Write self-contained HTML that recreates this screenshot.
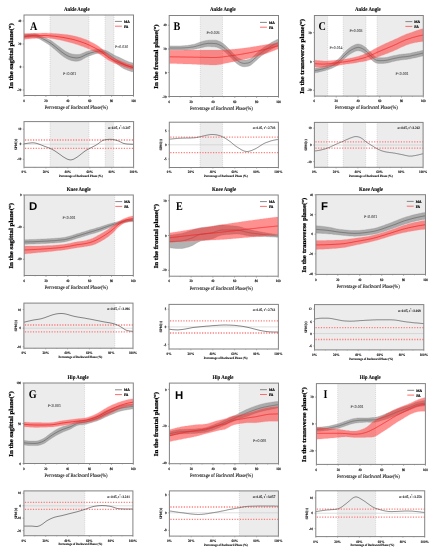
<!DOCTYPE html>
<html><head><meta charset="utf-8"><title>Figure</title>
<style>html,body{margin:0;padding:0;background:#fff;width:434px;height:550px;overflow:hidden}svg{display:block;filter:blur(0.3px)}text{text-rendering:geometricPrecision}</style>
</head><body>
<svg width="434" height="550" viewBox="0 0 434 550">
<defs><clipPath id="cA"><rect x="24" y="15" width="109.5" height="80.5"/></clipPath><clipPath id="cB"><rect x="169.2" y="15.5" width="109.3" height="81"/></clipPath><clipPath id="cC"><rect x="314.4" y="15.5" width="108.9" height="80.6"/></clipPath><clipPath id="cD"><rect x="24.2" y="195" width="109.1" height="80.5"/></clipPath><clipPath id="cE"><rect x="169.3" y="195" width="108.9" height="81.2"/></clipPath><clipPath id="cF"><rect x="315.9" y="194.7" width="109.6" height="79.7"/></clipPath><clipPath id="cG"><rect x="23.8" y="383" width="109.5" height="80.5"/></clipPath><clipPath id="cH"><rect x="169.4" y="383.1" width="109.1" height="80.6"/></clipPath><clipPath id="cI"><rect x="316.4" y="383.6" width="109" height="80.8"/></clipPath></defs>
<rect width="434" height="550" fill="#fff"/>
<rect x="50" y="15" width="39" height="80.5" fill="#ececec"/>
<line x1="50" y1="15" x2="50" y2="95.5" stroke="#b4b4b4" stroke-width="0.6" stroke-dasharray="0.7,1.4"/>
<line x1="89" y1="15" x2="89" y2="95.5" stroke="#b4b4b4" stroke-width="0.6" stroke-dasharray="0.7,1.4"/>
<rect x="105" y="15" width="9" height="80.5" fill="#ececec"/>
<line x1="105" y1="15" x2="105" y2="95.5" stroke="#b4b4b4" stroke-width="0.6" stroke-dasharray="0.7,1.4"/>
<line x1="114" y1="15" x2="114" y2="95.5" stroke="#b4b4b4" stroke-width="0.6" stroke-dasharray="0.7,1.4"/>
<g clip-path="url(#cA)">
<path d="M24,34.7 L25,34.5 L26,34.4 L27,34.2 L28,34.1 L29,34 L30,33.9 L31,33.8 L32,33.8 L33,33.8 L34,33.8 L35,33.8 L36,34 L37,34.2 L38,34.5 L39,35 L40,35.4 L41,35.9 L42,36.4 L43,36.9 L44,37.3 L45,37.7 L46,38.1 L47,38.5 L48,38.9 L49,39.4 L50,40 L51,40.6 L52,41.2 L53,41.9 L54,42.7 L55,43.4 L56,44.2 L57,45 L58,45.8 L59,46.5 L60,47.3 L61,48.1 L62,48.8 L63,49.6 L64,50.2 L65,50.9 L66,51.5 L67,52.1 L68,52.6 L69,53.1 L70,53.4 L71,53.7 L72,54 L73,54.2 L74,54.3 L75,54.4 L76,54.5 L77,54.5 L78,54.5 L79,54.4 L80,54.2 L81,53.9 L82,53.5 L83,53.1 L84,52.7 L85,52.2 L86,51.8 L87,51.5 L88,51.2 L89,50.9 L90,50.6 L91,50.3 L92,50.1 L93,49.9 L94,49.7 L95,49.5 L96,49.4 L97,49.2 L98,49.2 L99,49.2 L100,49.2 L101,49.3 L102,49.5 L103,49.7 L104,49.9 L105,50.2 L106,50.6 L107,51 L108,51.5 L109,52.1 L110,52.7 L111,53.2 L112,53.8 L113,54.3 L114,54.9 L115,55.4 L116,55.9 L117,56.4 L118,56.8 L119,57.3 L120,57.8 L121,58.2 L122,58.7 L123,59.2 L124,59.7 L125,60.2 L126,60.7 L127,61.1 L128,61.5 L129,61.9 L130,62.2 L131,62.5 L132,62.8 L133,63.1 L133.5,63.1 L133.5,71.9 L133,71.8 L132,71.7 L131,71.4 L130,71.1 L129,70.8 L128,70.4 L127,70 L126,69.6 L125,69.2 L124,68.7 L123,68.2 L122,67.6 L121,67 L120,66.3 L119,65.5 L118,64.7 L117,63.9 L116,63.1 L115,62.3 L114,61.4 L113,60.6 L112,59.7 L111,58.9 L110,58.1 L109,57.3 L108,56.5 L107,55.8 L106,55.2 L105,54.7 L104,54.3 L103,53.9 L102,53.7 L101,53.4 L100,53.3 L99,53.3 L98,53.3 L97,53.4 L96,53.7 L95,53.9 L94,54.3 L93,54.6 L92,55 L91,55.3 L90,55.7 L89,56.1 L88,56.4 L87,56.9 L86,57.3 L85,57.9 L84,58.5 L83,59.1 L82,59.7 L81,60.2 L80,60.6 L79,60.9 L78,61.1 L77,61.2 L76,61.2 L75,61.2 L74,61 L73,60.9 L72,60.7 L71,60.4 L70,60.1 L69,59.8 L68,59.3 L67,58.8 L66,58.2 L65,57.6 L64,57 L63,56.3 L62,55.5 L61,54.7 L60,53.9 L59,53 L58,52.2 L57,51.3 L56,50.4 L55,49.6 L54,48.7 L53,47.9 L52,47.1 L51,46.3 L50,45.6 L49,44.8 L48,44.1 L47,43.5 L46,42.8 L45,42.2 L44,41.6 L43,41 L42,40.4 L41,39.8 L40,39.3 L39,38.7 L38,38.2 L37,37.9 L36,37.6 L35,37.4 L34,37.3 L33,37.3 L32,37.3 L31,37.3 L30,37.3 L29,37.4 L28,37.5 L27,37.6 L26,37.8 L25,37.9 L24,38Z" fill="#808080" fill-opacity="0.6"/><polyline points="24,34.7 25,34.5 26,34.4 27,34.2 28,34.1 29,34 30,33.9 31,33.8 32,33.8 33,33.8 34,33.8 35,33.8 36,34 37,34.2 38,34.5 39,35 40,35.4 41,35.9 42,36.4 43,36.9 44,37.3 45,37.7 46,38.1 47,38.5 48,38.9 49,39.4 50,40 51,40.6 52,41.2 53,41.9 54,42.7 55,43.4 56,44.2 57,45 58,45.8 59,46.5 60,47.3 61,48.1 62,48.8 63,49.6 64,50.2 65,50.9 66,51.5 67,52.1 68,52.6 69,53.1 70,53.4 71,53.7 72,54 73,54.2 74,54.3 75,54.4 76,54.5 77,54.5 78,54.5 79,54.4 80,54.2 81,53.9 82,53.5 83,53.1 84,52.7 85,52.2 86,51.8 87,51.5 88,51.2 89,50.9 90,50.6 91,50.3 92,50.1 93,49.9 94,49.7 95,49.5 96,49.4 97,49.2 98,49.2 99,49.2 100,49.2 101,49.3 102,49.5 103,49.7 104,49.9 105,50.2 106,50.6 107,51 108,51.5 109,52.1 110,52.7 111,53.2 112,53.8 113,54.3 114,54.9 115,55.4 116,55.9 117,56.4 118,56.8 119,57.3 120,57.8 121,58.2 122,58.7 123,59.2 124,59.7 125,60.2 126,60.7 127,61.1 128,61.5 129,61.9 130,62.2 131,62.5 132,62.8 133,63.1 133.5,63.1" fill="none" stroke="#8a8a8a" stroke-width="0.3"/><polyline points="24,38 25,37.9 26,37.8 27,37.6 28,37.5 29,37.4 30,37.3 31,37.3 32,37.3 33,37.3 34,37.3 35,37.4 36,37.6 37,37.9 38,38.2 39,38.7 40,39.3 41,39.8 42,40.4 43,41 44,41.6 45,42.2 46,42.8 47,43.5 48,44.1 49,44.8 50,45.6 51,46.3 52,47.1 53,47.9 54,48.7 55,49.6 56,50.4 57,51.3 58,52.2 59,53 60,53.9 61,54.7 62,55.5 63,56.3 64,57 65,57.6 66,58.2 67,58.8 68,59.3 69,59.8 70,60.1 71,60.4 72,60.7 73,60.9 74,61 75,61.2 76,61.2 77,61.2 78,61.1 79,60.9 80,60.6 81,60.2 82,59.7 83,59.1 84,58.5 85,57.9 86,57.3 87,56.9 88,56.4 89,56.1 90,55.7 91,55.3 92,55 93,54.6 94,54.3 95,53.9 96,53.7 97,53.4 98,53.3 99,53.3 100,53.3 101,53.4 102,53.7 103,53.9 104,54.3 105,54.7 106,55.2 107,55.8 108,56.5 109,57.3 110,58.1 111,58.9 112,59.7 113,60.6 114,61.4 115,62.3 116,63.1 117,63.9 118,64.7 119,65.5 120,66.3 121,67 122,67.6 123,68.2 124,68.7 125,69.2 126,69.6 127,70 128,70.4 129,70.8 130,71.1 131,71.4 132,71.7 133,71.8 133.5,71.9" fill="none" stroke="#8a8a8a" stroke-width="0.3"/><polyline points="24,36.4 25,36.2 26,36.1 27,35.9 28,35.8 29,35.7 30,35.6 31,35.6 32,35.5 33,35.5 34,35.5 35,35.6 36,35.8 37,36 38,36.4 39,36.8 40,37.4 41,37.9 42,38.4 43,38.9 44,39.4 45,39.9 46,40.4 47,41 48,41.5 49,42.1 50,42.8 51,43.4 52,44.2 53,44.9 54,45.7 55,46.5 56,47.3 57,48.1 58,49 59,49.8 60,50.6 61,51.4 62,52.2 63,52.9 64,53.6 65,54.3 66,54.9 67,55.5 68,56 69,56.4 70,56.8 71,57.1 72,57.3 73,57.5 74,57.7 75,57.8 76,57.9 77,57.9 78,57.8 79,57.6 80,57.4 81,57 82,56.6 83,56.1 84,55.6 85,55.1 86,54.6 87,54.2 88,53.8 89,53.5 90,53.1 91,52.8 92,52.5 93,52.3 94,52 95,51.7 96,51.5 97,51.3 98,51.2 99,51.2 100,51.3 101,51.4 102,51.6 103,51.8 104,52.1 105,52.5 106,52.9 107,53.4 108,54 109,54.7 110,55.4 111,56.1 112,56.8 113,57.5 114,58.1 115,58.8 116,59.5 117,60.1 118,60.8 119,61.4 120,62 121,62.6 122,63.2 123,63.7 124,64.2 125,64.7 126,65.1 127,65.6 128,66 129,66.3 130,66.7 131,67 132,67.2 133,67.5 133.5,67.5" fill="none" stroke="#555555" stroke-width="0.55"/>
<path d="M24,33.5 L25,33.5 L26,33.5 L27,33.5 L28,33.4 L29,33.4 L30,33.4 L31,33.4 L32,33.4 L33,33.4 L34,33.3 L35,33.3 L36,33.3 L37,33.3 L38,33.2 L39,33.2 L40,33.2 L41,33.2 L42,33.1 L43,33.1 L44,33.1 L45,33.1 L46,33.1 L47,33.1 L48,33.2 L49,33.2 L50,33.2 L51,33.3 L52,33.3 L53,33.4 L54,33.5 L55,33.5 L56,33.6 L57,33.7 L58,33.7 L59,33.8 L60,33.9 L61,34 L62,34.1 L63,34.2 L64,34.3 L65,34.4 L66,34.5 L67,34.6 L68,34.8 L69,34.9 L70,35.1 L71,35.3 L72,35.5 L73,35.7 L74,35.9 L75,36.1 L76,36.4 L77,36.6 L78,36.9 L79,37.2 L80,37.5 L81,37.8 L82,38.2 L83,38.5 L84,38.9 L85,39.2 L86,39.6 L87,40 L88,40.5 L89,40.9 L90,41.4 L91,42 L92,42.5 L93,43 L94,43.6 L95,44.1 L96,44.7 L97,45.3 L98,46 L99,46.6 L100,47.4 L101,48.1 L102,48.9 L103,49.8 L104,50.7 L105,51.6 L106,52.5 L107,53.4 L108,54.2 L109,55 L110,55.8 L111,56.4 L112,57 L113,57.6 L114,58.1 L115,58.5 L116,59 L117,59.4 L118,59.8 L119,60.2 L120,60.6 L121,61 L122,61.4 L123,61.8 L124,62.2 L125,62.6 L126,63 L127,63.4 L128,63.7 L129,64 L130,64.3 L131,64.6 L132,64.8 L133,65 L133.5,65.1 L133.5,69.7 L133,69.6 L132,69.4 L131,69.2 L130,68.9 L129,68.6 L128,68.3 L127,68 L126,67.7 L125,67.3 L124,67 L123,66.6 L122,66.2 L121,65.8 L120,65.4 L119,65 L118,64.6 L117,64.2 L116,63.8 L115,63.4 L114,62.9 L113,62.5 L112,62 L111,61.6 L110,61 L109,60.5 L108,59.9 L107,59.2 L106,58.6 L105,57.9 L104,57.1 L103,56.4 L102,55.7 L101,55 L100,54.4 L99,53.8 L98,53.3 L97,52.8 L96,52.4 L95,51.9 L94,51.5 L93,51 L92,50.5 L91,50 L90,49.6 L89,49.1 L88,48.7 L87,48.2 L86,47.8 L85,47.4 L84,47 L83,46.6 L82,46.3 L81,45.9 L80,45.5 L79,45.2 L78,44.8 L77,44.5 L76,44.2 L75,43.9 L74,43.6 L73,43.3 L72,43 L71,42.7 L70,42.5 L69,42.2 L68,41.9 L67,41.7 L66,41.4 L65,41.2 L64,40.9 L63,40.7 L62,40.5 L61,40.2 L60,40 L59,39.8 L58,39.7 L57,39.5 L56,39.3 L55,39.1 L54,38.9 L53,38.7 L52,38.6 L51,38.4 L50,38.3 L49,38.2 L48,38.1 L47,38 L46,38 L45,37.9 L44,37.9 L43,37.9 L42,38 L41,38 L40,38.1 L39,38.1 L38,38.2 L37,38.2 L36,38.3 L35,38.4 L34,38.4 L33,38.5 L32,38.6 L31,38.7 L30,38.8 L29,38.9 L28,39 L27,39.1 L26,39.2 L25,39.3 L24,39.4Z" fill="#ff2a2a" fill-opacity="0.52"/><polyline points="24,33.5 25,33.5 26,33.5 27,33.5 28,33.4 29,33.4 30,33.4 31,33.4 32,33.4 33,33.4 34,33.3 35,33.3 36,33.3 37,33.3 38,33.2 39,33.2 40,33.2 41,33.2 42,33.1 43,33.1 44,33.1 45,33.1 46,33.1 47,33.1 48,33.2 49,33.2 50,33.2 51,33.3 52,33.3 53,33.4 54,33.5 55,33.5 56,33.6 57,33.7 58,33.7 59,33.8 60,33.9 61,34 62,34.1 63,34.2 64,34.3 65,34.4 66,34.5 67,34.6 68,34.8 69,34.9 70,35.1 71,35.3 72,35.5 73,35.7 74,35.9 75,36.1 76,36.4 77,36.6 78,36.9 79,37.2 80,37.5 81,37.8 82,38.2 83,38.5 84,38.9 85,39.2 86,39.6 87,40 88,40.5 89,40.9 90,41.4 91,42 92,42.5 93,43 94,43.6 95,44.1 96,44.7 97,45.3 98,46 99,46.6 100,47.4 101,48.1 102,48.9 103,49.8 104,50.7 105,51.6 106,52.5 107,53.4 108,54.2 109,55 110,55.8 111,56.4 112,57 113,57.6 114,58.1 115,58.5 116,59 117,59.4 118,59.8 119,60.2 120,60.6 121,61 122,61.4 123,61.8 124,62.2 125,62.6 126,63 127,63.4 128,63.7 129,64 130,64.3 131,64.6 132,64.8 133,65 133.5,65.1" fill="none" stroke="#ff9090" stroke-width="0.25"/><polyline points="24,39.4 25,39.3 26,39.2 27,39.1 28,39 29,38.9 30,38.8 31,38.7 32,38.6 33,38.5 34,38.4 35,38.4 36,38.3 37,38.2 38,38.2 39,38.1 40,38.1 41,38 42,38 43,37.9 44,37.9 45,37.9 46,38 47,38 48,38.1 49,38.2 50,38.3 51,38.4 52,38.6 53,38.7 54,38.9 55,39.1 56,39.3 57,39.5 58,39.7 59,39.8 60,40 61,40.2 62,40.5 63,40.7 64,40.9 65,41.2 66,41.4 67,41.7 68,41.9 69,42.2 70,42.5 71,42.7 72,43 73,43.3 74,43.6 75,43.9 76,44.2 77,44.5 78,44.8 79,45.2 80,45.5 81,45.9 82,46.3 83,46.6 84,47 85,47.4 86,47.8 87,48.2 88,48.7 89,49.1 90,49.6 91,50 92,50.5 93,51 94,51.5 95,51.9 96,52.4 97,52.8 98,53.3 99,53.8 100,54.4 101,55 102,55.7 103,56.4 104,57.1 105,57.9 106,58.6 107,59.2 108,59.9 109,60.5 110,61 111,61.6 112,62 113,62.5 114,62.9 115,63.4 116,63.8 117,64.2 118,64.6 119,65 120,65.4 121,65.8 122,66.2 123,66.6 124,67 125,67.3 126,67.7 127,68 128,68.3 129,68.6 130,68.9 131,69.2 132,69.4 133,69.6 133.5,69.7" fill="none" stroke="#ff9090" stroke-width="0.25"/><polyline points="24,36.5 25,36.4 26,36.4 27,36.3 28,36.2 29,36.2 30,36.1 31,36 32,36 33,35.9 34,35.9 35,35.8 36,35.8 37,35.7 38,35.7 39,35.7 40,35.6 41,35.6 42,35.6 43,35.5 44,35.5 45,35.5 46,35.5 47,35.6 48,35.6 49,35.7 50,35.8 51,35.9 52,36 53,36.1 54,36.2 55,36.3 56,36.4 57,36.6 58,36.7 59,36.8 60,37 61,37.1 62,37.3 63,37.4 64,37.6 65,37.8 66,38 67,38.2 68,38.4 69,38.6 70,38.8 71,39 72,39.2 73,39.5 74,39.7 75,40 76,40.3 77,40.6 78,40.9 79,41.2 80,41.5 81,41.9 82,42.2 83,42.6 84,42.9 85,43.3 86,43.7 87,44.1 88,44.6 89,45 90,45.5 91,46 92,46.5 93,47 94,47.5 95,48 96,48.5 97,49.1 98,49.6 99,50.2 100,50.9 101,51.6 102,52.3 103,53.1 104,53.9 105,54.7 106,55.5 107,56.3 108,57.1 109,57.8 110,58.4 111,59 112,59.5 113,60 114,60.5 115,61 116,61.4 117,61.8 118,62.2 119,62.6 120,63 121,63.4 122,63.8 123,64.2 124,64.6 125,65 126,65.4 127,65.7 128,66 129,66.3 130,66.6 131,66.9 132,67.1 133,67.3 133.5,67.4" fill="none" stroke="#f52525" stroke-width="0.75"/>
</g>
<rect x="24" y="15" width="109.5" height="80.5" fill="none" stroke="#828282" stroke-width="1.0"/>
<line x1="22.7" y1="21" x2="24" y2="21" stroke="#828282" stroke-width="0.7"/>
<text transform="translate(21.20,22.10) scale(0.9,1)" font-size="3.33" text-anchor="end" font-weight="normal" style="font-family:'Liberation Serif',serif" fill="#222" stroke="#222" stroke-width="0.2" >40</text>
<line x1="22.7" y1="44" x2="24" y2="44" stroke="#828282" stroke-width="0.7"/>
<text transform="translate(21.20,45.10) scale(0.9,1)" font-size="3.33" text-anchor="end" font-weight="normal" style="font-family:'Liberation Serif',serif" fill="#222" stroke="#222" stroke-width="0.2" >20</text>
<line x1="22.7" y1="67" x2="24" y2="67" stroke="#828282" stroke-width="0.7"/>
<text transform="translate(21.20,68.10) scale(0.9,1)" font-size="3.33" text-anchor="end" font-weight="normal" style="font-family:'Liberation Serif',serif" fill="#222" stroke="#222" stroke-width="0.2" >0</text>
<line x1="22.7" y1="90" x2="24" y2="90" stroke="#828282" stroke-width="0.7"/>
<text transform="translate(21.20,91.10) scale(0.9,1)" font-size="3.33" text-anchor="end" font-weight="normal" style="font-family:'Liberation Serif',serif" fill="#222" stroke="#222" stroke-width="0.2" >-20</text>
<line x1="24" y1="95.5" x2="24" y2="97" stroke="#828282" stroke-width="0.6"/>
<text transform="translate(24.00,101.70) scale(0.9,1)" font-size="3.50" text-anchor="middle" font-weight="normal" style="font-family:'Liberation Serif',serif" fill="#222" stroke="#222" stroke-width="0.22" >0</text>
<line x1="35" y1="95.5" x2="35" y2="96.4" stroke="#828282" stroke-width="0.5"/>
<line x1="45.9" y1="95.5" x2="45.9" y2="97" stroke="#828282" stroke-width="0.6"/>
<text transform="translate(45.90,101.70) scale(0.9,1)" font-size="3.50" text-anchor="middle" font-weight="normal" style="font-family:'Liberation Serif',serif" fill="#222" stroke="#222" stroke-width="0.22" >20</text>
<line x1="56.8" y1="95.5" x2="56.8" y2="96.4" stroke="#828282" stroke-width="0.5"/>
<line x1="67.8" y1="95.5" x2="67.8" y2="97" stroke="#828282" stroke-width="0.6"/>
<text transform="translate(67.80,101.70) scale(0.9,1)" font-size="3.50" text-anchor="middle" font-weight="normal" style="font-family:'Liberation Serif',serif" fill="#222" stroke="#222" stroke-width="0.22" >40</text>
<line x1="78.8" y1="95.5" x2="78.8" y2="96.4" stroke="#828282" stroke-width="0.5"/>
<line x1="89.7" y1="95.5" x2="89.7" y2="97" stroke="#828282" stroke-width="0.6"/>
<text transform="translate(89.70,101.70) scale(0.9,1)" font-size="3.50" text-anchor="middle" font-weight="normal" style="font-family:'Liberation Serif',serif" fill="#222" stroke="#222" stroke-width="0.22" >60</text>
<line x1="100.7" y1="95.5" x2="100.7" y2="96.4" stroke="#828282" stroke-width="0.5"/>
<line x1="111.6" y1="95.5" x2="111.6" y2="97" stroke="#828282" stroke-width="0.6"/>
<text transform="translate(111.60,101.70) scale(0.9,1)" font-size="3.50" text-anchor="middle" font-weight="normal" style="font-family:'Liberation Serif',serif" fill="#222" stroke="#222" stroke-width="0.22" >80</text>
<line x1="122.5" y1="95.5" x2="122.5" y2="96.4" stroke="#828282" stroke-width="0.5"/>
<line x1="133.5" y1="95.5" x2="133.5" y2="97" stroke="#828282" stroke-width="0.6"/>
<text transform="translate(133.50,101.70) scale(0.9,1)" font-size="3.50" text-anchor="middle" font-weight="normal" style="font-family:'Liberation Serif',serif" fill="#222" stroke="#222" stroke-width="0.22" >100</text>
<text transform="translate(76.25,108.80) scale(0.86,1)" font-size="5.29" text-anchor="middle" font-weight="normal" style="font-family:'Liberation Serif',serif" fill="#111" stroke="#111" stroke-width="0.1" >Percentage of Backward Phase(%)</text>
<text transform="translate(76.75,10.80) scale(0.86,1)" font-size="5.70" text-anchor="middle" font-weight="bold" style="font-family:'Liberation Serif',serif" fill="#000" stroke="#000" stroke-width="0.1" >Ankle Angle</text>
<text x="0" y="0" font-size="6.88" font-weight="bold" text-anchor="middle" style="font-family:'Liberation Serif',serif" fill="#000" stroke="#000" stroke-width="0.25" transform="translate(13,55.9) rotate(-90) scale(1,0.88)">In the sagittal plane(°)</text>
<text transform="translate(30.10,29.80) scale(0.86,1)" font-size="11.80" text-anchor="start" font-weight="bold" style="font-family:'Liberation Serif',serif" fill="#000" >A</text>
<line x1="115" y1="21.4" x2="121.9" y2="21.4" stroke="#7a7a7a" stroke-width="0.9"/>
<text transform="translate(123.90,22.80) scale(0.9,1)" font-size="3.90" text-anchor="start" font-weight="bold" style="font-family:'Liberation Serif',serif" fill="#000" stroke="#000" stroke-width="0.15" >MA</text>
<line x1="115" y1="26.2" x2="121.9" y2="26.2" stroke="#ff5c5c" stroke-width="0.9"/>
<text transform="translate(123.90,27.60) scale(0.9,1)" font-size="3.90" text-anchor="start" font-weight="bold" style="font-family:'Liberation Serif',serif" fill="#000" stroke="#000" stroke-width="0.15" >FA</text>
<text transform="translate(63.10,74.70) scale(0.9,1)" font-size="4.33" text-anchor="start" font-weight="normal" style="font-family:'Liberation Serif',serif" fill="#333" stroke="#333" stroke-width="0.05" >P&lt;0.001</text>
<text transform="translate(115.00,48.20) scale(0.9,1)" font-size="4.33" text-anchor="start" font-weight="normal" style="font-family:'Liberation Serif',serif" fill="#333" stroke="#333" stroke-width="0.05" >P=0.030</text>
<rect x="200.3" y="15.5" width="22.2" height="81" fill="#ececec"/>
<line x1="200.3" y1="15.5" x2="200.3" y2="96.5" stroke="#b4b4b4" stroke-width="0.6" stroke-dasharray="0.7,1.4"/>
<line x1="222.5" y1="15.5" x2="222.5" y2="96.5" stroke="#b4b4b4" stroke-width="0.6" stroke-dasharray="0.7,1.4"/>
<g clip-path="url(#cB)">
<path d="M169.3,45.9 L170.3,45.9 L171.3,45.9 L172.3,45.9 L173.3,45.9 L174.3,45.9 L175.3,45.9 L176.3,45.9 L177.3,45.9 L178.3,45.9 L179.3,45.9 L180.3,45.9 L181.3,45.9 L182.3,45.8 L183.3,45.8 L184.3,45.7 L185.3,45.6 L186.3,45.5 L187.3,45.4 L188.3,45.3 L189.3,45.1 L190.3,45 L191.3,44.8 L192.3,44.6 L193.3,44.4 L194.3,44.2 L195.3,43.9 L196.3,43.5 L197.3,43.2 L198.3,42.8 L199.3,42.5 L200.3,42.1 L201.3,41.8 L202.3,41.5 L203.3,41.2 L204.3,40.9 L205.3,40.7 L206.3,40.5 L207.3,40.4 L208.3,40.3 L209.3,40.2 L210.3,40.2 L211.3,40.2 L212.3,40.2 L213.3,40.2 L214.3,40.2 L215.3,40.2 L216.3,40.3 L217.3,40.6 L218.3,40.9 L219.3,41.3 L220.3,41.7 L221.3,42.3 L222.3,42.9 L223.3,43.6 L224.3,44.4 L225.3,45.2 L226.3,46.2 L227.3,47.2 L228.3,48.2 L229.3,49.2 L230.3,50.3 L231.3,51.3 L232.3,52.4 L233.3,53.5 L234.3,54.5 L235.3,55.5 L236.3,56.4 L237.3,57.2 L238.3,57.9 L239.3,58.5 L240.3,59 L241.3,59.5 L242.3,59.8 L243.3,60 L244.3,60 L245.3,60 L246.3,59.9 L247.3,59.7 L248.3,59.5 L249.3,59.2 L250.3,58.7 L251.3,58.1 L252.3,57.3 L253.3,56.4 L254.3,55.5 L255.3,54.6 L256.3,53.6 L257.3,52.7 L258.3,51.8 L259.3,50.9 L260.3,50.1 L261.3,49.3 L262.3,48.5 L263.3,47.8 L264.3,47.1 L265.3,46.5 L266.3,45.8 L267.3,45.2 L268.3,44.5 L269.3,43.9 L270.3,43.2 L271.3,42.6 L272.3,42 L273.3,41.4 L274.3,40.9 L275.3,40.4 L276.3,39.9 L277.3,39.6 L278.3,39.3 L278.5,39.2 L278.5,45.9 L278.3,46 L277.3,46.3 L276.3,46.7 L275.3,47.1 L274.3,47.6 L273.3,48.2 L272.3,48.7 L271.3,49.3 L270.3,50 L269.3,50.6 L268.3,51.3 L267.3,51.9 L266.3,52.6 L265.3,53.2 L264.3,53.9 L263.3,54.5 L262.3,55.3 L261.3,56 L260.3,56.8 L259.3,57.7 L258.3,58.6 L257.3,59.5 L256.3,60.4 L255.3,61.3 L254.3,62.2 L253.3,63.1 L252.3,64 L251.3,64.8 L250.3,65.4 L249.3,65.9 L248.3,66.2 L247.3,66.4 L246.3,66.6 L245.3,66.7 L244.3,66.7 L243.3,66.7 L242.3,66.5 L241.3,66.2 L240.3,65.7 L239.3,65.2 L238.3,64.6 L237.3,63.9 L236.3,63.1 L235.3,62.2 L234.3,61.2 L233.3,60.2 L232.3,59.1 L231.3,58.1 L230.3,57 L229.3,56 L228.3,55 L227.3,54.1 L226.3,53.1 L225.3,52.2 L224.3,51.4 L223.3,50.7 L222.3,50 L221.3,49.4 L220.3,48.8 L219.3,48.3 L218.3,47.8 L217.3,47.4 L216.3,47.1 L215.3,47 L214.3,46.8 L213.3,46.8 L212.3,46.7 L211.3,46.7 L210.3,46.6 L209.3,46.6 L208.3,46.6 L207.3,46.6 L206.3,46.7 L205.3,46.8 L204.3,47 L203.3,47.2 L202.3,47.5 L201.3,47.7 L200.3,47.9 L199.3,48.2 L198.3,48.4 L197.3,48.6 L196.3,48.9 L195.3,49.1 L194.3,49.2 L193.3,49.4 L192.3,49.5 L191.3,49.6 L190.3,49.7 L189.3,49.8 L188.3,49.8 L187.3,49.9 L186.3,50 L185.3,50 L184.3,50.1 L183.3,50.1 L182.3,50.1 L181.3,50.1 L180.3,50.1 L179.3,50.1 L178.3,50.1 L177.3,50.1 L176.3,50.1 L175.3,50.1 L174.3,50.1 L173.3,50.1 L172.3,50.1 L171.3,50.1 L170.3,50.1 L169.3,50.1Z" fill="#808080" fill-opacity="0.6"/><polyline points="169.3,45.9 170.3,45.9 171.3,45.9 172.3,45.9 173.3,45.9 174.3,45.9 175.3,45.9 176.3,45.9 177.3,45.9 178.3,45.9 179.3,45.9 180.3,45.9 181.3,45.9 182.3,45.8 183.3,45.8 184.3,45.7 185.3,45.6 186.3,45.5 187.3,45.4 188.3,45.3 189.3,45.1 190.3,45 191.3,44.8 192.3,44.6 193.3,44.4 194.3,44.2 195.3,43.9 196.3,43.5 197.3,43.2 198.3,42.8 199.3,42.5 200.3,42.1 201.3,41.8 202.3,41.5 203.3,41.2 204.3,40.9 205.3,40.7 206.3,40.5 207.3,40.4 208.3,40.3 209.3,40.2 210.3,40.2 211.3,40.2 212.3,40.2 213.3,40.2 214.3,40.2 215.3,40.2 216.3,40.3 217.3,40.6 218.3,40.9 219.3,41.3 220.3,41.7 221.3,42.3 222.3,42.9 223.3,43.6 224.3,44.4 225.3,45.2 226.3,46.2 227.3,47.2 228.3,48.2 229.3,49.2 230.3,50.3 231.3,51.3 232.3,52.4 233.3,53.5 234.3,54.5 235.3,55.5 236.3,56.4 237.3,57.2 238.3,57.9 239.3,58.5 240.3,59 241.3,59.5 242.3,59.8 243.3,60 244.3,60 245.3,60 246.3,59.9 247.3,59.7 248.3,59.5 249.3,59.2 250.3,58.7 251.3,58.1 252.3,57.3 253.3,56.4 254.3,55.5 255.3,54.6 256.3,53.6 257.3,52.7 258.3,51.8 259.3,50.9 260.3,50.1 261.3,49.3 262.3,48.5 263.3,47.8 264.3,47.1 265.3,46.5 266.3,45.8 267.3,45.2 268.3,44.5 269.3,43.9 270.3,43.2 271.3,42.6 272.3,42 273.3,41.4 274.3,40.9 275.3,40.4 276.3,39.9 277.3,39.6 278.3,39.3 278.5,39.2" fill="none" stroke="#8a8a8a" stroke-width="0.3"/><polyline points="169.3,50.1 170.3,50.1 171.3,50.1 172.3,50.1 173.3,50.1 174.3,50.1 175.3,50.1 176.3,50.1 177.3,50.1 178.3,50.1 179.3,50.1 180.3,50.1 181.3,50.1 182.3,50.1 183.3,50.1 184.3,50.1 185.3,50 186.3,50 187.3,49.9 188.3,49.8 189.3,49.8 190.3,49.7 191.3,49.6 192.3,49.5 193.3,49.4 194.3,49.2 195.3,49.1 196.3,48.9 197.3,48.6 198.3,48.4 199.3,48.2 200.3,47.9 201.3,47.7 202.3,47.5 203.3,47.2 204.3,47 205.3,46.8 206.3,46.7 207.3,46.6 208.3,46.6 209.3,46.6 210.3,46.6 211.3,46.7 212.3,46.7 213.3,46.8 214.3,46.8 215.3,47 216.3,47.1 217.3,47.4 218.3,47.8 219.3,48.3 220.3,48.8 221.3,49.4 222.3,50 223.3,50.7 224.3,51.4 225.3,52.2 226.3,53.1 227.3,54.1 228.3,55 229.3,56 230.3,57 231.3,58.1 232.3,59.1 233.3,60.2 234.3,61.2 235.3,62.2 236.3,63.1 237.3,63.9 238.3,64.6 239.3,65.2 240.3,65.7 241.3,66.2 242.3,66.5 243.3,66.7 244.3,66.7 245.3,66.7 246.3,66.6 247.3,66.4 248.3,66.2 249.3,65.9 250.3,65.4 251.3,64.8 252.3,64 253.3,63.1 254.3,62.2 255.3,61.3 256.3,60.4 257.3,59.5 258.3,58.6 259.3,57.7 260.3,56.8 261.3,56 262.3,55.3 263.3,54.5 264.3,53.9 265.3,53.2 266.3,52.6 267.3,51.9 268.3,51.3 269.3,50.6 270.3,50 271.3,49.3 272.3,48.7 273.3,48.2 274.3,47.6 275.3,47.1 276.3,46.7 277.3,46.3 278.3,46 278.5,45.9" fill="none" stroke="#8a8a8a" stroke-width="0.3"/><polyline points="169.3,48 170.3,48 171.3,48 172.3,48 173.3,48 174.3,48 175.3,48 176.3,48 177.3,48 178.3,48 179.3,48 180.3,48 181.3,48 182.3,48 183.3,47.9 184.3,47.9 185.3,47.8 186.3,47.7 187.3,47.7 188.3,47.6 189.3,47.5 190.3,47.3 191.3,47.2 192.3,47.1 193.3,46.9 194.3,46.7 195.3,46.5 196.3,46.2 197.3,45.9 198.3,45.6 199.3,45.3 200.3,45 201.3,44.8 202.3,44.5 203.3,44.2 204.3,44 205.3,43.8 206.3,43.6 207.3,43.5 208.3,43.4 209.3,43.4 210.3,43.4 211.3,43.4 212.3,43.4 213.3,43.5 214.3,43.5 215.3,43.6 216.3,43.7 217.3,44 218.3,44.3 219.3,44.8 220.3,45.3 221.3,45.8 222.3,46.5 223.3,47.1 224.3,47.9 225.3,48.7 226.3,49.7 227.3,50.6 228.3,51.6 229.3,52.6 230.3,53.6 231.3,54.7 232.3,55.8 233.3,56.8 234.3,57.9 235.3,58.9 236.3,59.8 237.3,60.5 238.3,61.2 239.3,61.8 240.3,62.4 241.3,62.8 242.3,63.1 243.3,63.3 244.3,63.4 245.3,63.3 246.3,63.2 247.3,63.1 248.3,62.9 249.3,62.5 250.3,62.1 251.3,61.4 252.3,60.7 253.3,59.8 254.3,58.9 255.3,57.9 256.3,57 257.3,56.1 258.3,55.2 259.3,54.3 260.3,53.5 261.3,52.7 262.3,51.9 263.3,51.2 264.3,50.5 265.3,49.8 266.3,49.2 267.3,48.6 268.3,47.9 269.3,47.2 270.3,46.6 271.3,46 272.3,45.4 273.3,44.8 274.3,44.3 275.3,43.8 276.3,43.3 277.3,42.9 278.3,42.6 278.5,42.5" fill="none" stroke="#555555" stroke-width="0.55"/>
<path d="M169.3,50.2 L170.3,50.2 L171.3,50.2 L172.3,50.2 L173.3,50.2 L174.3,50.2 L175.3,50.2 L176.3,50.2 L177.3,50.2 L178.3,50.2 L179.3,50.2 L180.3,50.2 L181.3,50.2 L182.3,50.2 L183.3,50.2 L184.3,50.1 L185.3,50.1 L186.3,50.1 L187.3,50.1 L188.3,50.1 L189.3,50.1 L190.3,50.1 L191.3,50.1 L192.3,50.1 L193.3,50.1 L194.3,50.1 L195.3,50.1 L196.3,50.1 L197.3,50.1 L198.3,50.1 L199.3,50.1 L200.3,50.1 L201.3,50.1 L202.3,50.1 L203.3,50.1 L204.3,50 L205.3,50 L206.3,50 L207.3,50 L208.3,50 L209.3,50 L210.3,50 L211.3,50 L212.3,50 L213.3,50 L214.3,50 L215.3,50 L216.3,50 L217.3,50 L218.3,50 L219.3,50 L220.3,49.9 L221.3,49.9 L222.3,49.9 L223.3,49.8 L224.3,49.8 L225.3,49.8 L226.3,49.7 L227.3,49.7 L228.3,49.6 L229.3,49.5 L230.3,49.5 L231.3,49.4 L232.3,49.3 L233.3,49.3 L234.3,49.2 L235.3,49.1 L236.3,49 L237.3,48.9 L238.3,48.8 L239.3,48.7 L240.3,48.6 L241.3,48.4 L242.3,48.3 L243.3,48.2 L244.3,48.1 L245.3,48 L246.3,47.8 L247.3,47.7 L248.3,47.5 L249.3,47.4 L250.3,47.2 L251.3,47.1 L252.3,46.9 L253.3,46.7 L254.3,46.6 L255.3,46.4 L256.3,46.2 L257.3,46.1 L258.3,45.9 L259.3,45.7 L260.3,45.6 L261.3,45.4 L262.3,45.2 L263.3,45.1 L264.3,44.9 L265.3,44.7 L266.3,44.6 L267.3,44.4 L268.3,44.3 L269.3,44.1 L270.3,44 L271.3,43.8 L272.3,43.7 L273.3,43.5 L274.3,43.3 L275.3,43.2 L276.3,43 L277.3,42.9 L278.3,42.8 L278.5,42.8 L278.5,48.9 L278.3,49 L277.3,49.3 L276.3,49.6 L275.3,50 L274.3,50.4 L273.3,50.8 L272.3,51.2 L271.3,51.6 L270.3,52 L269.3,52.3 L268.3,52.7 L267.3,53 L266.3,53.4 L265.3,53.7 L264.3,54.1 L263.3,54.4 L262.3,54.7 L261.3,55 L260.3,55.3 L259.3,55.6 L258.3,55.9 L257.3,56.2 L256.3,56.4 L255.3,56.7 L254.3,57 L253.3,57.2 L252.3,57.5 L251.3,57.7 L250.3,58 L249.3,58.2 L248.3,58.4 L247.3,58.7 L246.3,58.9 L245.3,59.1 L244.3,59.4 L243.3,59.6 L242.3,59.8 L241.3,60 L240.3,60.2 L239.3,60.4 L238.3,60.7 L237.3,60.9 L236.3,61.1 L235.3,61.3 L234.3,61.5 L233.3,61.7 L232.3,61.9 L231.3,62.1 L230.3,62.3 L229.3,62.5 L228.3,62.7 L227.3,62.9 L226.3,63.1 L225.3,63.3 L224.3,63.6 L223.3,63.8 L222.3,64 L221.3,64.2 L220.3,64.4 L219.3,64.6 L218.3,64.7 L217.3,64.8 L216.3,64.9 L215.3,65 L214.3,65 L213.3,65 L212.3,65 L211.3,64.9 L210.3,64.9 L209.3,64.9 L208.3,64.8 L207.3,64.8 L206.3,64.8 L205.3,64.7 L204.3,64.7 L203.3,64.6 L202.3,64.6 L201.3,64.5 L200.3,64.5 L199.3,64.4 L198.3,64.4 L197.3,64.4 L196.3,64.3 L195.3,64.3 L194.3,64.2 L193.3,64.2 L192.3,64.2 L191.3,64.1 L190.3,64.1 L189.3,64.1 L188.3,64 L187.3,64 L186.3,64 L185.3,63.9 L184.3,63.9 L183.3,63.9 L182.3,63.8 L181.3,63.8 L180.3,63.8 L179.3,63.7 L178.3,63.7 L177.3,63.7 L176.3,63.6 L175.3,63.6 L174.3,63.6 L173.3,63.5 L172.3,63.5 L171.3,63.5 L170.3,63.4 L169.3,63.4Z" fill="#ff2a2a" fill-opacity="0.52"/><polyline points="169.3,50.2 170.3,50.2 171.3,50.2 172.3,50.2 173.3,50.2 174.3,50.2 175.3,50.2 176.3,50.2 177.3,50.2 178.3,50.2 179.3,50.2 180.3,50.2 181.3,50.2 182.3,50.2 183.3,50.2 184.3,50.1 185.3,50.1 186.3,50.1 187.3,50.1 188.3,50.1 189.3,50.1 190.3,50.1 191.3,50.1 192.3,50.1 193.3,50.1 194.3,50.1 195.3,50.1 196.3,50.1 197.3,50.1 198.3,50.1 199.3,50.1 200.3,50.1 201.3,50.1 202.3,50.1 203.3,50.1 204.3,50 205.3,50 206.3,50 207.3,50 208.3,50 209.3,50 210.3,50 211.3,50 212.3,50 213.3,50 214.3,50 215.3,50 216.3,50 217.3,50 218.3,50 219.3,50 220.3,49.9 221.3,49.9 222.3,49.9 223.3,49.8 224.3,49.8 225.3,49.8 226.3,49.7 227.3,49.7 228.3,49.6 229.3,49.5 230.3,49.5 231.3,49.4 232.3,49.3 233.3,49.3 234.3,49.2 235.3,49.1 236.3,49 237.3,48.9 238.3,48.8 239.3,48.7 240.3,48.6 241.3,48.4 242.3,48.3 243.3,48.2 244.3,48.1 245.3,48 246.3,47.8 247.3,47.7 248.3,47.5 249.3,47.4 250.3,47.2 251.3,47.1 252.3,46.9 253.3,46.7 254.3,46.6 255.3,46.4 256.3,46.2 257.3,46.1 258.3,45.9 259.3,45.7 260.3,45.6 261.3,45.4 262.3,45.2 263.3,45.1 264.3,44.9 265.3,44.7 266.3,44.6 267.3,44.4 268.3,44.3 269.3,44.1 270.3,44 271.3,43.8 272.3,43.7 273.3,43.5 274.3,43.3 275.3,43.2 276.3,43 277.3,42.9 278.3,42.8 278.5,42.8" fill="none" stroke="#ff9090" stroke-width="0.25"/><polyline points="169.3,63.4 170.3,63.4 171.3,63.5 172.3,63.5 173.3,63.5 174.3,63.6 175.3,63.6 176.3,63.6 177.3,63.7 178.3,63.7 179.3,63.7 180.3,63.8 181.3,63.8 182.3,63.8 183.3,63.9 184.3,63.9 185.3,63.9 186.3,64 187.3,64 188.3,64 189.3,64.1 190.3,64.1 191.3,64.1 192.3,64.2 193.3,64.2 194.3,64.2 195.3,64.3 196.3,64.3 197.3,64.4 198.3,64.4 199.3,64.4 200.3,64.5 201.3,64.5 202.3,64.6 203.3,64.6 204.3,64.7 205.3,64.7 206.3,64.8 207.3,64.8 208.3,64.8 209.3,64.9 210.3,64.9 211.3,64.9 212.3,65 213.3,65 214.3,65 215.3,65 216.3,64.9 217.3,64.8 218.3,64.7 219.3,64.6 220.3,64.4 221.3,64.2 222.3,64 223.3,63.8 224.3,63.6 225.3,63.3 226.3,63.1 227.3,62.9 228.3,62.7 229.3,62.5 230.3,62.3 231.3,62.1 232.3,61.9 233.3,61.7 234.3,61.5 235.3,61.3 236.3,61.1 237.3,60.9 238.3,60.7 239.3,60.4 240.3,60.2 241.3,60 242.3,59.8 243.3,59.6 244.3,59.4 245.3,59.1 246.3,58.9 247.3,58.7 248.3,58.4 249.3,58.2 250.3,58 251.3,57.7 252.3,57.5 253.3,57.2 254.3,57 255.3,56.7 256.3,56.4 257.3,56.2 258.3,55.9 259.3,55.6 260.3,55.3 261.3,55 262.3,54.7 263.3,54.4 264.3,54.1 265.3,53.7 266.3,53.4 267.3,53 268.3,52.7 269.3,52.3 270.3,52 271.3,51.6 272.3,51.2 273.3,50.8 274.3,50.4 275.3,50 276.3,49.6 277.3,49.3 278.3,49 278.5,48.9" fill="none" stroke="#ff9090" stroke-width="0.25"/><polyline points="169.3,56.8 170.3,56.8 171.3,56.8 172.3,56.8 173.3,56.9 174.3,56.9 175.3,56.9 176.3,56.9 177.3,56.9 178.3,56.9 179.3,56.9 180.3,57 181.3,57 182.3,57 183.3,57 184.3,57 185.3,57 186.3,57.1 187.3,57.1 188.3,57.1 189.3,57.1 190.3,57.1 191.3,57.1 192.3,57.1 193.3,57.2 194.3,57.2 195.3,57.2 196.3,57.2 197.3,57.2 198.3,57.2 199.3,57.3 200.3,57.3 201.3,57.3 202.3,57.3 203.3,57.3 204.3,57.4 205.3,57.4 206.3,57.4 207.3,57.4 208.3,57.4 209.3,57.5 210.3,57.5 211.3,57.5 212.3,57.5 213.3,57.5 214.3,57.5 215.3,57.5 216.3,57.5 217.3,57.4 218.3,57.3 219.3,57.3 220.3,57.2 221.3,57.1 222.3,57 223.3,56.8 224.3,56.7 225.3,56.5 226.3,56.4 227.3,56.3 228.3,56.1 229.3,56 230.3,55.9 231.3,55.7 232.3,55.6 233.3,55.5 234.3,55.3 235.3,55.2 236.3,55 237.3,54.9 238.3,54.7 239.3,54.6 240.3,54.4 241.3,54.2 242.3,54.1 243.3,53.9 244.3,53.7 245.3,53.5 246.3,53.4 247.3,53.2 248.3,53 249.3,52.8 250.3,52.6 251.3,52.4 252.3,52.2 253.3,52 254.3,51.8 255.3,51.5 256.3,51.3 257.3,51.1 258.3,50.9 259.3,50.7 260.3,50.4 261.3,50.2 262.3,50 263.3,49.7 264.3,49.5 265.3,49.2 266.3,49 267.3,48.7 268.3,48.5 269.3,48.2 270.3,48 271.3,47.7 272.3,47.4 273.3,47.2 274.3,46.9 275.3,46.6 276.3,46.3 277.3,46.1 278.3,45.9 278.5,45.8" fill="none" stroke="#f52525" stroke-width="0.75"/>
</g>
<rect x="169.2" y="15.5" width="109.3" height="81" fill="none" stroke="#828282" stroke-width="1.0"/>
<line x1="167.9" y1="25.2" x2="169.2" y2="25.2" stroke="#828282" stroke-width="0.7"/>
<text transform="translate(166.40,26.30) scale(0.9,1)" font-size="3.33" text-anchor="end" font-weight="normal" style="font-family:'Liberation Serif',serif" fill="#222" stroke="#222" stroke-width="0.2" >40</text>
<line x1="167.9" y1="49" x2="169.2" y2="49" stroke="#828282" stroke-width="0.7"/>
<text transform="translate(166.40,50.10) scale(0.9,1)" font-size="3.33" text-anchor="end" font-weight="normal" style="font-family:'Liberation Serif',serif" fill="#222" stroke="#222" stroke-width="0.2" >20</text>
<line x1="167.9" y1="72.5" x2="169.2" y2="72.5" stroke="#828282" stroke-width="0.7"/>
<text transform="translate(166.40,73.60) scale(0.9,1)" font-size="3.33" text-anchor="end" font-weight="normal" style="font-family:'Liberation Serif',serif" fill="#222" stroke="#222" stroke-width="0.2" >0</text>
<line x1="167.9" y1="96.5" x2="169.2" y2="96.5" stroke="#828282" stroke-width="0.7"/>
<text transform="translate(166.40,97.60) scale(0.9,1)" font-size="3.33" text-anchor="end" font-weight="normal" style="font-family:'Liberation Serif',serif" fill="#222" stroke="#222" stroke-width="0.2" >-20</text>
<line x1="169.2" y1="96.5" x2="169.2" y2="98" stroke="#828282" stroke-width="0.6"/>
<text transform="translate(169.20,102.70) scale(0.9,1)" font-size="3.50" text-anchor="middle" font-weight="normal" style="font-family:'Liberation Serif',serif" fill="#222" stroke="#222" stroke-width="0.22" >0</text>
<line x1="180.1" y1="96.5" x2="180.1" y2="97.4" stroke="#828282" stroke-width="0.5"/>
<line x1="191.1" y1="96.5" x2="191.1" y2="98" stroke="#828282" stroke-width="0.6"/>
<text transform="translate(191.06,102.70) scale(0.9,1)" font-size="3.50" text-anchor="middle" font-weight="normal" style="font-family:'Liberation Serif',serif" fill="#222" stroke="#222" stroke-width="0.22" >20</text>
<line x1="202" y1="96.5" x2="202" y2="97.4" stroke="#828282" stroke-width="0.5"/>
<line x1="212.9" y1="96.5" x2="212.9" y2="98" stroke="#828282" stroke-width="0.6"/>
<text transform="translate(212.92,102.70) scale(0.9,1)" font-size="3.50" text-anchor="middle" font-weight="normal" style="font-family:'Liberation Serif',serif" fill="#222" stroke="#222" stroke-width="0.22" >40</text>
<line x1="223.8" y1="96.5" x2="223.8" y2="97.4" stroke="#828282" stroke-width="0.5"/>
<line x1="234.8" y1="96.5" x2="234.8" y2="98" stroke="#828282" stroke-width="0.6"/>
<text transform="translate(234.78,102.70) scale(0.9,1)" font-size="3.50" text-anchor="middle" font-weight="normal" style="font-family:'Liberation Serif',serif" fill="#222" stroke="#222" stroke-width="0.22" >60</text>
<line x1="245.7" y1="96.5" x2="245.7" y2="97.4" stroke="#828282" stroke-width="0.5"/>
<line x1="256.6" y1="96.5" x2="256.6" y2="98" stroke="#828282" stroke-width="0.6"/>
<text transform="translate(256.64,102.70) scale(0.9,1)" font-size="3.50" text-anchor="middle" font-weight="normal" style="font-family:'Liberation Serif',serif" fill="#222" stroke="#222" stroke-width="0.22" >80</text>
<line x1="267.6" y1="96.5" x2="267.6" y2="97.4" stroke="#828282" stroke-width="0.5"/>
<line x1="278.5" y1="96.5" x2="278.5" y2="98" stroke="#828282" stroke-width="0.6"/>
<text transform="translate(278.50,102.70) scale(0.9,1)" font-size="3.50" text-anchor="middle" font-weight="normal" style="font-family:'Liberation Serif',serif" fill="#222" stroke="#222" stroke-width="0.22" >100</text>
<text transform="translate(221.35,109.80) scale(0.86,1)" font-size="5.29" text-anchor="middle" font-weight="normal" style="font-family:'Liberation Serif',serif" fill="#111" stroke="#111" stroke-width="0.1" >Percentage of Backward Phase(%)</text>
<text transform="translate(222.85,11.30) scale(0.86,1)" font-size="5.70" text-anchor="middle" font-weight="bold" style="font-family:'Liberation Serif',serif" fill="#000" stroke="#000" stroke-width="0.1" >Ankle Angle</text>
<text x="0" y="0" font-size="6.88" font-weight="bold" text-anchor="middle" style="font-family:'Liberation Serif',serif" fill="#000" stroke="#000" stroke-width="0.25" transform="translate(158.2,56.6) rotate(-90) scale(1,0.88)">In the frontal plane(°)</text>
<text transform="translate(173.50,30.20) scale(0.86,1)" font-size="11.80" text-anchor="start" font-weight="bold" style="font-family:'Liberation Serif',serif" fill="#000" >B</text>
<line x1="260" y1="22.4" x2="266.9" y2="22.4" stroke="#7a7a7a" stroke-width="0.9"/>
<text transform="translate(268.90,23.80) scale(0.9,1)" font-size="3.90" text-anchor="start" font-weight="bold" style="font-family:'Liberation Serif',serif" fill="#000" stroke="#000" stroke-width="0.15" >MA</text>
<line x1="260" y1="27.2" x2="266.9" y2="27.2" stroke="#ff5c5c" stroke-width="0.9"/>
<text transform="translate(268.90,28.60) scale(0.9,1)" font-size="3.90" text-anchor="start" font-weight="bold" style="font-family:'Liberation Serif',serif" fill="#000" stroke="#000" stroke-width="0.15" >FA</text>
<text transform="translate(206.40,33.80) scale(0.9,1)" font-size="4.33" text-anchor="start" font-weight="normal" style="font-family:'Liberation Serif',serif" fill="#333" stroke="#333" stroke-width="0.05" >P=0.026</text>
<rect x="314.4" y="15.5" width="13.3" height="80.6" fill="#ececec"/>
<line x1="327.7" y1="15.5" x2="327.7" y2="96.1" stroke="#b4b4b4" stroke-width="0.6" stroke-dasharray="0.7,1.4"/>
<rect x="343.2" y="15.5" width="22.8" height="80.6" fill="#ececec"/>
<line x1="343.2" y1="15.5" x2="343.2" y2="96.1" stroke="#b4b4b4" stroke-width="0.6" stroke-dasharray="0.7,1.4"/>
<line x1="366" y1="15.5" x2="366" y2="96.1" stroke="#b4b4b4" stroke-width="0.6" stroke-dasharray="0.7,1.4"/>
<rect x="377.1" y="15.5" width="46.2" height="80.6" fill="#ececec"/>
<line x1="377.1" y1="15.5" x2="377.1" y2="96.1" stroke="#b4b4b4" stroke-width="0.6" stroke-dasharray="0.7,1.4"/>
<g clip-path="url(#cC)">
<path d="M314.4,68.3 L315.4,68.2 L316.4,68.1 L317.4,67.9 L318.4,67.7 L319.4,67.5 L320.4,67.2 L321.4,67 L322.4,66.7 L323.4,66.4 L324.4,66.2 L325.4,65.9 L326.4,65.5 L327.4,65.2 L328.4,64.8 L329.4,64.4 L330.4,63.9 L331.4,63.5 L332.4,63 L333.4,62.4 L334.4,61.9 L335.4,61.2 L336.4,60.6 L337.4,59.8 L338.4,58.9 L339.4,58 L340.4,56.9 L341.4,55.8 L342.4,54.6 L343.4,53.5 L344.4,52.4 L345.4,51.4 L346.4,50.5 L347.4,49.6 L348.4,48.7 L349.4,47.9 L350.4,47.2 L351.4,46.6 L352.4,46 L353.4,45.5 L354.4,45 L355.4,44.6 L356.4,44.3 L357.4,44.1 L358.4,44.1 L359.4,44.2 L360.4,44.4 L361.4,44.8 L362.4,45.3 L363.4,45.9 L364.4,46.5 L365.4,47.2 L366.4,48.1 L367.4,49 L368.4,50 L369.4,51 L370.4,52 L371.4,53.1 L372.4,54.1 L373.4,55.1 L374.4,56 L375.4,56.7 L376.4,57.3 L377.4,57.6 L378.4,57.7 L379.4,57.8 L380.4,57.8 L381.4,57.8 L382.4,57.8 L383.4,57.8 L384.4,57.7 L385.4,57.6 L386.4,57.5 L387.4,57.3 L388.4,57.1 L389.4,56.8 L390.4,56.6 L391.4,56.3 L392.4,56 L393.4,55.8 L394.4,55.6 L395.4,55.4 L396.4,55.2 L397.4,55 L398.4,54.8 L399.4,54.6 L400.4,54.5 L401.4,54.3 L402.4,54.2 L403.4,54.1 L404.4,54 L405.4,53.9 L406.4,53.8 L407.4,53.7 L408.4,53.5 L409.4,53.4 L410.4,53.2 L411.4,53 L412.4,52.7 L413.4,52.5 L414.4,52.3 L415.4,52.1 L416.4,51.9 L417.4,51.6 L418.4,51.4 L419.4,51.2 L420.4,50.9 L421.4,50.7 L422.4,50.5 L423.3,50.3 L423.3,55.9 L422.4,56.1 L421.4,56.3 L420.4,56.5 L419.4,56.8 L418.4,57 L417.4,57.2 L416.4,57.5 L415.4,57.7 L414.4,57.9 L413.4,58.1 L412.4,58.3 L411.4,58.6 L410.4,58.8 L409.4,59 L408.4,59.1 L407.4,59.3 L406.4,59.4 L405.4,59.5 L404.4,59.6 L403.4,59.7 L402.4,59.8 L401.4,59.9 L400.4,60.1 L399.4,60.2 L398.4,60.4 L397.4,60.6 L396.4,60.8 L395.4,61 L394.4,61.2 L393.4,61.4 L392.4,61.6 L391.4,61.9 L390.4,62.2 L389.4,62.4 L388.4,62.7 L387.4,62.9 L386.4,63.1 L385.4,63.2 L384.4,63.3 L383.4,63.4 L382.4,63.4 L381.4,63.4 L380.4,63.4 L379.4,63.4 L378.4,63.4 L377.4,63.3 L376.4,63.1 L375.4,62.7 L374.4,62.1 L373.4,61.4 L372.4,60.6 L371.4,59.7 L370.4,58.7 L369.4,57.7 L368.4,56.7 L367.4,55.7 L366.4,54.8 L365.4,54 L364.4,53.2 L363.4,52.6 L362.4,52 L361.4,51.5 L360.4,51.1 L359.4,50.9 L358.4,50.8 L357.4,50.8 L356.4,51 L355.4,51.3 L354.4,51.7 L353.4,52.2 L352.4,52.7 L351.4,53.3 L350.4,53.9 L349.4,54.6 L348.4,55.3 L347.4,56.1 L346.4,56.9 L345.4,57.8 L344.4,58.7 L343.4,59.7 L342.4,60.7 L341.4,61.7 L340.4,62.8 L339.4,63.7 L338.4,64.6 L337.4,65.4 L336.4,66 L335.4,66.6 L334.4,67.1 L333.4,67.6 L332.4,68.1 L331.4,68.5 L330.4,68.8 L329.4,69.2 L328.4,69.5 L327.4,69.8 L326.4,70.1 L325.4,70.4 L324.4,70.7 L323.4,70.9 L322.4,71.2 L321.4,71.5 L320.4,71.7 L319.4,71.9 L318.4,72.2 L317.4,72.4 L316.4,72.6 L315.4,72.7 L314.4,72.8Z" fill="#808080" fill-opacity="0.6"/><polyline points="314.4,68.3 315.4,68.2 316.4,68.1 317.4,67.9 318.4,67.7 319.4,67.5 320.4,67.2 321.4,67 322.4,66.7 323.4,66.4 324.4,66.2 325.4,65.9 326.4,65.5 327.4,65.2 328.4,64.8 329.4,64.4 330.4,63.9 331.4,63.5 332.4,63 333.4,62.4 334.4,61.9 335.4,61.2 336.4,60.6 337.4,59.8 338.4,58.9 339.4,58 340.4,56.9 341.4,55.8 342.4,54.6 343.4,53.5 344.4,52.4 345.4,51.4 346.4,50.5 347.4,49.6 348.4,48.7 349.4,47.9 350.4,47.2 351.4,46.6 352.4,46 353.4,45.5 354.4,45 355.4,44.6 356.4,44.3 357.4,44.1 358.4,44.1 359.4,44.2 360.4,44.4 361.4,44.8 362.4,45.3 363.4,45.9 364.4,46.5 365.4,47.2 366.4,48.1 367.4,49 368.4,50 369.4,51 370.4,52 371.4,53.1 372.4,54.1 373.4,55.1 374.4,56 375.4,56.7 376.4,57.3 377.4,57.6 378.4,57.7 379.4,57.8 380.4,57.8 381.4,57.8 382.4,57.8 383.4,57.8 384.4,57.7 385.4,57.6 386.4,57.5 387.4,57.3 388.4,57.1 389.4,56.8 390.4,56.6 391.4,56.3 392.4,56 393.4,55.8 394.4,55.6 395.4,55.4 396.4,55.2 397.4,55 398.4,54.8 399.4,54.6 400.4,54.5 401.4,54.3 402.4,54.2 403.4,54.1 404.4,54 405.4,53.9 406.4,53.8 407.4,53.7 408.4,53.5 409.4,53.4 410.4,53.2 411.4,53 412.4,52.7 413.4,52.5 414.4,52.3 415.4,52.1 416.4,51.9 417.4,51.6 418.4,51.4 419.4,51.2 420.4,50.9 421.4,50.7 422.4,50.5 423.3,50.3" fill="none" stroke="#8a8a8a" stroke-width="0.3"/><polyline points="314.4,72.8 315.4,72.7 316.4,72.6 317.4,72.4 318.4,72.2 319.4,71.9 320.4,71.7 321.4,71.5 322.4,71.2 323.4,70.9 324.4,70.7 325.4,70.4 326.4,70.1 327.4,69.8 328.4,69.5 329.4,69.2 330.4,68.8 331.4,68.5 332.4,68.1 333.4,67.6 334.4,67.1 335.4,66.6 336.4,66 337.4,65.4 338.4,64.6 339.4,63.7 340.4,62.8 341.4,61.7 342.4,60.7 343.4,59.7 344.4,58.7 345.4,57.8 346.4,56.9 347.4,56.1 348.4,55.3 349.4,54.6 350.4,53.9 351.4,53.3 352.4,52.7 353.4,52.2 354.4,51.7 355.4,51.3 356.4,51 357.4,50.8 358.4,50.8 359.4,50.9 360.4,51.1 361.4,51.5 362.4,52 363.4,52.6 364.4,53.2 365.4,54 366.4,54.8 367.4,55.7 368.4,56.7 369.4,57.7 370.4,58.7 371.4,59.7 372.4,60.6 373.4,61.4 374.4,62.1 375.4,62.7 376.4,63.1 377.4,63.3 378.4,63.4 379.4,63.4 380.4,63.4 381.4,63.4 382.4,63.4 383.4,63.4 384.4,63.3 385.4,63.2 386.4,63.1 387.4,62.9 388.4,62.7 389.4,62.4 390.4,62.2 391.4,61.9 392.4,61.6 393.4,61.4 394.4,61.2 395.4,61 396.4,60.8 397.4,60.6 398.4,60.4 399.4,60.2 400.4,60.1 401.4,59.9 402.4,59.8 403.4,59.7 404.4,59.6 405.4,59.5 406.4,59.4 407.4,59.3 408.4,59.1 409.4,59 410.4,58.8 411.4,58.6 412.4,58.3 413.4,58.1 414.4,57.9 415.4,57.7 416.4,57.5 417.4,57.2 418.4,57 419.4,56.8 420.4,56.5 421.4,56.3 422.4,56.1 423.3,55.9" fill="none" stroke="#8a8a8a" stroke-width="0.3"/><polyline points="314.4,70.6 315.4,70.5 316.4,70.3 317.4,70.1 318.4,69.9 319.4,69.7 320.4,69.5 321.4,69.2 322.4,69 323.4,68.7 324.4,68.4 325.4,68.1 326.4,67.8 327.4,67.5 328.4,67.2 329.4,66.8 330.4,66.4 331.4,66 332.4,65.5 333.4,65 334.4,64.5 335.4,63.9 336.4,63.3 337.4,62.6 338.4,61.8 339.4,60.8 340.4,59.8 341.4,58.8 342.4,57.7 343.4,56.6 344.4,55.6 345.4,54.6 346.4,53.7 347.4,52.8 348.4,52 349.4,51.2 350.4,50.5 351.4,49.9 352.4,49.4 353.4,48.9 354.4,48.4 355.4,48 356.4,47.7 357.4,47.5 358.4,47.4 359.4,47.5 360.4,47.8 361.4,48.2 362.4,48.7 363.4,49.2 364.4,49.9 365.4,50.6 366.4,51.4 367.4,52.3 368.4,53.3 369.4,54.4 370.4,55.4 371.4,56.4 372.4,57.3 373.4,58.2 374.4,59.1 375.4,59.7 376.4,60.2 377.4,60.4 378.4,60.5 379.4,60.6 380.4,60.6 381.4,60.6 382.4,60.6 383.4,60.6 384.4,60.5 385.4,60.4 386.4,60.3 387.4,60.1 388.4,59.9 389.4,59.6 390.4,59.4 391.4,59.1 392.4,58.8 393.4,58.6 394.4,58.4 395.4,58.2 396.4,58 397.4,57.8 398.4,57.6 399.4,57.4 400.4,57.3 401.4,57.1 402.4,57 403.4,56.9 404.4,56.8 405.4,56.7 406.4,56.6 407.4,56.5 408.4,56.3 409.4,56.2 410.4,56 411.4,55.8 412.4,55.5 413.4,55.3 414.4,55.1 415.4,54.9 416.4,54.7 417.4,54.4 418.4,54.2 419.4,54 420.4,53.7 421.4,53.5 422.4,53.3 423.3,53.1" fill="none" stroke="#555555" stroke-width="0.55"/>
<path d="M314.4,60.1 L315.4,60.2 L316.4,60.3 L317.4,60.4 L318.4,60.5 L319.4,60.6 L320.4,60.7 L321.4,60.8 L322.4,60.8 L323.4,60.9 L324.4,60.9 L325.4,60.9 L326.4,60.9 L327.4,60.9 L328.4,60.8 L329.4,60.8 L330.4,60.7 L331.4,60.6 L332.4,60.5 L333.4,60.4 L334.4,60.3 L335.4,60.2 L336.4,60.1 L337.4,60 L338.4,59.9 L339.4,59.8 L340.4,59.7 L341.4,59.6 L342.4,59.5 L343.4,59.4 L344.4,59.3 L345.4,59.1 L346.4,59 L347.4,58.8 L348.4,58.6 L349.4,58.4 L350.4,58.1 L351.4,57.9 L352.4,57.7 L353.4,57.5 L354.4,57.3 L355.4,57 L356.4,56.8 L357.4,56.5 L358.4,56.3 L359.4,56 L360.4,55.6 L361.4,55.3 L362.4,54.9 L363.4,54.5 L364.4,54.1 L365.4,53.6 L366.4,53.2 L367.4,52.7 L368.4,52.3 L369.4,51.8 L370.4,51.2 L371.4,50.7 L372.4,50.2 L373.4,49.6 L374.4,49.1 L375.4,48.5 L376.4,48 L377.4,47.4 L378.4,46.9 L379.4,46.4 L380.4,45.9 L381.4,45.4 L382.4,45 L383.4,44.5 L384.4,44.1 L385.4,43.6 L386.4,43.1 L387.4,42.7 L388.4,42.2 L389.4,41.8 L390.4,41.3 L391.4,40.9 L392.4,40.5 L393.4,40 L394.4,39.6 L395.4,39.1 L396.4,38.7 L397.4,38.2 L398.4,37.7 L399.4,37.2 L400.4,36.7 L401.4,36.3 L402.4,35.8 L403.4,35.4 L404.4,34.9 L405.4,34.5 L406.4,34.1 L407.4,33.8 L408.4,33.4 L409.4,33 L410.4,32.7 L411.4,32.4 L412.4,32 L413.4,31.7 L414.4,31.3 L415.4,31 L416.4,30.6 L417.4,30.3 L418.4,30 L419.4,29.7 L420.4,29.3 L421.4,29.1 L422.4,28.8 L423.3,28.7 L423.3,41.6 L422.4,41.6 L421.4,41.7 L420.4,41.8 L419.4,41.9 L418.4,42.1 L417.4,42.2 L416.4,42.4 L415.4,42.6 L414.4,42.8 L413.4,43 L412.4,43.3 L411.4,43.5 L410.4,43.8 L409.4,44.1 L408.4,44.4 L407.4,44.8 L406.4,45.1 L405.4,45.5 L404.4,45.9 L403.4,46.4 L402.4,46.8 L401.4,47.3 L400.4,47.7 L399.4,48.2 L398.4,48.7 L397.4,49.2 L396.4,49.7 L395.4,50.1 L394.4,50.6 L393.4,51 L392.4,51.4 L391.4,51.8 L390.4,52.2 L389.4,52.6 L388.4,53 L387.4,53.4 L386.4,53.8 L385.4,54.1 L384.4,54.5 L383.4,54.9 L382.4,55.2 L381.4,55.6 L380.4,56 L379.4,56.4 L378.4,56.7 L377.4,57.1 L376.4,57.5 L375.4,57.9 L374.4,58.3 L373.4,58.6 L372.4,59 L371.4,59.4 L370.4,59.7 L369.4,60 L368.4,60.3 L367.4,60.6 L366.4,60.9 L365.4,61.1 L364.4,61.3 L363.4,61.5 L362.4,61.7 L361.4,61.8 L360.4,62 L359.4,62.1 L358.4,62.3 L357.4,62.5 L356.4,62.7 L355.4,62.9 L354.4,63 L353.4,63.2 L352.4,63.3 L351.4,63.5 L350.4,63.6 L349.4,63.7 L348.4,63.9 L347.4,64 L346.4,64.1 L345.4,64.2 L344.4,64.4 L343.4,64.5 L342.4,64.7 L341.4,64.9 L340.4,65.1 L339.4,65.3 L338.4,65.5 L337.4,65.6 L336.4,65.7 L335.4,65.8 L334.4,65.9 L333.4,66 L332.4,66.1 L331.4,66.2 L330.4,66.4 L329.4,66.5 L328.4,66.6 L327.4,66.8 L326.4,67 L325.4,67.1 L324.4,67.2 L323.4,67.3 L322.4,67.3 L321.4,67.3 L320.4,67.4 L319.4,67.3 L318.4,67.3 L317.4,67.3 L316.4,67.2 L315.4,67.1 L314.4,67.1Z" fill="#ff2a2a" fill-opacity="0.52"/><polyline points="314.4,60.1 315.4,60.2 316.4,60.3 317.4,60.4 318.4,60.5 319.4,60.6 320.4,60.7 321.4,60.8 322.4,60.8 323.4,60.9 324.4,60.9 325.4,60.9 326.4,60.9 327.4,60.9 328.4,60.8 329.4,60.8 330.4,60.7 331.4,60.6 332.4,60.5 333.4,60.4 334.4,60.3 335.4,60.2 336.4,60.1 337.4,60 338.4,59.9 339.4,59.8 340.4,59.7 341.4,59.6 342.4,59.5 343.4,59.4 344.4,59.3 345.4,59.1 346.4,59 347.4,58.8 348.4,58.6 349.4,58.4 350.4,58.1 351.4,57.9 352.4,57.7 353.4,57.5 354.4,57.3 355.4,57 356.4,56.8 357.4,56.5 358.4,56.3 359.4,56 360.4,55.6 361.4,55.3 362.4,54.9 363.4,54.5 364.4,54.1 365.4,53.6 366.4,53.2 367.4,52.7 368.4,52.3 369.4,51.8 370.4,51.2 371.4,50.7 372.4,50.2 373.4,49.6 374.4,49.1 375.4,48.5 376.4,48 377.4,47.4 378.4,46.9 379.4,46.4 380.4,45.9 381.4,45.4 382.4,45 383.4,44.5 384.4,44.1 385.4,43.6 386.4,43.1 387.4,42.7 388.4,42.2 389.4,41.8 390.4,41.3 391.4,40.9 392.4,40.5 393.4,40 394.4,39.6 395.4,39.1 396.4,38.7 397.4,38.2 398.4,37.7 399.4,37.2 400.4,36.7 401.4,36.3 402.4,35.8 403.4,35.4 404.4,34.9 405.4,34.5 406.4,34.1 407.4,33.8 408.4,33.4 409.4,33 410.4,32.7 411.4,32.4 412.4,32 413.4,31.7 414.4,31.3 415.4,31 416.4,30.6 417.4,30.3 418.4,30 419.4,29.7 420.4,29.3 421.4,29.1 422.4,28.8 423.3,28.7" fill="none" stroke="#ff9090" stroke-width="0.25"/><polyline points="314.4,67.1 315.4,67.1 316.4,67.2 317.4,67.3 318.4,67.3 319.4,67.3 320.4,67.4 321.4,67.3 322.4,67.3 323.4,67.3 324.4,67.2 325.4,67.1 326.4,67 327.4,66.8 328.4,66.6 329.4,66.5 330.4,66.4 331.4,66.2 332.4,66.1 333.4,66 334.4,65.9 335.4,65.8 336.4,65.7 337.4,65.6 338.4,65.5 339.4,65.3 340.4,65.1 341.4,64.9 342.4,64.7 343.4,64.5 344.4,64.4 345.4,64.2 346.4,64.1 347.4,64 348.4,63.9 349.4,63.7 350.4,63.6 351.4,63.5 352.4,63.3 353.4,63.2 354.4,63 355.4,62.9 356.4,62.7 357.4,62.5 358.4,62.3 359.4,62.1 360.4,62 361.4,61.8 362.4,61.7 363.4,61.5 364.4,61.3 365.4,61.1 366.4,60.9 367.4,60.6 368.4,60.3 369.4,60 370.4,59.7 371.4,59.4 372.4,59 373.4,58.6 374.4,58.3 375.4,57.9 376.4,57.5 377.4,57.1 378.4,56.7 379.4,56.4 380.4,56 381.4,55.6 382.4,55.2 383.4,54.9 384.4,54.5 385.4,54.1 386.4,53.8 387.4,53.4 388.4,53 389.4,52.6 390.4,52.2 391.4,51.8 392.4,51.4 393.4,51 394.4,50.6 395.4,50.1 396.4,49.7 397.4,49.2 398.4,48.7 399.4,48.2 400.4,47.7 401.4,47.3 402.4,46.8 403.4,46.4 404.4,45.9 405.4,45.5 406.4,45.1 407.4,44.8 408.4,44.4 409.4,44.1 410.4,43.8 411.4,43.5 412.4,43.3 413.4,43 414.4,42.8 415.4,42.6 416.4,42.4 417.4,42.2 418.4,42.1 419.4,41.9 420.4,41.8 421.4,41.7 422.4,41.6 423.3,41.6" fill="none" stroke="#ff9090" stroke-width="0.25"/><polyline points="314.4,63.6 315.4,63.7 316.4,63.7 317.4,63.8 318.4,63.9 319.4,64 320.4,64 321.4,64.1 322.4,64.1 323.4,64.1 324.4,64.1 325.4,64 326.4,63.9 327.4,63.8 328.4,63.7 329.4,63.6 330.4,63.5 331.4,63.4 332.4,63.3 333.4,63.2 334.4,63.1 335.4,63 336.4,62.9 337.4,62.8 338.4,62.7 339.4,62.6 340.4,62.4 341.4,62.3 342.4,62.1 343.4,62 344.4,61.8 345.4,61.7 346.4,61.5 347.4,61.4 348.4,61.2 349.4,61.1 350.4,60.9 351.4,60.7 352.4,60.5 353.4,60.3 354.4,60.1 355.4,59.9 356.4,59.7 357.4,59.5 358.4,59.3 359.4,59 360.4,58.8 361.4,58.5 362.4,58.3 363.4,58 364.4,57.7 365.4,57.4 366.4,57 367.4,56.7 368.4,56.3 369.4,55.9 370.4,55.5 371.4,55 372.4,54.6 373.4,54.1 374.4,53.7 375.4,53.2 376.4,52.7 377.4,52.3 378.4,51.8 379.4,51.4 380.4,51 381.4,50.5 382.4,50.1 383.4,49.7 384.4,49.3 385.4,48.9 386.4,48.5 387.4,48 388.4,47.6 389.4,47.2 390.4,46.8 391.4,46.4 392.4,46 393.4,45.5 394.4,45.1 395.4,44.6 396.4,44.2 397.4,43.7 398.4,43.2 399.4,42.7 400.4,42.2 401.4,41.8 402.4,41.3 403.4,40.9 404.4,40.4 405.4,40 406.4,39.6 407.4,39.3 408.4,38.9 409.4,38.6 410.4,38.3 411.4,37.9 412.4,37.6 413.4,37.3 414.4,37.1 415.4,36.8 416.4,36.5 417.4,36.3 418.4,36 419.4,35.8 420.4,35.6 421.4,35.4 422.4,35.2 423.3,35.1" fill="none" stroke="#f52525" stroke-width="0.75"/>
</g>
<rect x="314.4" y="15.5" width="108.9" height="80.6" fill="none" stroke="#828282" stroke-width="1.0"/>
<line x1="313.1" y1="32.6" x2="314.4" y2="32.6" stroke="#828282" stroke-width="0.7"/>
<text transform="translate(311.60,33.70) scale(0.9,1)" font-size="3.33" text-anchor="end" font-weight="normal" style="font-family:'Liberation Serif',serif" fill="#222" stroke="#222" stroke-width="0.2" >20</text>
<line x1="313.1" y1="61.5" x2="314.4" y2="61.5" stroke="#828282" stroke-width="0.7"/>
<text transform="translate(311.60,62.60) scale(0.9,1)" font-size="3.33" text-anchor="end" font-weight="normal" style="font-family:'Liberation Serif',serif" fill="#222" stroke="#222" stroke-width="0.2" >0</text>
<line x1="313.1" y1="90.3" x2="314.4" y2="90.3" stroke="#828282" stroke-width="0.7"/>
<text transform="translate(311.60,91.40) scale(0.9,1)" font-size="3.33" text-anchor="end" font-weight="normal" style="font-family:'Liberation Serif',serif" fill="#222" stroke="#222" stroke-width="0.2" >-20</text>
<line x1="314.4" y1="96.1" x2="314.4" y2="97.6" stroke="#828282" stroke-width="0.6"/>
<text transform="translate(314.40,102.30) scale(0.9,1)" font-size="3.50" text-anchor="middle" font-weight="normal" style="font-family:'Liberation Serif',serif" fill="#222" stroke="#222" stroke-width="0.22" >0</text>
<line x1="325.3" y1="96.1" x2="325.3" y2="97" stroke="#828282" stroke-width="0.5"/>
<line x1="336.2" y1="96.1" x2="336.2" y2="97.6" stroke="#828282" stroke-width="0.6"/>
<text transform="translate(336.18,102.30) scale(0.9,1)" font-size="3.50" text-anchor="middle" font-weight="normal" style="font-family:'Liberation Serif',serif" fill="#222" stroke="#222" stroke-width="0.22" >20</text>
<line x1="347.1" y1="96.1" x2="347.1" y2="97" stroke="#828282" stroke-width="0.5"/>
<line x1="358" y1="96.1" x2="358" y2="97.6" stroke="#828282" stroke-width="0.6"/>
<text transform="translate(357.96,102.30) scale(0.9,1)" font-size="3.50" text-anchor="middle" font-weight="normal" style="font-family:'Liberation Serif',serif" fill="#222" stroke="#222" stroke-width="0.22" >40</text>
<line x1="368.8" y1="96.1" x2="368.8" y2="97" stroke="#828282" stroke-width="0.5"/>
<line x1="379.7" y1="96.1" x2="379.7" y2="97.6" stroke="#828282" stroke-width="0.6"/>
<text transform="translate(379.74,102.30) scale(0.9,1)" font-size="3.50" text-anchor="middle" font-weight="normal" style="font-family:'Liberation Serif',serif" fill="#222" stroke="#222" stroke-width="0.22" >60</text>
<line x1="390.6" y1="96.1" x2="390.6" y2="97" stroke="#828282" stroke-width="0.5"/>
<line x1="401.5" y1="96.1" x2="401.5" y2="97.6" stroke="#828282" stroke-width="0.6"/>
<text transform="translate(401.52,102.30) scale(0.9,1)" font-size="3.50" text-anchor="middle" font-weight="normal" style="font-family:'Liberation Serif',serif" fill="#222" stroke="#222" stroke-width="0.22" >80</text>
<line x1="412.4" y1="96.1" x2="412.4" y2="97" stroke="#828282" stroke-width="0.5"/>
<line x1="423.3" y1="96.1" x2="423.3" y2="97.6" stroke="#828282" stroke-width="0.6"/>
<text transform="translate(423.30,102.30) scale(0.9,1)" font-size="3.50" text-anchor="middle" font-weight="normal" style="font-family:'Liberation Serif',serif" fill="#222" stroke="#222" stroke-width="0.22" >100</text>
<text transform="translate(366.35,109.40) scale(0.86,1)" font-size="5.29" text-anchor="middle" font-weight="normal" style="font-family:'Liberation Serif',serif" fill="#111" stroke="#111" stroke-width="0.1" >Percentage of Backward Phase(%)</text>
<text transform="translate(367.85,11.30) scale(0.86,1)" font-size="5.70" text-anchor="middle" font-weight="bold" style="font-family:'Liberation Serif',serif" fill="#000" stroke="#000" stroke-width="0.1" >Ankle Angle</text>
<text x="0" y="0" font-size="6.88" font-weight="bold" text-anchor="middle" style="font-family:'Liberation Serif',serif" fill="#000" stroke="#000" stroke-width="0.25" transform="translate(304.1,56.4) rotate(-90) scale(1,0.88)">In the transverse plane(°)</text>
<text transform="translate(318.50,30.20) scale(0.86,1)" font-size="11.80" text-anchor="start" font-weight="bold" style="font-family:'Liberation Serif',serif" fill="#000" >C</text>
<line x1="405.4" y1="21.6" x2="412.3" y2="21.6" stroke="#7a7a7a" stroke-width="0.9"/>
<text transform="translate(414.30,23.00) scale(0.9,1)" font-size="3.90" text-anchor="start" font-weight="bold" style="font-family:'Liberation Serif',serif" fill="#000" stroke="#000" stroke-width="0.15" >MA</text>
<line x1="405.4" y1="26.4" x2="412.3" y2="26.4" stroke="#ff5c5c" stroke-width="0.9"/>
<text transform="translate(414.30,27.80) scale(0.9,1)" font-size="3.90" text-anchor="start" font-weight="bold" style="font-family:'Liberation Serif',serif" fill="#000" stroke="#000" stroke-width="0.15" >FA</text>
<text transform="translate(329.40,48.80) scale(0.9,1)" font-size="4.33" text-anchor="start" font-weight="normal" style="font-family:'Liberation Serif',serif" fill="#333" stroke="#333" stroke-width="0.05" >P=0.014</text>
<text transform="translate(349.40,32.20) scale(0.9,1)" font-size="4.33" text-anchor="start" font-weight="normal" style="font-family:'Liberation Serif',serif" fill="#333" stroke="#333" stroke-width="0.05" >P=0.003</text>
<text transform="translate(395.40,74.80) scale(0.9,1)" font-size="4.33" text-anchor="start" font-weight="normal" style="font-family:'Liberation Serif',serif" fill="#333" stroke="#333" stroke-width="0.05" >P&lt;0.001</text>
<rect x="24.2" y="195" width="90.5" height="80.5" fill="#ececec"/>
<line x1="114.7" y1="195" x2="114.7" y2="275.5" stroke="#b4b4b4" stroke-width="0.6" stroke-dasharray="0.7,1.4"/>
<g clip-path="url(#cD)">
<path d="M24.2,239.7 L25.2,239.7 L26.2,239.7 L27.2,239.7 L28.2,239.7 L29.2,239.6 L30.2,239.6 L31.2,239.6 L32.2,239.5 L33.2,239.5 L34.2,239.4 L35.2,239.4 L36.2,239.4 L37.2,239.3 L38.2,239.3 L39.2,239.2 L40.2,239.2 L41.2,239.1 L42.2,239.1 L43.2,239 L44.2,239 L45.2,238.9 L46.2,238.9 L47.2,238.8 L48.2,238.8 L49.2,238.7 L50.2,238.7 L51.2,238.6 L52.2,238.5 L53.2,238.5 L54.2,238.4 L55.2,238.3 L56.2,238.3 L57.2,238.2 L58.2,238.1 L59.2,238 L60.2,237.9 L61.2,237.8 L62.2,237.7 L63.2,237.6 L64.2,237.4 L65.2,237.3 L66.2,237.1 L67.2,236.8 L68.2,236.6 L69.2,236.3 L70.2,236 L71.2,235.7 L72.2,235.4 L73.2,235.1 L74.2,234.8 L75.2,234.4 L76.2,234.1 L77.2,233.8 L78.2,233.5 L79.2,233.2 L80.2,232.9 L81.2,232.6 L82.2,232.3 L83.2,232 L84.2,231.7 L85.2,231.4 L86.2,231.1 L87.2,230.8 L88.2,230.5 L89.2,230.1 L90.2,229.8 L91.2,229.5 L92.2,229.3 L93.2,229 L94.2,228.7 L95.2,228.4 L96.2,228.1 L97.2,227.8 L98.2,227.5 L99.2,227.2 L100.2,226.9 L101.2,226.5 L102.2,226.2 L103.2,225.9 L104.2,225.6 L105.2,225.2 L106.2,224.9 L107.2,224.6 L108.2,224.3 L109.2,224 L110.2,223.7 L111.2,223.4 L112.2,223.1 L113.2,222.9 L114.2,222.6 L115.2,222.3 L116.2,222.1 L117.2,221.8 L118.2,221.6 L119.2,221.3 L120.2,221.1 L121.2,220.8 L122.2,220.5 L123.2,220.3 L124.2,220 L125.2,219.8 L126.2,219.6 L127.2,219.5 L128.2,219.3 L129.2,219.2 L130.2,219.1 L131.2,219 L132.2,218.9 L133.2,218.9 L133.3,218.9 L133.3,221.6 L133.2,221.6 L132.2,221.6 L131.2,221.7 L130.2,221.8 L129.2,221.9 L128.2,222 L127.2,222.2 L126.2,222.3 L125.2,222.5 L124.2,222.8 L123.2,223 L122.2,223.3 L121.2,223.6 L120.2,223.9 L119.2,224.2 L118.2,224.6 L117.2,224.9 L116.2,225.2 L115.2,225.5 L114.2,225.8 L113.2,226.2 L112.2,226.5 L111.2,226.9 L110.2,227.3 L109.2,227.7 L108.2,228.1 L107.2,228.5 L106.2,228.9 L105.2,229.3 L104.2,229.7 L103.2,230.1 L102.2,230.5 L101.2,230.9 L100.2,231.3 L99.2,231.6 L98.2,232 L97.2,232.3 L96.2,232.6 L95.2,232.9 L94.2,233.2 L93.2,233.4 L92.2,233.7 L91.2,234 L90.2,234.3 L89.2,234.6 L88.2,234.9 L87.2,235.2 L86.2,235.5 L85.2,235.8 L84.2,236.2 L83.2,236.5 L82.2,236.8 L81.2,237.1 L80.2,237.4 L79.2,237.7 L78.2,238 L77.2,238.3 L76.2,238.6 L75.2,238.9 L74.2,239.2 L73.2,239.6 L72.2,239.9 L71.2,240.2 L70.2,240.5 L69.2,240.8 L68.2,241.1 L67.2,241.3 L66.2,241.5 L65.2,241.7 L64.2,241.9 L63.2,242.1 L62.2,242.2 L61.2,242.3 L60.2,242.4 L59.2,242.5 L58.2,242.6 L57.2,242.7 L56.2,242.7 L55.2,242.8 L54.2,242.9 L53.2,243 L52.2,243 L51.2,243.1 L50.2,243.1 L49.2,243.2 L48.2,243.3 L47.2,243.3 L46.2,243.4 L45.2,243.4 L44.2,243.5 L43.2,243.5 L42.2,243.6 L41.2,243.6 L40.2,243.7 L39.2,243.7 L38.2,243.8 L37.2,243.8 L36.2,243.8 L35.2,243.9 L34.2,243.9 L33.2,244 L32.2,244 L31.2,244 L30.2,244.1 L29.2,244.1 L28.2,244.1 L27.2,244.2 L26.2,244.2 L25.2,244.2 L24.2,244.2Z" fill="#808080" fill-opacity="0.6"/><polyline points="24.2,239.7 25.2,239.7 26.2,239.7 27.2,239.7 28.2,239.7 29.2,239.6 30.2,239.6 31.2,239.6 32.2,239.5 33.2,239.5 34.2,239.4 35.2,239.4 36.2,239.4 37.2,239.3 38.2,239.3 39.2,239.2 40.2,239.2 41.2,239.1 42.2,239.1 43.2,239 44.2,239 45.2,238.9 46.2,238.9 47.2,238.8 48.2,238.8 49.2,238.7 50.2,238.7 51.2,238.6 52.2,238.5 53.2,238.5 54.2,238.4 55.2,238.3 56.2,238.3 57.2,238.2 58.2,238.1 59.2,238 60.2,237.9 61.2,237.8 62.2,237.7 63.2,237.6 64.2,237.4 65.2,237.3 66.2,237.1 67.2,236.8 68.2,236.6 69.2,236.3 70.2,236 71.2,235.7 72.2,235.4 73.2,235.1 74.2,234.8 75.2,234.4 76.2,234.1 77.2,233.8 78.2,233.5 79.2,233.2 80.2,232.9 81.2,232.6 82.2,232.3 83.2,232 84.2,231.7 85.2,231.4 86.2,231.1 87.2,230.8 88.2,230.5 89.2,230.1 90.2,229.8 91.2,229.5 92.2,229.3 93.2,229 94.2,228.7 95.2,228.4 96.2,228.1 97.2,227.8 98.2,227.5 99.2,227.2 100.2,226.9 101.2,226.5 102.2,226.2 103.2,225.9 104.2,225.6 105.2,225.2 106.2,224.9 107.2,224.6 108.2,224.3 109.2,224 110.2,223.7 111.2,223.4 112.2,223.1 113.2,222.9 114.2,222.6 115.2,222.3 116.2,222.1 117.2,221.8 118.2,221.6 119.2,221.3 120.2,221.1 121.2,220.8 122.2,220.5 123.2,220.3 124.2,220 125.2,219.8 126.2,219.6 127.2,219.5 128.2,219.3 129.2,219.2 130.2,219.1 131.2,219 132.2,218.9 133.2,218.9 133.3,218.9" fill="none" stroke="#8a8a8a" stroke-width="0.3"/><polyline points="24.2,244.2 25.2,244.2 26.2,244.2 27.2,244.2 28.2,244.1 29.2,244.1 30.2,244.1 31.2,244 32.2,244 33.2,244 34.2,243.9 35.2,243.9 36.2,243.8 37.2,243.8 38.2,243.8 39.2,243.7 40.2,243.7 41.2,243.6 42.2,243.6 43.2,243.5 44.2,243.5 45.2,243.4 46.2,243.4 47.2,243.3 48.2,243.3 49.2,243.2 50.2,243.1 51.2,243.1 52.2,243 53.2,243 54.2,242.9 55.2,242.8 56.2,242.7 57.2,242.7 58.2,242.6 59.2,242.5 60.2,242.4 61.2,242.3 62.2,242.2 63.2,242.1 64.2,241.9 65.2,241.7 66.2,241.5 67.2,241.3 68.2,241.1 69.2,240.8 70.2,240.5 71.2,240.2 72.2,239.9 73.2,239.6 74.2,239.2 75.2,238.9 76.2,238.6 77.2,238.3 78.2,238 79.2,237.7 80.2,237.4 81.2,237.1 82.2,236.8 83.2,236.5 84.2,236.2 85.2,235.8 86.2,235.5 87.2,235.2 88.2,234.9 89.2,234.6 90.2,234.3 91.2,234 92.2,233.7 93.2,233.4 94.2,233.2 95.2,232.9 96.2,232.6 97.2,232.3 98.2,232 99.2,231.6 100.2,231.3 101.2,230.9 102.2,230.5 103.2,230.1 104.2,229.7 105.2,229.3 106.2,228.9 107.2,228.5 108.2,228.1 109.2,227.7 110.2,227.3 111.2,226.9 112.2,226.5 113.2,226.2 114.2,225.8 115.2,225.5 116.2,225.2 117.2,224.9 118.2,224.6 119.2,224.2 120.2,223.9 121.2,223.6 122.2,223.3 123.2,223 124.2,222.8 125.2,222.5 126.2,222.3 127.2,222.2 128.2,222 129.2,221.9 130.2,221.8 131.2,221.7 132.2,221.6 133.2,221.6 133.3,221.6" fill="none" stroke="#8a8a8a" stroke-width="0.3"/><polyline points="24.2,242 25.2,242 26.2,241.9 27.2,241.9 28.2,241.9 29.2,241.9 30.2,241.8 31.2,241.8 32.2,241.8 33.2,241.7 34.2,241.7 35.2,241.6 36.2,241.6 37.2,241.6 38.2,241.5 39.2,241.5 40.2,241.4 41.2,241.4 42.2,241.3 43.2,241.3 44.2,241.2 45.2,241.2 46.2,241.1 47.2,241.1 48.2,241 49.2,241 50.2,240.9 51.2,240.8 52.2,240.8 53.2,240.7 54.2,240.7 55.2,240.6 56.2,240.5 57.2,240.4 58.2,240.3 59.2,240.2 60.2,240.1 61.2,240 62.2,239.9 63.2,239.8 64.2,239.7 65.2,239.5 66.2,239.3 67.2,239.1 68.2,238.8 69.2,238.6 70.2,238.3 71.2,238 72.2,237.6 73.2,237.3 74.2,237 75.2,236.7 76.2,236.4 77.2,236 78.2,235.7 79.2,235.4 80.2,235.1 81.2,234.8 82.2,234.5 83.2,234.2 84.2,233.9 85.2,233.6 86.2,233.3 87.2,233 88.2,232.7 89.2,232.4 90.2,232.1 91.2,231.8 92.2,231.5 93.2,231.2 94.2,230.9 95.2,230.6 96.2,230.3 97.2,230 98.2,229.7 99.2,229.4 100.2,229.1 101.2,228.7 102.2,228.4 103.2,228 104.2,227.6 105.2,227.3 106.2,226.9 107.2,226.6 108.2,226.2 109.2,225.9 110.2,225.5 111.2,225.2 112.2,224.8 113.2,224.5 114.2,224.2 115.2,223.9 116.2,223.6 117.2,223.3 118.2,223.1 119.2,222.8 120.2,222.5 121.2,222.2 122.2,221.9 123.2,221.6 124.2,221.4 125.2,221.2 126.2,221 127.2,220.8 128.2,220.7 129.2,220.5 130.2,220.4 131.2,220.3 132.2,220.3 133.2,220.2 133.3,220.2" fill="none" stroke="#555555" stroke-width="0.55"/>
<path d="M24.2,246 L25.2,246 L26.2,246 L27.2,246 L28.2,246 L29.2,246 L30.2,246 L31.2,246 L32.2,246 L33.2,246 L34.2,246 L35.2,246 L36.2,246 L37.2,246 L38.2,245.9 L39.2,245.9 L40.2,245.9 L41.2,245.9 L42.2,245.8 L43.2,245.8 L44.2,245.7 L45.2,245.7 L46.2,245.7 L47.2,245.6 L48.2,245.6 L49.2,245.5 L50.2,245.5 L51.2,245.4 L52.2,245.4 L53.2,245.3 L54.2,245.2 L55.2,245.2 L56.2,245.1 L57.2,245 L58.2,244.9 L59.2,244.8 L60.2,244.7 L61.2,244.6 L62.2,244.5 L63.2,244.4 L64.2,244.3 L65.2,244.1 L66.2,244 L67.2,243.8 L68.2,243.6 L69.2,243.4 L70.2,243.2 L71.2,243 L72.2,242.7 L73.2,242.5 L74.2,242.3 L75.2,242.1 L76.2,241.9 L77.2,241.7 L78.2,241.6 L79.2,241.5 L80.2,241.3 L81.2,241.2 L82.2,241.1 L83.2,240.9 L84.2,240.8 L85.2,240.6 L86.2,240.4 L87.2,240.1 L88.2,239.8 L89.2,239.5 L90.2,239.2 L91.2,238.8 L92.2,238.4 L93.2,237.9 L94.2,237.4 L95.2,236.9 L96.2,236.4 L97.2,235.8 L98.2,235.3 L99.2,234.7 L100.2,234.2 L101.2,233.6 L102.2,233 L103.2,232.4 L104.2,231.8 L105.2,231.2 L106.2,230.6 L107.2,229.9 L108.2,229.2 L109.2,228.5 L110.2,227.8 L111.2,227.1 L112.2,226.4 L113.2,225.6 L114.2,224.9 L115.2,224.1 L116.2,223.4 L117.2,222.7 L118.2,222 L119.2,221.3 L120.2,220.7 L121.2,220.1 L122.2,219.6 L123.2,219.1 L124.2,218.6 L125.2,218.2 L126.2,217.8 L127.2,217.5 L128.2,217.1 L129.2,216.8 L130.2,216.5 L131.2,216.3 L132.2,216 L133.2,215.9 L133.3,215.8 L133.3,221.3 L133.2,221.3 L132.2,221.3 L131.2,221.3 L130.2,221.4 L129.2,221.5 L128.2,221.7 L127.2,222 L126.2,222.3 L125.2,222.7 L124.2,223.1 L123.2,223.7 L122.2,224.3 L121.2,224.9 L120.2,225.7 L119.2,226.5 L118.2,227.3 L117.2,228.3 L116.2,229.3 L115.2,230.4 L114.2,231.5 L113.2,232.4 L112.2,233.4 L111.2,234.3 L110.2,235.1 L109.2,235.9 L108.2,236.7 L107.2,237.4 L106.2,238.1 L105.2,238.8 L104.2,239.4 L103.2,240 L102.2,240.6 L101.2,241.2 L100.2,241.8 L99.2,242.3 L98.2,242.8 L97.2,243.3 L96.2,243.8 L95.2,244.2 L94.2,244.6 L93.2,244.9 L92.2,245.2 L91.2,245.5 L90.2,245.7 L89.2,246 L88.2,246.1 L87.2,246.3 L86.2,246.5 L85.2,246.6 L84.2,246.8 L83.2,246.9 L82.2,247.1 L81.2,247.2 L80.2,247.3 L79.2,247.4 L78.2,247.6 L77.2,247.7 L76.2,247.9 L75.2,248.1 L74.2,248.2 L73.2,248.4 L72.2,248.6 L71.2,248.8 L70.2,248.9 L69.2,249.1 L68.2,249.3 L67.2,249.5 L66.2,249.6 L65.2,249.8 L64.2,249.9 L63.2,250 L62.2,250.2 L61.2,250.3 L60.2,250.4 L59.2,250.5 L58.2,250.6 L57.2,250.7 L56.2,250.8 L55.2,250.9 L54.2,251 L53.2,251.2 L52.2,251.3 L51.2,251.4 L50.2,251.5 L49.2,251.6 L48.2,251.7 L47.2,251.8 L46.2,251.9 L45.2,252 L44.2,252.1 L43.2,252.2 L42.2,252.2 L41.2,252.3 L40.2,252.4 L39.2,252.5 L38.2,252.6 L37.2,252.7 L36.2,252.8 L35.2,252.9 L34.2,253 L33.2,253.1 L32.2,253.2 L31.2,253.3 L30.2,253.4 L29.2,253.5 L28.2,253.6 L27.2,253.7 L26.2,253.8 L25.2,253.9 L24.2,253.9Z" fill="#ff2a2a" fill-opacity="0.52"/><polyline points="24.2,246 25.2,246 26.2,246 27.2,246 28.2,246 29.2,246 30.2,246 31.2,246 32.2,246 33.2,246 34.2,246 35.2,246 36.2,246 37.2,246 38.2,245.9 39.2,245.9 40.2,245.9 41.2,245.9 42.2,245.8 43.2,245.8 44.2,245.7 45.2,245.7 46.2,245.7 47.2,245.6 48.2,245.6 49.2,245.5 50.2,245.5 51.2,245.4 52.2,245.4 53.2,245.3 54.2,245.2 55.2,245.2 56.2,245.1 57.2,245 58.2,244.9 59.2,244.8 60.2,244.7 61.2,244.6 62.2,244.5 63.2,244.4 64.2,244.3 65.2,244.1 66.2,244 67.2,243.8 68.2,243.6 69.2,243.4 70.2,243.2 71.2,243 72.2,242.7 73.2,242.5 74.2,242.3 75.2,242.1 76.2,241.9 77.2,241.7 78.2,241.6 79.2,241.5 80.2,241.3 81.2,241.2 82.2,241.1 83.2,240.9 84.2,240.8 85.2,240.6 86.2,240.4 87.2,240.1 88.2,239.8 89.2,239.5 90.2,239.2 91.2,238.8 92.2,238.4 93.2,237.9 94.2,237.4 95.2,236.9 96.2,236.4 97.2,235.8 98.2,235.3 99.2,234.7 100.2,234.2 101.2,233.6 102.2,233 103.2,232.4 104.2,231.8 105.2,231.2 106.2,230.6 107.2,229.9 108.2,229.2 109.2,228.5 110.2,227.8 111.2,227.1 112.2,226.4 113.2,225.6 114.2,224.9 115.2,224.1 116.2,223.4 117.2,222.7 118.2,222 119.2,221.3 120.2,220.7 121.2,220.1 122.2,219.6 123.2,219.1 124.2,218.6 125.2,218.2 126.2,217.8 127.2,217.5 128.2,217.1 129.2,216.8 130.2,216.5 131.2,216.3 132.2,216 133.2,215.9 133.3,215.8" fill="none" stroke="#ff9090" stroke-width="0.25"/><polyline points="24.2,253.9 25.2,253.9 26.2,253.8 27.2,253.7 28.2,253.6 29.2,253.5 30.2,253.4 31.2,253.3 32.2,253.2 33.2,253.1 34.2,253 35.2,252.9 36.2,252.8 37.2,252.7 38.2,252.6 39.2,252.5 40.2,252.4 41.2,252.3 42.2,252.2 43.2,252.2 44.2,252.1 45.2,252 46.2,251.9 47.2,251.8 48.2,251.7 49.2,251.6 50.2,251.5 51.2,251.4 52.2,251.3 53.2,251.2 54.2,251 55.2,250.9 56.2,250.8 57.2,250.7 58.2,250.6 59.2,250.5 60.2,250.4 61.2,250.3 62.2,250.2 63.2,250 64.2,249.9 65.2,249.8 66.2,249.6 67.2,249.5 68.2,249.3 69.2,249.1 70.2,248.9 71.2,248.8 72.2,248.6 73.2,248.4 74.2,248.2 75.2,248.1 76.2,247.9 77.2,247.7 78.2,247.6 79.2,247.4 80.2,247.3 81.2,247.2 82.2,247.1 83.2,246.9 84.2,246.8 85.2,246.6 86.2,246.5 87.2,246.3 88.2,246.1 89.2,246 90.2,245.7 91.2,245.5 92.2,245.2 93.2,244.9 94.2,244.6 95.2,244.2 96.2,243.8 97.2,243.3 98.2,242.8 99.2,242.3 100.2,241.8 101.2,241.2 102.2,240.6 103.2,240 104.2,239.4 105.2,238.8 106.2,238.1 107.2,237.4 108.2,236.7 109.2,235.9 110.2,235.1 111.2,234.3 112.2,233.4 113.2,232.4 114.2,231.5 115.2,230.4 116.2,229.3 117.2,228.3 118.2,227.3 119.2,226.5 120.2,225.7 121.2,224.9 122.2,224.3 123.2,223.7 124.2,223.1 125.2,222.7 126.2,222.3 127.2,222 128.2,221.7 129.2,221.5 130.2,221.4 131.2,221.3 132.2,221.3 133.2,221.3 133.3,221.3" fill="none" stroke="#ff9090" stroke-width="0.25"/><polyline points="24.2,250 25.2,249.9 26.2,249.9 27.2,249.9 28.2,249.8 29.2,249.8 30.2,249.7 31.2,249.7 32.2,249.6 33.2,249.6 34.2,249.5 35.2,249.5 36.2,249.4 37.2,249.3 38.2,249.3 39.2,249.2 40.2,249.2 41.2,249.1 42.2,249 43.2,249 44.2,248.9 45.2,248.8 46.2,248.8 47.2,248.7 48.2,248.6 49.2,248.5 50.2,248.5 51.2,248.4 52.2,248.3 53.2,248.2 54.2,248.1 55.2,248.1 56.2,248 57.2,247.9 58.2,247.8 59.2,247.7 60.2,247.6 61.2,247.5 62.2,247.3 63.2,247.2 64.2,247.1 65.2,246.9 66.2,246.8 67.2,246.6 68.2,246.4 69.2,246.3 70.2,246.1 71.2,245.9 72.2,245.7 73.2,245.5 74.2,245.3 75.2,245.1 76.2,244.9 77.2,244.7 78.2,244.6 79.2,244.5 80.2,244.3 81.2,244.2 82.2,244.1 83.2,243.9 84.2,243.8 85.2,243.6 86.2,243.4 87.2,243.2 88.2,243 89.2,242.7 90.2,242.5 91.2,242.1 92.2,241.8 93.2,241.4 94.2,241 95.2,240.6 96.2,240.1 97.2,239.6 98.2,239.1 99.2,238.5 100.2,238 101.2,237.4 102.2,236.8 103.2,236.2 104.2,235.6 105.2,235 106.2,234.3 107.2,233.7 108.2,232.9 109.2,232.2 110.2,231.5 111.2,230.7 112.2,229.9 113.2,229 114.2,228.2 115.2,227.3 116.2,226.4 117.2,225.5 118.2,224.7 119.2,223.9 120.2,223.2 121.2,222.5 122.2,221.9 123.2,221.4 124.2,220.9 125.2,220.4 126.2,220 127.2,219.7 128.2,219.4 129.2,219.2 130.2,219 131.2,218.8 132.2,218.7 133.2,218.6 133.3,218.5" fill="none" stroke="#f52525" stroke-width="0.75"/>
</g>
<rect x="24.2" y="195" width="109.1" height="80.5" fill="none" stroke="#828282" stroke-width="1.0"/>
<line x1="22.9" y1="195" x2="24.2" y2="195" stroke="#828282" stroke-width="0.7"/>
<text transform="translate(21.40,196.10) scale(0.9,1)" font-size="3.33" text-anchor="end" font-weight="normal" style="font-family:'Liberation Serif',serif" fill="#222" stroke="#222" stroke-width="0.2" >0</text>
<line x1="22.9" y1="227.3" x2="24.2" y2="227.3" stroke="#828282" stroke-width="0.7"/>
<text transform="translate(21.40,228.40) scale(0.9,1)" font-size="3.33" text-anchor="end" font-weight="normal" style="font-family:'Liberation Serif',serif" fill="#222" stroke="#222" stroke-width="0.2" >-40</text>
<line x1="22.9" y1="259.3" x2="24.2" y2="259.3" stroke="#828282" stroke-width="0.7"/>
<text transform="translate(21.40,260.40) scale(0.9,1)" font-size="3.33" text-anchor="end" font-weight="normal" style="font-family:'Liberation Serif',serif" fill="#222" stroke="#222" stroke-width="0.2" >-80</text>
<line x1="24.2" y1="275.5" x2="24.2" y2="277" stroke="#828282" stroke-width="0.6"/>
<text transform="translate(24.20,281.70) scale(0.9,1)" font-size="3.50" text-anchor="middle" font-weight="normal" style="font-family:'Liberation Serif',serif" fill="#222" stroke="#222" stroke-width="0.22" >0</text>
<line x1="35.1" y1="275.5" x2="35.1" y2="276.4" stroke="#828282" stroke-width="0.5"/>
<line x1="46" y1="275.5" x2="46" y2="277" stroke="#828282" stroke-width="0.6"/>
<text transform="translate(46.02,281.70) scale(0.9,1)" font-size="3.50" text-anchor="middle" font-weight="normal" style="font-family:'Liberation Serif',serif" fill="#222" stroke="#222" stroke-width="0.22" >20</text>
<line x1="56.9" y1="275.5" x2="56.9" y2="276.4" stroke="#828282" stroke-width="0.5"/>
<line x1="67.8" y1="275.5" x2="67.8" y2="277" stroke="#828282" stroke-width="0.6"/>
<text transform="translate(67.84,281.70) scale(0.9,1)" font-size="3.50" text-anchor="middle" font-weight="normal" style="font-family:'Liberation Serif',serif" fill="#222" stroke="#222" stroke-width="0.22" >40</text>
<line x1="78.8" y1="275.5" x2="78.8" y2="276.4" stroke="#828282" stroke-width="0.5"/>
<line x1="89.7" y1="275.5" x2="89.7" y2="277" stroke="#828282" stroke-width="0.6"/>
<text transform="translate(89.66,281.70) scale(0.9,1)" font-size="3.50" text-anchor="middle" font-weight="normal" style="font-family:'Liberation Serif',serif" fill="#222" stroke="#222" stroke-width="0.22" >60</text>
<line x1="100.6" y1="275.5" x2="100.6" y2="276.4" stroke="#828282" stroke-width="0.5"/>
<line x1="111.5" y1="275.5" x2="111.5" y2="277" stroke="#828282" stroke-width="0.6"/>
<text transform="translate(111.48,281.70) scale(0.9,1)" font-size="3.50" text-anchor="middle" font-weight="normal" style="font-family:'Liberation Serif',serif" fill="#222" stroke="#222" stroke-width="0.22" >80</text>
<line x1="122.4" y1="275.5" x2="122.4" y2="276.4" stroke="#828282" stroke-width="0.5"/>
<line x1="133.3" y1="275.5" x2="133.3" y2="277" stroke="#828282" stroke-width="0.6"/>
<text transform="translate(133.30,281.70) scale(0.9,1)" font-size="3.50" text-anchor="middle" font-weight="normal" style="font-family:'Liberation Serif',serif" fill="#222" stroke="#222" stroke-width="0.22" >100</text>
<text transform="translate(76.25,288.80) scale(0.86,1)" font-size="5.29" text-anchor="middle" font-weight="normal" style="font-family:'Liberation Serif',serif" fill="#111" stroke="#111" stroke-width="0.1" >Percentage of Backward Phase(%)</text>
<text transform="translate(78.75,190.80) scale(0.86,1)" font-size="5.70" text-anchor="middle" font-weight="bold" style="font-family:'Liberation Serif',serif" fill="#000" stroke="#000" stroke-width="0.1" >Knee Angle</text>
<text x="0" y="0" font-size="6.88" font-weight="bold" text-anchor="middle" style="font-family:'Liberation Serif',serif" fill="#000" stroke="#000" stroke-width="0.25" transform="translate(13.2,235.8) rotate(-90) scale(1,0.88)">In the sagittal plane(°)</text>
<text x="29.1" y="209.9" font-size="11.4" text-anchor="start" font-weight="bold" style="font-family:'Liberation Sans',sans-serif" fill="#000" >D</text>
<line x1="115.3" y1="201.6" x2="122.2" y2="201.6" stroke="#7a7a7a" stroke-width="0.9"/>
<text transform="translate(124.20,203.00) scale(0.9,1)" font-size="3.90" text-anchor="start" font-weight="bold" style="font-family:'Liberation Serif',serif" fill="#000" stroke="#000" stroke-width="0.15" >MA</text>
<line x1="115.3" y1="206.4" x2="122.2" y2="206.4" stroke="#ff5c5c" stroke-width="0.9"/>
<text transform="translate(124.20,207.80) scale(0.9,1)" font-size="3.90" text-anchor="start" font-weight="bold" style="font-family:'Liberation Serif',serif" fill="#000" stroke="#000" stroke-width="0.15" >FA</text>
<text transform="translate(62.40,219.40) scale(0.9,1)" font-size="4.33" text-anchor="start" font-weight="normal" style="font-family:'Liberation Serif',serif" fill="#333" stroke="#333" stroke-width="0.05" >P&lt;0.001</text>
<g clip-path="url(#cE)">
<path d="M169.5,235.2 L170.5,235.1 L171.5,235 L172.5,234.9 L173.5,234.7 L174.5,234.5 L175.5,234.4 L176.5,234.2 L177.5,234.1 L178.5,234 L179.5,233.8 L180.5,233.7 L181.5,233.5 L182.5,233.3 L183.5,233 L184.5,232.7 L185.5,232.4 L186.5,232.1 L187.5,231.7 L188.5,231.4 L189.5,231 L190.5,230.7 L191.5,230.4 L192.5,230 L193.5,229.7 L194.5,229.3 L195.5,229 L196.5,228.7 L197.5,228.4 L198.5,228.2 L199.5,227.9 L200.5,227.8 L201.5,227.6 L202.5,227.5 L203.5,227.4 L204.5,227.3 L205.5,227.2 L206.5,227.2 L207.5,227.1 L208.5,227 L209.5,226.9 L210.5,226.8 L211.5,226.7 L212.5,226.6 L213.5,226.4 L214.5,226.1 L215.5,225.9 L216.5,225.7 L217.5,225.4 L218.5,225.3 L219.5,225.1 L220.5,225 L221.5,225 L222.5,225 L223.5,225.1 L224.5,225.2 L225.5,225.3 L226.5,225.4 L227.5,225.4 L228.5,225.5 L229.5,225.6 L230.5,225.7 L231.5,225.8 L232.5,225.8 L233.5,225.9 L234.5,226 L235.5,226.1 L236.5,226.2 L237.5,226.3 L238.5,226.5 L239.5,226.7 L240.5,227 L241.5,227.2 L242.5,227.5 L243.5,227.9 L244.5,228.2 L245.5,228.5 L246.5,228.8 L247.5,229.1 L248.5,229.3 L249.5,229.6 L250.5,229.8 L251.5,230.1 L252.5,230.3 L253.5,230.5 L254.5,230.7 L255.5,230.9 L256.5,231.1 L257.5,231.3 L258.5,231.5 L259.5,231.7 L260.5,231.9 L261.5,232.1 L262.5,232.3 L263.5,232.5 L264.5,232.6 L265.5,232.8 L266.5,233 L267.5,233.1 L268.5,233.3 L269.5,233.4 L270.5,233.6 L271.5,233.7 L272.5,233.9 L273.5,234 L274.5,234.1 L275.5,234.3 L276.5,234.4 L277.5,234.4 L278,234.5 L278,237.2 L277.5,237.2 L276.5,237.2 L275.5,237.1 L274.5,237.1 L273.5,237 L272.5,237 L271.5,236.9 L270.5,236.9 L269.5,236.8 L268.5,236.8 L267.5,236.7 L266.5,236.7 L265.5,236.6 L264.5,236.6 L263.5,236.5 L262.5,236.5 L261.5,236.4 L260.5,236.4 L259.5,236.4 L258.5,236.3 L257.5,236.3 L256.5,236.3 L255.5,236.3 L254.5,236.2 L253.5,236.2 L252.5,236.1 L251.5,236.1 L250.5,236 L249.5,235.9 L248.5,235.8 L247.5,235.6 L246.5,235.4 L245.5,235.2 L244.5,235 L243.5,234.8 L242.5,234.6 L241.5,234.4 L240.5,234.3 L239.5,234.1 L238.5,234 L237.5,234 L236.5,233.9 L235.5,234 L234.5,234 L233.5,234.1 L232.5,234.2 L231.5,234.2 L230.5,234.3 L229.5,234.4 L228.5,234.5 L227.5,234.6 L226.5,234.6 L225.5,234.7 L224.5,234.8 L223.5,234.9 L222.5,235 L221.5,235.2 L220.5,235.4 L219.5,235.8 L218.5,236.1 L217.5,236.6 L216.5,237 L215.5,237.5 L214.5,237.9 L213.5,238.4 L212.5,238.7 L211.5,239 L210.5,239.2 L209.5,239.4 L208.5,239.6 L207.5,239.8 L206.5,239.9 L205.5,240 L204.5,240.2 L203.5,240.3 L202.5,240.5 L201.5,240.8 L200.5,241.1 L199.5,241.4 L198.5,241.9 L197.5,242.4 L196.5,243 L195.5,243.7 L194.5,244.3 L193.5,244.9 L192.5,245.4 L191.5,245.9 L190.5,246.3 L189.5,246.7 L188.5,247 L187.5,247.3 L186.5,247.5 L185.5,247.8 L184.5,248 L183.5,248.2 L182.5,248.4 L181.5,248.5 L180.5,248.5 L179.5,248.5 L178.5,248.5 L177.5,248.5 L176.5,248.4 L175.5,248.4 L174.5,248.3 L173.5,248.2 L172.5,248.1 L171.5,248 L170.5,247.8 L169.5,247.8Z" fill="#808080" fill-opacity="0.6"/><polyline points="169.5,235.2 170.5,235.1 171.5,235 172.5,234.9 173.5,234.7 174.5,234.5 175.5,234.4 176.5,234.2 177.5,234.1 178.5,234 179.5,233.8 180.5,233.7 181.5,233.5 182.5,233.3 183.5,233 184.5,232.7 185.5,232.4 186.5,232.1 187.5,231.7 188.5,231.4 189.5,231 190.5,230.7 191.5,230.4 192.5,230 193.5,229.7 194.5,229.3 195.5,229 196.5,228.7 197.5,228.4 198.5,228.2 199.5,227.9 200.5,227.8 201.5,227.6 202.5,227.5 203.5,227.4 204.5,227.3 205.5,227.2 206.5,227.2 207.5,227.1 208.5,227 209.5,226.9 210.5,226.8 211.5,226.7 212.5,226.6 213.5,226.4 214.5,226.1 215.5,225.9 216.5,225.7 217.5,225.4 218.5,225.3 219.5,225.1 220.5,225 221.5,225 222.5,225 223.5,225.1 224.5,225.2 225.5,225.3 226.5,225.4 227.5,225.4 228.5,225.5 229.5,225.6 230.5,225.7 231.5,225.8 232.5,225.8 233.5,225.9 234.5,226 235.5,226.1 236.5,226.2 237.5,226.3 238.5,226.5 239.5,226.7 240.5,227 241.5,227.2 242.5,227.5 243.5,227.9 244.5,228.2 245.5,228.5 246.5,228.8 247.5,229.1 248.5,229.3 249.5,229.6 250.5,229.8 251.5,230.1 252.5,230.3 253.5,230.5 254.5,230.7 255.5,230.9 256.5,231.1 257.5,231.3 258.5,231.5 259.5,231.7 260.5,231.9 261.5,232.1 262.5,232.3 263.5,232.5 264.5,232.6 265.5,232.8 266.5,233 267.5,233.1 268.5,233.3 269.5,233.4 270.5,233.6 271.5,233.7 272.5,233.9 273.5,234 274.5,234.1 275.5,234.3 276.5,234.4 277.5,234.4 278,234.5" fill="none" stroke="#8a8a8a" stroke-width="0.3"/><polyline points="169.5,247.8 170.5,247.8 171.5,248 172.5,248.1 173.5,248.2 174.5,248.3 175.5,248.4 176.5,248.4 177.5,248.5 178.5,248.5 179.5,248.5 180.5,248.5 181.5,248.5 182.5,248.4 183.5,248.2 184.5,248 185.5,247.8 186.5,247.5 187.5,247.3 188.5,247 189.5,246.7 190.5,246.3 191.5,245.9 192.5,245.4 193.5,244.9 194.5,244.3 195.5,243.7 196.5,243 197.5,242.4 198.5,241.9 199.5,241.4 200.5,241.1 201.5,240.8 202.5,240.5 203.5,240.3 204.5,240.2 205.5,240 206.5,239.9 207.5,239.8 208.5,239.6 209.5,239.4 210.5,239.2 211.5,239 212.5,238.7 213.5,238.4 214.5,237.9 215.5,237.5 216.5,237 217.5,236.6 218.5,236.1 219.5,235.8 220.5,235.4 221.5,235.2 222.5,235 223.5,234.9 224.5,234.8 225.5,234.7 226.5,234.6 227.5,234.6 228.5,234.5 229.5,234.4 230.5,234.3 231.5,234.2 232.5,234.2 233.5,234.1 234.5,234 235.5,234 236.5,233.9 237.5,234 238.5,234 239.5,234.1 240.5,234.3 241.5,234.4 242.5,234.6 243.5,234.8 244.5,235 245.5,235.2 246.5,235.4 247.5,235.6 248.5,235.8 249.5,235.9 250.5,236 251.5,236.1 252.5,236.1 253.5,236.2 254.5,236.2 255.5,236.3 256.5,236.3 257.5,236.3 258.5,236.3 259.5,236.4 260.5,236.4 261.5,236.4 262.5,236.5 263.5,236.5 264.5,236.6 265.5,236.6 266.5,236.7 267.5,236.7 268.5,236.8 269.5,236.8 270.5,236.9 271.5,236.9 272.5,237 273.5,237 274.5,237.1 275.5,237.1 276.5,237.2 277.5,237.2 278,237.2" fill="none" stroke="#8a8a8a" stroke-width="0.3"/><polyline points="169.5,241.5 170.5,241.5 171.5,241.5 172.5,241.5 173.5,241.4 174.5,241.4 175.5,241.4 176.5,241.3 177.5,241.3 178.5,241.3 179.5,241.2 180.5,241.1 181.5,241 182.5,240.8 183.5,240.6 184.5,240.4 185.5,240.1 186.5,239.8 187.5,239.5 188.5,239.2 189.5,238.8 190.5,238.5 191.5,238.1 192.5,237.7 193.5,237.3 194.5,236.8 195.5,236.3 196.5,235.9 197.5,235.4 198.5,235 199.5,234.7 200.5,234.4 201.5,234.2 202.5,234 203.5,233.9 204.5,233.7 205.5,233.6 206.5,233.5 207.5,233.4 208.5,233.3 209.5,233.2 210.5,233 211.5,232.9 212.5,232.6 213.5,232.4 214.5,232 215.5,231.7 216.5,231.3 217.5,231 218.5,230.7 219.5,230.4 220.5,230.2 221.5,230.1 222.5,230 223.5,230 224.5,230 225.5,230 226.5,230 227.5,230 228.5,230 229.5,230 230.5,230 231.5,230 232.5,230 233.5,230 234.5,230 235.5,230 236.5,230.1 237.5,230.1 238.5,230.3 239.5,230.4 240.5,230.6 241.5,230.8 242.5,231.1 243.5,231.3 244.5,231.6 245.5,231.9 246.5,232.1 247.5,232.3 248.5,232.6 249.5,232.7 250.5,232.9 251.5,233.1 252.5,233.2 253.5,233.3 254.5,233.5 255.5,233.6 256.5,233.7 257.5,233.8 258.5,233.9 259.5,234.1 260.5,234.2 261.5,234.3 262.5,234.4 263.5,234.5 264.5,234.6 265.5,234.7 266.5,234.8 267.5,234.9 268.5,235 269.5,235.1 270.5,235.2 271.5,235.3 272.5,235.4 273.5,235.5 274.5,235.6 275.5,235.7 276.5,235.8 277.5,235.8 278,235.8" fill="none" stroke="#555555" stroke-width="0.55"/>
<path d="M169.5,232.9 L170.5,232.8 L171.5,232.7 L172.5,232.5 L173.5,232.3 L174.5,232.2 L175.5,232 L176.5,231.9 L177.5,231.7 L178.5,231.5 L179.5,231.4 L180.5,231.2 L181.5,231 L182.5,230.9 L183.5,230.7 L184.5,230.6 L185.5,230.4 L186.5,230.2 L187.5,230.1 L188.5,229.9 L189.5,229.8 L190.5,229.6 L191.5,229.4 L192.5,229.3 L193.5,229.1 L194.5,229 L195.5,228.8 L196.5,228.7 L197.5,228.5 L198.5,228.3 L199.5,228.2 L200.5,228 L201.5,227.9 L202.5,227.7 L203.5,227.6 L204.5,227.4 L205.5,227.2 L206.5,227.1 L207.5,226.9 L208.5,226.8 L209.5,226.6 L210.5,226.5 L211.5,226.3 L212.5,226.1 L213.5,226 L214.5,225.8 L215.5,225.7 L216.5,225.5 L217.5,225.4 L218.5,225.2 L219.5,225.1 L220.5,224.9 L221.5,224.8 L222.5,224.6 L223.5,224.5 L224.5,224.3 L225.5,224.2 L226.5,224 L227.5,223.9 L228.5,223.7 L229.5,223.6 L230.5,223.4 L231.5,223.3 L232.5,223.1 L233.5,223 L234.5,222.8 L235.5,222.7 L236.5,222.5 L237.5,222.4 L238.5,222.2 L239.5,222.1 L240.5,221.9 L241.5,221.8 L242.5,221.6 L243.5,221.5 L244.5,221.3 L245.5,221.2 L246.5,221.1 L247.5,220.9 L248.5,220.8 L249.5,220.6 L250.5,220.5 L251.5,220.4 L252.5,220.2 L253.5,220.1 L254.5,219.9 L255.5,219.8 L256.5,219.7 L257.5,219.5 L258.5,219.4 L259.5,219.3 L260.5,219.1 L261.5,219 L262.5,218.9 L263.5,218.7 L264.5,218.6 L265.5,218.5 L266.5,218.3 L267.5,218.2 L268.5,218.1 L269.5,218 L270.5,217.8 L271.5,217.7 L272.5,217.6 L273.5,217.5 L274.5,217.3 L275.5,217.2 L276.5,217.1 L277.5,217 L278,217 L278,235 L277.5,235 L276.5,235 L275.5,235.1 L274.5,235.2 L273.5,235.3 L272.5,235.3 L271.5,235.4 L270.5,235.5 L269.5,235.6 L268.5,235.7 L267.5,235.7 L266.5,235.8 L265.5,235.9 L264.5,236 L263.5,236.1 L262.5,236.2 L261.5,236.2 L260.5,236.3 L259.5,236.4 L258.5,236.5 L257.5,236.6 L256.5,236.6 L255.5,236.7 L254.5,236.8 L253.5,236.9 L252.5,237 L251.5,237.1 L250.5,237.1 L249.5,237.2 L248.5,237.3 L247.5,237.4 L246.5,237.5 L245.5,237.6 L244.5,237.6 L243.5,237.7 L242.5,237.8 L241.5,237.9 L240.5,238 L239.5,238.1 L238.5,238.2 L237.5,238.3 L236.5,238.3 L235.5,238.4 L234.5,238.5 L233.5,238.6 L232.5,238.7 L231.5,238.8 L230.5,238.9 L229.5,238.9 L228.5,239 L227.5,239.1 L226.5,239.2 L225.5,239.2 L224.5,239.3 L223.5,239.4 L222.5,239.5 L221.5,239.5 L220.5,239.6 L219.5,239.7 L218.5,239.7 L217.5,239.8 L216.5,239.8 L215.5,239.9 L214.5,239.9 L213.5,240 L212.5,240 L211.5,240.1 L210.5,240.1 L209.5,240.2 L208.5,240.2 L207.5,240.2 L206.5,240.3 L205.5,240.3 L204.5,240.4 L203.5,240.4 L202.5,240.5 L201.5,240.5 L200.5,240.5 L199.5,240.6 L198.5,240.6 L197.5,240.7 L196.5,240.7 L195.5,240.8 L194.5,240.9 L193.5,240.9 L192.5,241 L191.5,241 L190.5,241.1 L189.5,241.2 L188.5,241.2 L187.5,241.3 L186.5,241.4 L185.5,241.4 L184.5,241.5 L183.5,241.6 L182.5,241.6 L181.5,241.7 L180.5,241.8 L179.5,241.8 L178.5,241.9 L177.5,242 L176.5,242.1 L175.5,242.1 L174.5,242.2 L173.5,242.3 L172.5,242.4 L171.5,242.4 L170.5,242.5 L169.5,242.5Z" fill="#ff2a2a" fill-opacity="0.52"/><polyline points="169.5,232.9 170.5,232.8 171.5,232.7 172.5,232.5 173.5,232.3 174.5,232.2 175.5,232 176.5,231.9 177.5,231.7 178.5,231.5 179.5,231.4 180.5,231.2 181.5,231 182.5,230.9 183.5,230.7 184.5,230.6 185.5,230.4 186.5,230.2 187.5,230.1 188.5,229.9 189.5,229.8 190.5,229.6 191.5,229.4 192.5,229.3 193.5,229.1 194.5,229 195.5,228.8 196.5,228.7 197.5,228.5 198.5,228.3 199.5,228.2 200.5,228 201.5,227.9 202.5,227.7 203.5,227.6 204.5,227.4 205.5,227.2 206.5,227.1 207.5,226.9 208.5,226.8 209.5,226.6 210.5,226.5 211.5,226.3 212.5,226.1 213.5,226 214.5,225.8 215.5,225.7 216.5,225.5 217.5,225.4 218.5,225.2 219.5,225.1 220.5,224.9 221.5,224.8 222.5,224.6 223.5,224.5 224.5,224.3 225.5,224.2 226.5,224 227.5,223.9 228.5,223.7 229.5,223.6 230.5,223.4 231.5,223.3 232.5,223.1 233.5,223 234.5,222.8 235.5,222.7 236.5,222.5 237.5,222.4 238.5,222.2 239.5,222.1 240.5,221.9 241.5,221.8 242.5,221.6 243.5,221.5 244.5,221.3 245.5,221.2 246.5,221.1 247.5,220.9 248.5,220.8 249.5,220.6 250.5,220.5 251.5,220.4 252.5,220.2 253.5,220.1 254.5,219.9 255.5,219.8 256.5,219.7 257.5,219.5 258.5,219.4 259.5,219.3 260.5,219.1 261.5,219 262.5,218.9 263.5,218.7 264.5,218.6 265.5,218.5 266.5,218.3 267.5,218.2 268.5,218.1 269.5,218 270.5,217.8 271.5,217.7 272.5,217.6 273.5,217.5 274.5,217.3 275.5,217.2 276.5,217.1 277.5,217 278,217" fill="none" stroke="#ff9090" stroke-width="0.25"/><polyline points="169.5,242.5 170.5,242.5 171.5,242.4 172.5,242.4 173.5,242.3 174.5,242.2 175.5,242.1 176.5,242.1 177.5,242 178.5,241.9 179.5,241.8 180.5,241.8 181.5,241.7 182.5,241.6 183.5,241.6 184.5,241.5 185.5,241.4 186.5,241.4 187.5,241.3 188.5,241.2 189.5,241.2 190.5,241.1 191.5,241 192.5,241 193.5,240.9 194.5,240.9 195.5,240.8 196.5,240.7 197.5,240.7 198.5,240.6 199.5,240.6 200.5,240.5 201.5,240.5 202.5,240.5 203.5,240.4 204.5,240.4 205.5,240.3 206.5,240.3 207.5,240.2 208.5,240.2 209.5,240.2 210.5,240.1 211.5,240.1 212.5,240 213.5,240 214.5,239.9 215.5,239.9 216.5,239.8 217.5,239.8 218.5,239.7 219.5,239.7 220.5,239.6 221.5,239.5 222.5,239.5 223.5,239.4 224.5,239.3 225.5,239.2 226.5,239.2 227.5,239.1 228.5,239 229.5,238.9 230.5,238.9 231.5,238.8 232.5,238.7 233.5,238.6 234.5,238.5 235.5,238.4 236.5,238.3 237.5,238.3 238.5,238.2 239.5,238.1 240.5,238 241.5,237.9 242.5,237.8 243.5,237.7 244.5,237.6 245.5,237.6 246.5,237.5 247.5,237.4 248.5,237.3 249.5,237.2 250.5,237.1 251.5,237.1 252.5,237 253.5,236.9 254.5,236.8 255.5,236.7 256.5,236.6 257.5,236.6 258.5,236.5 259.5,236.4 260.5,236.3 261.5,236.2 262.5,236.2 263.5,236.1 264.5,236 265.5,235.9 266.5,235.8 267.5,235.7 268.5,235.7 269.5,235.6 270.5,235.5 271.5,235.4 272.5,235.3 273.5,235.3 274.5,235.2 275.5,235.1 276.5,235 277.5,235 278,235" fill="none" stroke="#ff9090" stroke-width="0.25"/><polyline points="169.5,237.7 170.5,237.6 171.5,237.5 172.5,237.4 173.5,237.3 174.5,237.2 175.5,237.1 176.5,237 177.5,236.8 178.5,236.7 179.5,236.6 180.5,236.5 181.5,236.4 182.5,236.3 183.5,236.1 184.5,236 185.5,235.9 186.5,235.8 187.5,235.7 188.5,235.6 189.5,235.5 190.5,235.4 191.5,235.2 192.5,235.1 193.5,235 194.5,234.9 195.5,234.8 196.5,234.7 197.5,234.6 198.5,234.5 199.5,234.4 200.5,234.3 201.5,234.2 202.5,234.1 203.5,234 204.5,233.9 205.5,233.8 206.5,233.7 207.5,233.6 208.5,233.5 209.5,233.4 210.5,233.3 211.5,233.2 212.5,233.1 213.5,233 214.5,232.9 215.5,232.8 216.5,232.7 217.5,232.6 218.5,232.5 219.5,232.4 220.5,232.3 221.5,232.2 222.5,232 223.5,231.9 224.5,231.8 225.5,231.7 226.5,231.6 227.5,231.5 228.5,231.4 229.5,231.3 230.5,231.1 231.5,231 232.5,230.9 233.5,230.8 234.5,230.7 235.5,230.5 236.5,230.4 237.5,230.3 238.5,230.2 239.5,230.1 240.5,230 241.5,229.8 242.5,229.7 243.5,229.6 244.5,229.5 245.5,229.4 246.5,229.3 247.5,229.1 248.5,229 249.5,228.9 250.5,228.8 251.5,228.7 252.5,228.6 253.5,228.5 254.5,228.4 255.5,228.3 256.5,228.2 257.5,228 258.5,227.9 259.5,227.8 260.5,227.7 261.5,227.6 262.5,227.5 263.5,227.4 264.5,227.3 265.5,227.2 266.5,227.1 267.5,227 268.5,226.9 269.5,226.8 270.5,226.7 271.5,226.6 272.5,226.5 273.5,226.4 274.5,226.3 275.5,226.2 276.5,226.1 277.5,226 278,226" fill="none" stroke="#f52525" stroke-width="0.75"/>
</g>
<rect x="169.3" y="195" width="108.9" height="81.2" fill="none" stroke="#828282" stroke-width="1.0"/>
<line x1="168" y1="200.7" x2="169.3" y2="200.7" stroke="#828282" stroke-width="0.7"/>
<text transform="translate(166.50,201.80) scale(0.9,1)" font-size="3.33" text-anchor="end" font-weight="normal" style="font-family:'Liberation Serif',serif" fill="#222" stroke="#222" stroke-width="0.2" >20</text>
<line x1="168" y1="235.5" x2="169.3" y2="235.5" stroke="#828282" stroke-width="0.7"/>
<text transform="translate(166.50,236.60) scale(0.9,1)" font-size="3.33" text-anchor="end" font-weight="normal" style="font-family:'Liberation Serif',serif" fill="#222" stroke="#222" stroke-width="0.2" >0</text>
<line x1="168" y1="270.3" x2="169.3" y2="270.3" stroke="#828282" stroke-width="0.7"/>
<text transform="translate(166.50,271.40) scale(0.9,1)" font-size="3.33" text-anchor="end" font-weight="normal" style="font-family:'Liberation Serif',serif" fill="#222" stroke="#222" stroke-width="0.2" >-20</text>
<line x1="169.3" y1="276.2" x2="169.3" y2="277.7" stroke="#828282" stroke-width="0.6"/>
<text transform="translate(169.30,282.40) scale(0.9,1)" font-size="3.50" text-anchor="middle" font-weight="normal" style="font-family:'Liberation Serif',serif" fill="#222" stroke="#222" stroke-width="0.22" >0</text>
<line x1="180.2" y1="276.2" x2="180.2" y2="277.1" stroke="#828282" stroke-width="0.5"/>
<line x1="191.1" y1="276.2" x2="191.1" y2="277.7" stroke="#828282" stroke-width="0.6"/>
<text transform="translate(191.08,282.40) scale(0.9,1)" font-size="3.50" text-anchor="middle" font-weight="normal" style="font-family:'Liberation Serif',serif" fill="#222" stroke="#222" stroke-width="0.22" >20</text>
<line x1="202" y1="276.2" x2="202" y2="277.1" stroke="#828282" stroke-width="0.5"/>
<line x1="212.9" y1="276.2" x2="212.9" y2="277.7" stroke="#828282" stroke-width="0.6"/>
<text transform="translate(212.86,282.40) scale(0.9,1)" font-size="3.50" text-anchor="middle" font-weight="normal" style="font-family:'Liberation Serif',serif" fill="#222" stroke="#222" stroke-width="0.22" >40</text>
<line x1="223.8" y1="276.2" x2="223.8" y2="277.1" stroke="#828282" stroke-width="0.5"/>
<line x1="234.6" y1="276.2" x2="234.6" y2="277.7" stroke="#828282" stroke-width="0.6"/>
<text transform="translate(234.64,282.40) scale(0.9,1)" font-size="3.50" text-anchor="middle" font-weight="normal" style="font-family:'Liberation Serif',serif" fill="#222" stroke="#222" stroke-width="0.22" >60</text>
<line x1="245.5" y1="276.2" x2="245.5" y2="277.1" stroke="#828282" stroke-width="0.5"/>
<line x1="256.4" y1="276.2" x2="256.4" y2="277.7" stroke="#828282" stroke-width="0.6"/>
<text transform="translate(256.42,282.40) scale(0.9,1)" font-size="3.50" text-anchor="middle" font-weight="normal" style="font-family:'Liberation Serif',serif" fill="#222" stroke="#222" stroke-width="0.22" >80</text>
<line x1="267.3" y1="276.2" x2="267.3" y2="277.1" stroke="#828282" stroke-width="0.5"/>
<line x1="278.2" y1="276.2" x2="278.2" y2="277.7" stroke="#828282" stroke-width="0.6"/>
<text transform="translate(278.20,282.40) scale(0.9,1)" font-size="3.50" text-anchor="middle" font-weight="normal" style="font-family:'Liberation Serif',serif" fill="#222" stroke="#222" stroke-width="0.22" >100</text>
<text transform="translate(221.25,289.50) scale(0.86,1)" font-size="5.29" text-anchor="middle" font-weight="normal" style="font-family:'Liberation Serif',serif" fill="#111" stroke="#111" stroke-width="0.1" >Percentage of Backward Phase(%)</text>
<text transform="translate(224.05,190.80) scale(0.86,1)" font-size="5.70" text-anchor="middle" font-weight="bold" style="font-family:'Liberation Serif',serif" fill="#000" stroke="#000" stroke-width="0.1" >Knee Angle</text>
<text x="0" y="0" font-size="6.88" font-weight="bold" text-anchor="middle" style="font-family:'Liberation Serif',serif" fill="#000" stroke="#000" stroke-width="0.25" transform="translate(158.3,236.2) rotate(-90) scale(1,0.88)">In the frontal plane(°)</text>
<text transform="translate(176.00,209.80) scale(0.86,1)" font-size="11.80" text-anchor="start" font-weight="bold" style="font-family:'Liberation Serif',serif" fill="#000" >E</text>
<line x1="260" y1="201.6" x2="266.9" y2="201.6" stroke="#7a7a7a" stroke-width="0.9"/>
<text transform="translate(268.90,203.00) scale(0.9,1)" font-size="3.90" text-anchor="start" font-weight="bold" style="font-family:'Liberation Serif',serif" fill="#000" stroke="#000" stroke-width="0.15" >MA</text>
<line x1="260" y1="206.4" x2="266.9" y2="206.4" stroke="#ff5c5c" stroke-width="0.9"/>
<text transform="translate(268.90,207.80) scale(0.9,1)" font-size="3.90" text-anchor="start" font-weight="bold" style="font-family:'Liberation Serif',serif" fill="#000" stroke="#000" stroke-width="0.15" >FA</text>
<rect x="315.9" y="194.7" width="109.6" height="79.7" fill="#ececec"/>
<g clip-path="url(#cF)">
<path d="M315.9,225.8 L316.9,225.8 L317.9,225.9 L318.9,226 L319.9,226.1 L320.9,226.2 L321.9,226.3 L322.9,226.4 L323.9,226.5 L324.9,226.7 L325.9,226.8 L326.9,226.9 L327.9,227.1 L328.9,227.2 L329.9,227.4 L330.9,227.6 L331.9,227.8 L332.9,228 L333.9,228.2 L334.9,228.5 L335.9,228.7 L336.9,228.9 L337.9,229.1 L338.9,229.2 L339.9,229.4 L340.9,229.5 L341.9,229.6 L342.9,229.7 L343.9,229.8 L344.9,229.9 L345.9,230 L346.9,230.1 L347.9,230.2 L348.9,230.3 L349.9,230.4 L350.9,230.4 L351.9,230.5 L352.9,230.5 L353.9,230.6 L354.9,230.6 L355.9,230.6 L356.9,230.5 L357.9,230.5 L358.9,230.5 L359.9,230.4 L360.9,230.3 L361.9,230.2 L362.9,230.1 L363.9,230 L364.9,229.9 L365.9,229.7 L366.9,229.6 L367.9,229.5 L368.9,229.3 L369.9,229.2 L370.9,229 L371.9,228.8 L372.9,228.7 L373.9,228.5 L374.9,228.3 L375.9,228 L376.9,227.7 L377.9,227.4 L378.9,227.1 L379.9,226.8 L380.9,226.4 L381.9,226.1 L382.9,225.7 L383.9,225.4 L384.9,225 L385.9,224.6 L386.9,224.2 L387.9,223.9 L388.9,223.5 L389.9,223.2 L390.9,222.8 L391.9,222.4 L392.9,222 L393.9,221.6 L394.9,221.2 L395.9,220.8 L396.9,220.4 L397.9,220 L398.9,219.6 L399.9,219.2 L400.9,218.8 L401.9,218.4 L402.9,218 L403.9,217.7 L404.9,217.4 L405.9,217 L406.9,216.7 L407.9,216.4 L408.9,216.2 L409.9,215.9 L410.9,215.6 L411.9,215.3 L412.9,215.1 L413.9,214.8 L414.9,214.6 L415.9,214.3 L416.9,214.1 L417.9,213.9 L418.9,213.6 L419.9,213.4 L420.9,213.2 L421.9,213 L422.9,212.8 L423.9,212.7 L424.9,212.5 L425.5,212.4 L425.5,219.1 L424.9,219.2 L423.9,219.4 L422.9,219.5 L421.9,219.7 L420.9,219.9 L419.9,220.1 L418.9,220.4 L417.9,220.6 L416.9,220.8 L415.9,221 L414.9,221.3 L413.9,221.5 L412.9,221.8 L411.9,222.1 L410.9,222.3 L409.9,222.6 L408.9,222.9 L407.9,223.2 L406.9,223.4 L405.9,223.7 L404.9,224.1 L403.9,224.4 L402.9,224.7 L401.9,225.1 L400.9,225.4 L399.9,225.8 L398.9,226.2 L397.9,226.6 L396.9,226.9 L395.9,227.3 L394.9,227.7 L393.9,228 L392.9,228.4 L391.9,228.8 L390.9,229.1 L389.9,229.4 L388.9,229.8 L387.9,230.1 L386.9,230.4 L385.9,230.7 L384.9,231.1 L383.9,231.4 L382.9,231.7 L381.9,232 L380.9,232.3 L379.9,232.6 L378.9,232.9 L377.9,233.2 L376.9,233.4 L375.9,233.7 L374.9,233.9 L373.9,234.1 L372.9,234.3 L371.9,234.5 L370.9,234.6 L369.9,234.8 L368.9,234.9 L367.9,235.1 L366.9,235.2 L365.9,235.3 L364.9,235.5 L363.9,235.6 L362.9,235.7 L361.9,235.8 L360.9,235.9 L359.9,236 L358.9,236.1 L357.9,236.1 L356.9,236.1 L355.9,236.2 L354.9,236.2 L353.9,236.2 L352.9,236.1 L351.9,236.1 L350.9,236 L349.9,236 L348.9,235.9 L347.9,235.8 L346.9,235.7 L345.9,235.6 L344.9,235.5 L343.9,235.4 L342.9,235.3 L341.9,235.2 L340.9,235.1 L339.9,235 L338.9,234.9 L337.9,234.8 L336.9,234.7 L335.9,234.6 L334.9,234.5 L333.9,234.4 L332.9,234.3 L331.9,234.1 L330.9,234 L329.9,234 L328.9,233.9 L327.9,233.8 L326.9,233.7 L325.9,233.6 L324.9,233.6 L323.9,233.5 L322.9,233.4 L321.9,233.4 L320.9,233.3 L319.9,233.3 L318.9,233.2 L317.9,233.2 L316.9,233.1 L315.9,233.1Z" fill="#808080" fill-opacity="0.6"/><polyline points="315.9,225.8 316.9,225.8 317.9,225.9 318.9,226 319.9,226.1 320.9,226.2 321.9,226.3 322.9,226.4 323.9,226.5 324.9,226.7 325.9,226.8 326.9,226.9 327.9,227.1 328.9,227.2 329.9,227.4 330.9,227.6 331.9,227.8 332.9,228 333.9,228.2 334.9,228.5 335.9,228.7 336.9,228.9 337.9,229.1 338.9,229.2 339.9,229.4 340.9,229.5 341.9,229.6 342.9,229.7 343.9,229.8 344.9,229.9 345.9,230 346.9,230.1 347.9,230.2 348.9,230.3 349.9,230.4 350.9,230.4 351.9,230.5 352.9,230.5 353.9,230.6 354.9,230.6 355.9,230.6 356.9,230.5 357.9,230.5 358.9,230.5 359.9,230.4 360.9,230.3 361.9,230.2 362.9,230.1 363.9,230 364.9,229.9 365.9,229.7 366.9,229.6 367.9,229.5 368.9,229.3 369.9,229.2 370.9,229 371.9,228.8 372.9,228.7 373.9,228.5 374.9,228.3 375.9,228 376.9,227.7 377.9,227.4 378.9,227.1 379.9,226.8 380.9,226.4 381.9,226.1 382.9,225.7 383.9,225.4 384.9,225 385.9,224.6 386.9,224.2 387.9,223.9 388.9,223.5 389.9,223.2 390.9,222.8 391.9,222.4 392.9,222 393.9,221.6 394.9,221.2 395.9,220.8 396.9,220.4 397.9,220 398.9,219.6 399.9,219.2 400.9,218.8 401.9,218.4 402.9,218 403.9,217.7 404.9,217.4 405.9,217 406.9,216.7 407.9,216.4 408.9,216.2 409.9,215.9 410.9,215.6 411.9,215.3 412.9,215.1 413.9,214.8 414.9,214.6 415.9,214.3 416.9,214.1 417.9,213.9 418.9,213.6 419.9,213.4 420.9,213.2 421.9,213 422.9,212.8 423.9,212.7 424.9,212.5 425.5,212.4" fill="none" stroke="#8a8a8a" stroke-width="0.3"/><polyline points="315.9,233.1 316.9,233.1 317.9,233.2 318.9,233.2 319.9,233.3 320.9,233.3 321.9,233.4 322.9,233.4 323.9,233.5 324.9,233.6 325.9,233.6 326.9,233.7 327.9,233.8 328.9,233.9 329.9,234 330.9,234 331.9,234.1 332.9,234.3 333.9,234.4 334.9,234.5 335.9,234.6 336.9,234.7 337.9,234.8 338.9,234.9 339.9,235 340.9,235.1 341.9,235.2 342.9,235.3 343.9,235.4 344.9,235.5 345.9,235.6 346.9,235.7 347.9,235.8 348.9,235.9 349.9,236 350.9,236 351.9,236.1 352.9,236.1 353.9,236.2 354.9,236.2 355.9,236.2 356.9,236.1 357.9,236.1 358.9,236.1 359.9,236 360.9,235.9 361.9,235.8 362.9,235.7 363.9,235.6 364.9,235.5 365.9,235.3 366.9,235.2 367.9,235.1 368.9,234.9 369.9,234.8 370.9,234.6 371.9,234.5 372.9,234.3 373.9,234.1 374.9,233.9 375.9,233.7 376.9,233.4 377.9,233.2 378.9,232.9 379.9,232.6 380.9,232.3 381.9,232 382.9,231.7 383.9,231.4 384.9,231.1 385.9,230.7 386.9,230.4 387.9,230.1 388.9,229.8 389.9,229.4 390.9,229.1 391.9,228.8 392.9,228.4 393.9,228 394.9,227.7 395.9,227.3 396.9,226.9 397.9,226.6 398.9,226.2 399.9,225.8 400.9,225.4 401.9,225.1 402.9,224.7 403.9,224.4 404.9,224.1 405.9,223.7 406.9,223.4 407.9,223.2 408.9,222.9 409.9,222.6 410.9,222.3 411.9,222.1 412.9,221.8 413.9,221.5 414.9,221.3 415.9,221 416.9,220.8 417.9,220.6 418.9,220.4 419.9,220.1 420.9,219.9 421.9,219.7 422.9,219.5 423.9,219.4 424.9,219.2 425.5,219.1" fill="none" stroke="#8a8a8a" stroke-width="0.3"/><polyline points="315.9,229.4 316.9,229.5 317.9,229.5 318.9,229.6 319.9,229.7 320.9,229.8 321.9,229.8 322.9,229.9 323.9,230 324.9,230.1 325.9,230.2 326.9,230.3 327.9,230.4 328.9,230.6 329.9,230.7 330.9,230.8 331.9,231 332.9,231.1 333.9,231.3 334.9,231.5 335.9,231.6 336.9,231.8 337.9,231.9 338.9,232.1 339.9,232.2 340.9,232.3 341.9,232.4 342.9,232.5 343.9,232.6 344.9,232.7 345.9,232.8 346.9,232.9 347.9,233 348.9,233.1 349.9,233.2 350.9,233.2 351.9,233.3 352.9,233.3 353.9,233.4 354.9,233.4 355.9,233.4 356.9,233.3 357.9,233.3 358.9,233.3 359.9,233.2 360.9,233.1 361.9,233 362.9,232.9 363.9,232.8 364.9,232.7 365.9,232.5 366.9,232.4 367.9,232.3 368.9,232.1 369.9,232 370.9,231.8 371.9,231.6 372.9,231.5 373.9,231.3 374.9,231.1 375.9,230.8 376.9,230.6 377.9,230.3 378.9,230 379.9,229.7 380.9,229.4 381.9,229.1 382.9,228.7 383.9,228.4 384.9,228 385.9,227.7 386.9,227.3 387.9,227 388.9,226.6 389.9,226.3 390.9,225.9 391.9,225.6 392.9,225.2 393.9,224.8 394.9,224.5 395.9,224.1 396.9,223.7 397.9,223.3 398.9,222.9 399.9,222.5 400.9,222.1 401.9,221.7 402.9,221.4 403.9,221 404.9,220.7 405.9,220.4 406.9,220.1 407.9,219.8 408.9,219.5 409.9,219.2 410.9,219 411.9,218.7 412.9,218.4 413.9,218.2 414.9,217.9 415.9,217.7 416.9,217.4 417.9,217.2 418.9,217 419.9,216.8 420.9,216.6 421.9,216.4 422.9,216.2 423.9,216 424.9,215.9 425.5,215.8" fill="none" stroke="#555555" stroke-width="0.55"/>
<path d="M315.9,240.4 L316.9,240.4 L317.9,240.4 L318.9,240.4 L319.9,240.4 L320.9,240.4 L321.9,240.4 L322.9,240.4 L323.9,240.4 L324.9,240.4 L325.9,240.4 L326.9,240.3 L327.9,240.3 L328.9,240.3 L329.9,240.3 L330.9,240.3 L331.9,240.2 L332.9,240.2 L333.9,240.2 L334.9,240.1 L335.9,240.1 L336.9,240.1 L337.9,240 L338.9,240 L339.9,240 L340.9,239.9 L341.9,239.9 L342.9,239.8 L343.9,239.7 L344.9,239.6 L345.9,239.5 L346.9,239.4 L347.9,239.3 L348.9,239.1 L349.9,239 L350.9,238.8 L351.9,238.7 L352.9,238.5 L353.9,238.4 L354.9,238.2 L355.9,238.1 L356.9,237.9 L357.9,237.8 L358.9,237.7 L359.9,237.5 L360.9,237.4 L361.9,237.3 L362.9,237.1 L363.9,237 L364.9,236.8 L365.9,236.7 L366.9,236.5 L367.9,236.4 L368.9,236.2 L369.9,236 L370.9,235.8 L371.9,235.6 L372.9,235.3 L373.9,235.1 L374.9,234.8 L375.9,234.6 L376.9,234.3 L377.9,234 L378.9,233.7 L379.9,233.4 L380.9,233.1 L381.9,232.8 L382.9,232.5 L383.9,232.2 L384.9,231.9 L385.9,231.5 L386.9,231.2 L387.9,230.9 L388.9,230.6 L389.9,230.3 L390.9,230 L391.9,229.6 L392.9,229.3 L393.9,228.9 L394.9,228.6 L395.9,228.2 L396.9,227.8 L397.9,227.5 L398.9,227.1 L399.9,226.7 L400.9,226.3 L401.9,226 L402.9,225.6 L403.9,225.3 L404.9,225 L405.9,224.7 L406.9,224.4 L407.9,224.1 L408.9,223.8 L409.9,223.6 L410.9,223.3 L411.9,223.1 L412.9,222.8 L413.9,222.6 L414.9,222.3 L415.9,222.1 L416.9,221.9 L417.9,221.7 L418.9,221.4 L419.9,221.2 L420.9,221 L421.9,220.8 L422.9,220.7 L423.9,220.5 L424.9,220.4 L425.5,220.3 L425.5,229.2 L424.9,229.3 L423.9,229.4 L422.9,229.5 L421.9,229.6 L420.9,229.7 L419.9,229.8 L418.9,230 L417.9,230.1 L416.9,230.3 L415.9,230.4 L414.9,230.6 L413.9,230.7 L412.9,230.9 L411.9,231.1 L410.9,231.3 L409.9,231.4 L408.9,231.6 L407.9,231.8 L406.9,232 L405.9,232.2 L404.9,232.4 L403.9,232.6 L402.9,232.8 L401.9,233.1 L400.9,233.3 L399.9,233.5 L398.9,233.8 L397.9,234.1 L396.9,234.3 L395.9,234.6 L394.9,234.9 L393.9,235.1 L392.9,235.4 L391.9,235.7 L390.9,236 L389.9,236.3 L388.9,236.6 L387.9,236.9 L386.9,237.2 L385.9,237.5 L384.9,237.9 L383.9,238.2 L382.9,238.5 L381.9,238.8 L380.9,239.1 L379.9,239.4 L378.9,239.7 L377.9,240 L376.9,240.3 L375.9,240.6 L374.9,240.8 L373.9,241.1 L372.9,241.3 L371.9,241.6 L370.9,241.8 L369.9,242 L368.9,242.3 L367.9,242.5 L366.9,242.7 L365.9,242.9 L364.9,243.1 L363.9,243.3 L362.9,243.6 L361.9,243.8 L360.9,244 L359.9,244.2 L358.9,244.4 L357.9,244.6 L356.9,244.8 L355.9,245 L354.9,245.2 L353.9,245.4 L352.9,245.7 L351.9,245.9 L350.9,246.1 L349.9,246.4 L348.9,246.6 L347.9,246.8 L346.9,247 L345.9,247.2 L344.9,247.4 L343.9,247.6 L342.9,247.7 L341.9,247.8 L340.9,247.9 L339.9,248 L338.9,248.1 L337.9,248.2 L336.9,248.3 L335.9,248.4 L334.9,248.5 L333.9,248.6 L332.9,248.6 L331.9,248.7 L330.9,248.8 L329.9,248.8 L328.9,248.9 L327.9,249 L326.9,249 L325.9,249.1 L324.9,249.1 L323.9,249.2 L322.9,249.2 L321.9,249.3 L320.9,249.3 L319.9,249.3 L318.9,249.3 L317.9,249.4 L316.9,249.4 L315.9,249.4Z" fill="#ff2a2a" fill-opacity="0.52"/><polyline points="315.9,240.4 316.9,240.4 317.9,240.4 318.9,240.4 319.9,240.4 320.9,240.4 321.9,240.4 322.9,240.4 323.9,240.4 324.9,240.4 325.9,240.4 326.9,240.3 327.9,240.3 328.9,240.3 329.9,240.3 330.9,240.3 331.9,240.2 332.9,240.2 333.9,240.2 334.9,240.1 335.9,240.1 336.9,240.1 337.9,240 338.9,240 339.9,240 340.9,239.9 341.9,239.9 342.9,239.8 343.9,239.7 344.9,239.6 345.9,239.5 346.9,239.4 347.9,239.3 348.9,239.1 349.9,239 350.9,238.8 351.9,238.7 352.9,238.5 353.9,238.4 354.9,238.2 355.9,238.1 356.9,237.9 357.9,237.8 358.9,237.7 359.9,237.5 360.9,237.4 361.9,237.3 362.9,237.1 363.9,237 364.9,236.8 365.9,236.7 366.9,236.5 367.9,236.4 368.9,236.2 369.9,236 370.9,235.8 371.9,235.6 372.9,235.3 373.9,235.1 374.9,234.8 375.9,234.6 376.9,234.3 377.9,234 378.9,233.7 379.9,233.4 380.9,233.1 381.9,232.8 382.9,232.5 383.9,232.2 384.9,231.9 385.9,231.5 386.9,231.2 387.9,230.9 388.9,230.6 389.9,230.3 390.9,230 391.9,229.6 392.9,229.3 393.9,228.9 394.9,228.6 395.9,228.2 396.9,227.8 397.9,227.5 398.9,227.1 399.9,226.7 400.9,226.3 401.9,226 402.9,225.6 403.9,225.3 404.9,225 405.9,224.7 406.9,224.4 407.9,224.1 408.9,223.8 409.9,223.6 410.9,223.3 411.9,223.1 412.9,222.8 413.9,222.6 414.9,222.3 415.9,222.1 416.9,221.9 417.9,221.7 418.9,221.4 419.9,221.2 420.9,221 421.9,220.8 422.9,220.7 423.9,220.5 424.9,220.4 425.5,220.3" fill="none" stroke="#ff9090" stroke-width="0.25"/><polyline points="315.9,249.4 316.9,249.4 317.9,249.4 318.9,249.3 319.9,249.3 320.9,249.3 321.9,249.3 322.9,249.2 323.9,249.2 324.9,249.1 325.9,249.1 326.9,249 327.9,249 328.9,248.9 329.9,248.8 330.9,248.8 331.9,248.7 332.9,248.6 333.9,248.6 334.9,248.5 335.9,248.4 336.9,248.3 337.9,248.2 338.9,248.1 339.9,248 340.9,247.9 341.9,247.8 342.9,247.7 343.9,247.6 344.9,247.4 345.9,247.2 346.9,247 347.9,246.8 348.9,246.6 349.9,246.4 350.9,246.1 351.9,245.9 352.9,245.7 353.9,245.4 354.9,245.2 355.9,245 356.9,244.8 357.9,244.6 358.9,244.4 359.9,244.2 360.9,244 361.9,243.8 362.9,243.6 363.9,243.3 364.9,243.1 365.9,242.9 366.9,242.7 367.9,242.5 368.9,242.3 369.9,242 370.9,241.8 371.9,241.6 372.9,241.3 373.9,241.1 374.9,240.8 375.9,240.6 376.9,240.3 377.9,240 378.9,239.7 379.9,239.4 380.9,239.1 381.9,238.8 382.9,238.5 383.9,238.2 384.9,237.9 385.9,237.5 386.9,237.2 387.9,236.9 388.9,236.6 389.9,236.3 390.9,236 391.9,235.7 392.9,235.4 393.9,235.1 394.9,234.9 395.9,234.6 396.9,234.3 397.9,234.1 398.9,233.8 399.9,233.5 400.9,233.3 401.9,233.1 402.9,232.8 403.9,232.6 404.9,232.4 405.9,232.2 406.9,232 407.9,231.8 408.9,231.6 409.9,231.4 410.9,231.3 411.9,231.1 412.9,230.9 413.9,230.7 414.9,230.6 415.9,230.4 416.9,230.3 417.9,230.1 418.9,230 419.9,229.8 420.9,229.7 421.9,229.6 422.9,229.5 423.9,229.4 424.9,229.3 425.5,229.2" fill="none" stroke="#ff9090" stroke-width="0.25"/><polyline points="315.9,244.9 316.9,244.9 317.9,244.9 318.9,244.9 319.9,244.9 320.9,244.8 321.9,244.8 322.9,244.8 323.9,244.8 324.9,244.8 325.9,244.7 326.9,244.7 327.9,244.6 328.9,244.6 329.9,244.6 330.9,244.5 331.9,244.5 332.9,244.4 333.9,244.4 334.9,244.3 335.9,244.3 336.9,244.2 337.9,244.1 338.9,244.1 339.9,244 340.9,243.9 341.9,243.8 342.9,243.8 343.9,243.6 344.9,243.5 345.9,243.4 346.9,243.2 347.9,243 348.9,242.8 349.9,242.7 350.9,242.5 351.9,242.3 352.9,242.1 353.9,241.9 354.9,241.7 355.9,241.5 356.9,241.4 357.9,241.2 358.9,241 359.9,240.9 360.9,240.7 361.9,240.5 362.9,240.3 363.9,240.2 364.9,240 365.9,239.8 366.9,239.6 367.9,239.4 368.9,239.2 369.9,239 370.9,238.8 371.9,238.6 372.9,238.3 373.9,238.1 374.9,237.8 375.9,237.6 376.9,237.3 377.9,237 378.9,236.7 379.9,236.4 380.9,236.1 381.9,235.8 382.9,235.5 383.9,235.2 384.9,234.9 385.9,234.5 386.9,234.2 387.9,233.9 388.9,233.6 389.9,233.3 390.9,233 391.9,232.7 392.9,232.4 393.9,232 394.9,231.7 395.9,231.4 396.9,231.1 397.9,230.8 398.9,230.4 399.9,230.1 400.9,229.8 401.9,229.5 402.9,229.2 403.9,229 404.9,228.7 405.9,228.4 406.9,228.2 407.9,228 408.9,227.7 409.9,227.5 410.9,227.3 411.9,227.1 412.9,226.9 413.9,226.7 414.9,226.5 415.9,226.3 416.9,226.1 417.9,225.9 418.9,225.7 419.9,225.5 420.9,225.4 421.9,225.2 422.9,225.1 423.9,224.9 424.9,224.8 425.5,224.8" fill="none" stroke="#f52525" stroke-width="0.75"/>
</g>
<rect x="315.9" y="194.7" width="109.6" height="79.7" fill="none" stroke="#828282" stroke-width="1.0"/>
<line x1="314.6" y1="194.8" x2="315.9" y2="194.8" stroke="#828282" stroke-width="0.7"/>
<text transform="translate(313.10,195.90) scale(0.9,1)" font-size="3.33" text-anchor="end" font-weight="normal" style="font-family:'Liberation Serif',serif" fill="#222" stroke="#222" stroke-width="0.2" >40</text>
<line x1="314.6" y1="214.6" x2="315.9" y2="214.6" stroke="#828282" stroke-width="0.7"/>
<text transform="translate(313.10,215.70) scale(0.9,1)" font-size="3.33" text-anchor="end" font-weight="normal" style="font-family:'Liberation Serif',serif" fill="#222" stroke="#222" stroke-width="0.2" >20</text>
<line x1="314.6" y1="234.2" x2="315.9" y2="234.2" stroke="#828282" stroke-width="0.7"/>
<text transform="translate(313.10,235.30) scale(0.9,1)" font-size="3.33" text-anchor="end" font-weight="normal" style="font-family:'Liberation Serif',serif" fill="#222" stroke="#222" stroke-width="0.2" >0</text>
<line x1="314.6" y1="253.9" x2="315.9" y2="253.9" stroke="#828282" stroke-width="0.7"/>
<text transform="translate(313.10,255.00) scale(0.9,1)" font-size="3.33" text-anchor="end" font-weight="normal" style="font-family:'Liberation Serif',serif" fill="#222" stroke="#222" stroke-width="0.2" >-20</text>
<line x1="314.6" y1="273.6" x2="315.9" y2="273.6" stroke="#828282" stroke-width="0.7"/>
<text transform="translate(313.10,274.70) scale(0.9,1)" font-size="3.33" text-anchor="end" font-weight="normal" style="font-family:'Liberation Serif',serif" fill="#222" stroke="#222" stroke-width="0.2" >-40</text>
<line x1="315.9" y1="274.4" x2="315.9" y2="275.9" stroke="#828282" stroke-width="0.6"/>
<text transform="translate(315.90,280.60) scale(0.9,1)" font-size="3.50" text-anchor="middle" font-weight="normal" style="font-family:'Liberation Serif',serif" fill="#222" stroke="#222" stroke-width="0.22" >0</text>
<line x1="326.9" y1="274.4" x2="326.9" y2="275.3" stroke="#828282" stroke-width="0.5"/>
<line x1="337.8" y1="274.4" x2="337.8" y2="275.9" stroke="#828282" stroke-width="0.6"/>
<text transform="translate(337.82,280.60) scale(0.9,1)" font-size="3.50" text-anchor="middle" font-weight="normal" style="font-family:'Liberation Serif',serif" fill="#222" stroke="#222" stroke-width="0.22" >20</text>
<line x1="348.8" y1="274.4" x2="348.8" y2="275.3" stroke="#828282" stroke-width="0.5"/>
<line x1="359.7" y1="274.4" x2="359.7" y2="275.9" stroke="#828282" stroke-width="0.6"/>
<text transform="translate(359.74,280.60) scale(0.9,1)" font-size="3.50" text-anchor="middle" font-weight="normal" style="font-family:'Liberation Serif',serif" fill="#222" stroke="#222" stroke-width="0.22" >40</text>
<line x1="370.7" y1="274.4" x2="370.7" y2="275.3" stroke="#828282" stroke-width="0.5"/>
<line x1="381.7" y1="274.4" x2="381.7" y2="275.9" stroke="#828282" stroke-width="0.6"/>
<text transform="translate(381.66,280.60) scale(0.9,1)" font-size="3.50" text-anchor="middle" font-weight="normal" style="font-family:'Liberation Serif',serif" fill="#222" stroke="#222" stroke-width="0.22" >60</text>
<line x1="392.6" y1="274.4" x2="392.6" y2="275.3" stroke="#828282" stroke-width="0.5"/>
<line x1="403.6" y1="274.4" x2="403.6" y2="275.9" stroke="#828282" stroke-width="0.6"/>
<text transform="translate(403.58,280.60) scale(0.9,1)" font-size="3.50" text-anchor="middle" font-weight="normal" style="font-family:'Liberation Serif',serif" fill="#222" stroke="#222" stroke-width="0.22" >80</text>
<line x1="414.5" y1="274.4" x2="414.5" y2="275.3" stroke="#828282" stroke-width="0.5"/>
<line x1="425.5" y1="274.4" x2="425.5" y2="275.9" stroke="#828282" stroke-width="0.6"/>
<text transform="translate(425.50,280.60) scale(0.9,1)" font-size="3.50" text-anchor="middle" font-weight="normal" style="font-family:'Liberation Serif',serif" fill="#222" stroke="#222" stroke-width="0.22" >100</text>
<text transform="translate(368.20,287.70) scale(0.86,1)" font-size="5.29" text-anchor="middle" font-weight="normal" style="font-family:'Liberation Serif',serif" fill="#111" stroke="#111" stroke-width="0.1" >Percentage of Backward Phase(%)</text>
<text transform="translate(371.00,190.50) scale(0.86,1)" font-size="5.70" text-anchor="middle" font-weight="bold" style="font-family:'Liberation Serif',serif" fill="#000" stroke="#000" stroke-width="0.1" >Knee Angle</text>
<text x="0" y="0" font-size="6.88" font-weight="bold" text-anchor="middle" style="font-family:'Liberation Serif',serif" fill="#000" stroke="#000" stroke-width="0.25" transform="translate(305.6,235.1) rotate(-90) scale(1,0.88)">In the transverse plane(°)</text>
<text x="320.9" y="209.5" font-size="11.4" text-anchor="start" font-weight="bold" style="font-family:'Liberation Sans',sans-serif" fill="#000" >F</text>
<line x1="406.8" y1="201.4" x2="413.7" y2="201.4" stroke="#7a7a7a" stroke-width="0.9"/>
<text transform="translate(415.70,202.80) scale(0.9,1)" font-size="3.90" text-anchor="start" font-weight="bold" style="font-family:'Liberation Serif',serif" fill="#000" stroke="#000" stroke-width="0.15" >MA</text>
<line x1="406.8" y1="206.2" x2="413.7" y2="206.2" stroke="#ff5c5c" stroke-width="0.9"/>
<text transform="translate(415.70,207.60) scale(0.9,1)" font-size="3.90" text-anchor="start" font-weight="bold" style="font-family:'Liberation Serif',serif" fill="#000" stroke="#000" stroke-width="0.15" >FA</text>
<text transform="translate(364.00,218.40) scale(0.9,1)" font-size="4.33" text-anchor="start" font-weight="normal" style="font-family:'Liberation Serif',serif" fill="#333" stroke="#333" stroke-width="0.05" >P&lt;0.001</text>
<rect x="23.8" y="383" width="60.8" height="80.5" fill="#ececec"/>
<line x1="84.6" y1="383" x2="84.6" y2="463.5" stroke="#b4b4b4" stroke-width="0.6" stroke-dasharray="0.7,1.4"/>
<g clip-path="url(#cG)">
<path d="M24,440.6 L25,440.6 L26,440.7 L27,440.8 L28,440.9 L29,441 L30,441.1 L31,441.1 L32,441.1 L33,441.1 L34,441.1 L35,441.1 L36,441.1 L37,440.9 L38,440.7 L39,440.5 L40,440.1 L41,439.7 L42,439.3 L43,438.8 L44,438.2 L45,437.6 L46,436.9 L47,436.1 L48,435.3 L49,434.6 L50,433.8 L51,433.1 L52,432.4 L53,431.7 L54,431 L55,430.4 L56,429.8 L57,429.2 L58,428.7 L59,428.2 L60,427.8 L61,427.4 L62,427 L63,426.6 L64,426.3 L65,426 L66,425.7 L67,425.4 L68,425.1 L69,424.8 L70,424.5 L71,424.1 L72,423.7 L73,423.3 L74,422.8 L75,422.4 L76,421.9 L77,421.6 L78,421.3 L79,421 L80,420.8 L81,420.7 L82,420.5 L83,420.3 L84,420.1 L85,419.9 L86,419.7 L87,419.4 L88,419.1 L89,418.7 L90,418.4 L91,418 L92,417.7 L93,417.3 L94,416.9 L95,416.5 L96,416.1 L97,415.7 L98,415.2 L99,414.7 L100,414.2 L101,413.6 L102,413 L103,412.4 L104,411.8 L105,411.3 L106,410.8 L107,410.3 L108,409.9 L109,409.5 L110,409.1 L111,408.7 L112,408.3 L113,407.9 L114,407.6 L115,407.2 L116,406.9 L117,406.6 L118,406.3 L119,406.1 L120,405.8 L121,405.6 L122,405.3 L123,405.1 L124,404.9 L125,404.8 L126,404.6 L127,404.4 L128,404.3 L129,404.2 L130,404.1 L131,404.1 L132,404 L133,404 L133.3,404 L133.3,408.7 L133,408.8 L132,408.9 L131,409.1 L130,409.3 L129,409.4 L128,409.6 L127,409.8 L126,410 L125,410.1 L124,410.3 L123,410.5 L122,410.7 L121,410.9 L120,411.2 L119,411.5 L118,411.8 L117,412.2 L116,412.6 L115,413.1 L114,413.5 L113,413.9 L112,414.3 L111,414.7 L110,415.1 L109,415.5 L108,415.9 L107,416.4 L106,416.8 L105,417.3 L104,417.8 L103,418.3 L102,418.8 L101,419.2 L100,419.7 L99,420.1 L98,420.5 L97,420.9 L96,421.2 L95,421.5 L94,421.8 L93,422.1 L92,422.4 L91,422.7 L90,423 L89,423.3 L88,423.6 L87,423.9 L86,424.2 L85,424.3 L84,424.5 L83,424.6 L82,424.7 L81,424.7 L80,424.8 L79,424.9 L78,425.2 L77,425.5 L76,425.9 L75,426.4 L74,427 L73,427.6 L72,428.2 L71,428.8 L70,429.3 L69,429.7 L68,430.1 L67,430.5 L66,430.8 L65,431.2 L64,431.6 L63,432 L62,432.5 L61,433 L60,433.4 L59,434 L58,434.5 L57,435 L56,435.6 L55,436.2 L54,436.8 L53,437.4 L52,438.1 L51,438.7 L50,439.4 L49,440.1 L48,440.8 L47,441.5 L46,442.2 L45,442.9 L44,443.5 L43,443.9 L42,444.3 L41,444.7 L40,445 L39,445.2 L38,445.4 L37,445.5 L36,445.6 L35,445.6 L34,445.6 L33,445.6 L32,445.6 L31,445.6 L30,445.5 L29,445.5 L28,445.4 L27,445.3 L26,445.2 L25,445.1 L24,445Z" fill="#808080" fill-opacity="0.6"/><polyline points="24,440.6 25,440.6 26,440.7 27,440.8 28,440.9 29,441 30,441.1 31,441.1 32,441.1 33,441.1 34,441.1 35,441.1 36,441.1 37,440.9 38,440.7 39,440.5 40,440.1 41,439.7 42,439.3 43,438.8 44,438.2 45,437.6 46,436.9 47,436.1 48,435.3 49,434.6 50,433.8 51,433.1 52,432.4 53,431.7 54,431 55,430.4 56,429.8 57,429.2 58,428.7 59,428.2 60,427.8 61,427.4 62,427 63,426.6 64,426.3 65,426 66,425.7 67,425.4 68,425.1 69,424.8 70,424.5 71,424.1 72,423.7 73,423.3 74,422.8 75,422.4 76,421.9 77,421.6 78,421.3 79,421 80,420.8 81,420.7 82,420.5 83,420.3 84,420.1 85,419.9 86,419.7 87,419.4 88,419.1 89,418.7 90,418.4 91,418 92,417.7 93,417.3 94,416.9 95,416.5 96,416.1 97,415.7 98,415.2 99,414.7 100,414.2 101,413.6 102,413 103,412.4 104,411.8 105,411.3 106,410.8 107,410.3 108,409.9 109,409.5 110,409.1 111,408.7 112,408.3 113,407.9 114,407.6 115,407.2 116,406.9 117,406.6 118,406.3 119,406.1 120,405.8 121,405.6 122,405.3 123,405.1 124,404.9 125,404.8 126,404.6 127,404.4 128,404.3 129,404.2 130,404.1 131,404.1 132,404 133,404 133.3,404" fill="none" stroke="#8a8a8a" stroke-width="0.3"/><polyline points="24,445 25,445.1 26,445.2 27,445.3 28,445.4 29,445.5 30,445.5 31,445.6 32,445.6 33,445.6 34,445.6 35,445.6 36,445.6 37,445.5 38,445.4 39,445.2 40,445 41,444.7 42,444.3 43,443.9 44,443.5 45,442.9 46,442.2 47,441.5 48,440.8 49,440.1 50,439.4 51,438.7 52,438.1 53,437.4 54,436.8 55,436.2 56,435.6 57,435 58,434.5 59,434 60,433.4 61,433 62,432.5 63,432 64,431.6 65,431.2 66,430.8 67,430.5 68,430.1 69,429.7 70,429.3 71,428.8 72,428.2 73,427.6 74,427 75,426.4 76,425.9 77,425.5 78,425.2 79,424.9 80,424.8 81,424.7 82,424.7 83,424.6 84,424.5 85,424.3 86,424.2 87,423.9 88,423.6 89,423.3 90,423 91,422.7 92,422.4 93,422.1 94,421.8 95,421.5 96,421.2 97,420.9 98,420.5 99,420.1 100,419.7 101,419.2 102,418.8 103,418.3 104,417.8 105,417.3 106,416.8 107,416.4 108,415.9 109,415.5 110,415.1 111,414.7 112,414.3 113,413.9 114,413.5 115,413.1 116,412.6 117,412.2 118,411.8 119,411.5 120,411.2 121,410.9 122,410.7 123,410.5 124,410.3 125,410.1 126,410 127,409.8 128,409.6 129,409.4 130,409.3 131,409.1 132,408.9 133,408.8 133.3,408.7" fill="none" stroke="#8a8a8a" stroke-width="0.3"/><polyline points="24,442.8 25,442.9 26,443 27,443.1 28,443.2 29,443.2 30,443.3 31,443.3 32,443.4 33,443.4 34,443.4 35,443.4 36,443.3 37,443.2 38,443.1 39,442.8 40,442.5 41,442.2 42,441.8 43,441.4 44,440.8 45,440.2 46,439.5 47,438.8 48,438.1 49,437.3 50,436.6 51,435.9 52,435.2 53,434.6 54,433.9 55,433.3 56,432.7 57,432.1 58,431.6 59,431.1 60,430.6 61,430.2 62,429.7 63,429.3 64,429 65,428.6 66,428.3 67,427.9 68,427.6 69,427.3 70,426.9 71,426.5 72,426 73,425.4 74,424.9 75,424.4 76,423.9 77,423.5 78,423.2 79,423 80,422.8 81,422.7 82,422.6 83,422.4 84,422.3 85,422.1 86,421.9 87,421.6 88,421.4 89,421 90,420.7 91,420.4 92,420 93,419.7 94,419.4 95,419 96,418.6 97,418.3 98,417.9 99,417.4 100,416.9 101,416.4 102,415.9 103,415.3 104,414.8 105,414.3 106,413.8 107,413.4 108,412.9 109,412.5 110,412.1 111,411.7 112,411.3 113,410.9 114,410.6 115,410.2 116,409.8 117,409.4 118,409.1 119,408.8 120,408.5 121,408.3 122,408 123,407.8 124,407.6 125,407.4 126,407.3 127,407.1 128,407 129,406.8 130,406.7 131,406.6 132,406.5 133,406.4 133.3,406.4" fill="none" stroke="#555555" stroke-width="0.55"/>
<path d="M24,422 L25,422 L26,422.1 L27,422.2 L28,422.2 L29,422.3 L30,422.4 L31,422.4 L32,422.5 L33,422.5 L34,422.6 L35,422.6 L36,422.6 L37,422.6 L38,422.6 L39,422.6 L40,422.6 L41,422.6 L42,422.7 L43,422.7 L44,422.7 L45,422.7 L46,422.7 L47,422.7 L48,422.7 L49,422.7 L50,422.7 L51,422.6 L52,422.5 L53,422.4 L54,422.3 L55,422.1 L56,421.9 L57,421.7 L58,421.5 L59,421.3 L60,421.1 L61,420.9 L62,420.8 L63,420.6 L64,420.4 L65,420.3 L66,420.2 L67,420 L68,419.9 L69,419.8 L70,419.7 L71,419.5 L72,419.4 L73,419.3 L74,419.2 L75,419 L76,418.9 L77,418.8 L78,418.7 L79,418.6 L80,418.5 L81,418.4 L82,418.3 L83,418.2 L84,418.1 L85,417.9 L86,417.7 L87,417.5 L88,417.2 L89,416.9 L90,416.5 L91,416.2 L92,415.8 L93,415.4 L94,414.9 L95,414.5 L96,414 L97,413.5 L98,412.9 L99,412.4 L100,411.8 L101,411.2 L102,410.6 L103,409.9 L104,409.3 L105,408.7 L106,408.2 L107,407.6 L108,407.1 L109,406.6 L110,406.1 L111,405.6 L112,405.1 L113,404.6 L114,404.2 L115,403.8 L116,403.4 L117,403 L118,402.6 L119,402.3 L120,401.9 L121,401.6 L122,401.3 L123,401 L124,400.7 L125,400.4 L126,400.1 L127,399.9 L128,399.6 L129,399.4 L130,399.2 L131,399 L132,398.9 L133,398.7 L133.3,398.7 L133.3,405.7 L133,405.7 L132,405.9 L131,406 L130,406.2 L129,406.4 L128,406.6 L127,406.9 L126,407.1 L125,407.4 L124,407.7 L123,408 L122,408.3 L121,408.6 L120,409 L119,409.3 L118,409.8 L117,410.2 L116,410.7 L115,411.2 L114,411.7 L113,412.2 L112,412.7 L111,413.2 L110,413.7 L109,414.2 L108,414.7 L107,415.2 L106,415.7 L105,416.3 L104,416.8 L103,417.3 L102,417.8 L101,418.3 L100,418.8 L99,419.2 L98,419.6 L97,420 L96,420.3 L95,420.6 L94,420.9 L93,421.2 L92,421.4 L91,421.7 L90,421.9 L89,422.1 L88,422.3 L87,422.5 L86,422.6 L85,422.8 L84,422.9 L83,423 L82,423.1 L81,423.2 L80,423.3 L79,423.4 L78,423.5 L77,423.6 L76,423.7 L75,423.8 L74,424 L73,424.1 L72,424.2 L71,424.3 L70,424.5 L69,424.6 L68,424.7 L67,424.8 L66,425 L65,425.1 L64,425.2 L63,425.4 L62,425.5 L61,425.7 L60,425.8 L59,426 L58,426.2 L57,426.3 L56,426.5 L55,426.6 L54,426.8 L53,426.9 L52,427 L51,427 L50,427.1 L49,427.1 L48,427.1 L47,427.2 L46,427.2 L45,427.2 L44,427.2 L43,427.3 L42,427.3 L41,427.3 L40,427.3 L39,427.4 L38,427.4 L37,427.4 L36,427.4 L35,427.4 L34,427.4 L33,427.3 L32,427.3 L31,427.2 L30,427.2 L29,427.1 L28,427 L27,427 L26,426.9 L25,426.8 L24,426.8Z" fill="#ff2a2a" fill-opacity="0.52"/><polyline points="24,422 25,422 26,422.1 27,422.2 28,422.2 29,422.3 30,422.4 31,422.4 32,422.5 33,422.5 34,422.6 35,422.6 36,422.6 37,422.6 38,422.6 39,422.6 40,422.6 41,422.6 42,422.7 43,422.7 44,422.7 45,422.7 46,422.7 47,422.7 48,422.7 49,422.7 50,422.7 51,422.6 52,422.5 53,422.4 54,422.3 55,422.1 56,421.9 57,421.7 58,421.5 59,421.3 60,421.1 61,420.9 62,420.8 63,420.6 64,420.4 65,420.3 66,420.2 67,420 68,419.9 69,419.8 70,419.7 71,419.5 72,419.4 73,419.3 74,419.2 75,419 76,418.9 77,418.8 78,418.7 79,418.6 80,418.5 81,418.4 82,418.3 83,418.2 84,418.1 85,417.9 86,417.7 87,417.5 88,417.2 89,416.9 90,416.5 91,416.2 92,415.8 93,415.4 94,414.9 95,414.5 96,414 97,413.5 98,412.9 99,412.4 100,411.8 101,411.2 102,410.6 103,409.9 104,409.3 105,408.7 106,408.2 107,407.6 108,407.1 109,406.6 110,406.1 111,405.6 112,405.1 113,404.6 114,404.2 115,403.8 116,403.4 117,403 118,402.6 119,402.3 120,401.9 121,401.6 122,401.3 123,401 124,400.7 125,400.4 126,400.1 127,399.9 128,399.6 129,399.4 130,399.2 131,399 132,398.9 133,398.7 133.3,398.7" fill="none" stroke="#ff9090" stroke-width="0.25"/><polyline points="24,426.8 25,426.8 26,426.9 27,427 28,427 29,427.1 30,427.2 31,427.2 32,427.3 33,427.3 34,427.4 35,427.4 36,427.4 37,427.4 38,427.4 39,427.4 40,427.3 41,427.3 42,427.3 43,427.3 44,427.2 45,427.2 46,427.2 47,427.2 48,427.1 49,427.1 50,427.1 51,427 52,427 53,426.9 54,426.8 55,426.6 56,426.5 57,426.3 58,426.2 59,426 60,425.8 61,425.7 62,425.5 63,425.4 64,425.2 65,425.1 66,425 67,424.8 68,424.7 69,424.6 70,424.5 71,424.3 72,424.2 73,424.1 74,424 75,423.8 76,423.7 77,423.6 78,423.5 79,423.4 80,423.3 81,423.2 82,423.1 83,423 84,422.9 85,422.8 86,422.6 87,422.5 88,422.3 89,422.1 90,421.9 91,421.7 92,421.4 93,421.2 94,420.9 95,420.6 96,420.3 97,420 98,419.6 99,419.2 100,418.8 101,418.3 102,417.8 103,417.3 104,416.8 105,416.3 106,415.7 107,415.2 108,414.7 109,414.2 110,413.7 111,413.2 112,412.7 113,412.2 114,411.7 115,411.2 116,410.7 117,410.2 118,409.8 119,409.3 120,409 121,408.6 122,408.3 123,408 124,407.7 125,407.4 126,407.1 127,406.9 128,406.6 129,406.4 130,406.2 131,406 132,405.9 133,405.7 133.3,405.7" fill="none" stroke="#ff9090" stroke-width="0.25"/><polyline points="24,424.4 25,424.4 26,424.5 27,424.6 28,424.6 29,424.7 30,424.8 31,424.8 32,424.9 33,424.9 34,425 35,425 36,425 37,425 38,425 39,425 40,425 41,425 42,425 43,425 44,425 45,425 46,424.9 47,424.9 48,424.9 49,424.9 50,424.9 51,424.8 52,424.7 53,424.6 54,424.5 55,424.4 56,424.2 57,424 58,423.8 59,423.7 60,423.5 61,423.3 62,423.1 63,423 64,422.8 65,422.7 66,422.6 67,422.4 68,422.3 69,422.2 70,422.1 71,421.9 72,421.8 73,421.7 74,421.6 75,421.4 76,421.3 77,421.2 78,421.1 79,421 80,420.9 81,420.8 82,420.7 83,420.6 84,420.5 85,420.3 86,420.2 87,420 88,419.7 89,419.5 90,419.2 91,418.9 92,418.6 93,418.3 94,417.9 95,417.6 96,417.2 97,416.7 98,416.3 99,415.8 100,415.3 101,414.8 102,414.2 103,413.6 104,413.1 105,412.5 106,412 107,411.4 108,410.9 109,410.4 110,409.9 111,409.4 112,408.9 113,408.4 114,408 115,407.5 116,407 117,406.6 118,406.2 119,405.8 120,405.4 121,405.1 122,404.8 123,404.5 124,404.2 125,403.9 126,403.6 127,403.4 128,403.1 129,402.9 130,402.7 131,402.5 132,402.4 133,402.2 133.3,402.2" fill="none" stroke="#f52525" stroke-width="0.75"/>
</g>
<rect x="23.8" y="383" width="109.5" height="80.5" fill="none" stroke="#828282" stroke-width="1.0"/>
<line x1="22.5" y1="383" x2="23.8" y2="383" stroke="#828282" stroke-width="0.7"/>
<text transform="translate(21.00,384.10) scale(0.9,1)" font-size="3.33" text-anchor="end" font-weight="normal" style="font-family:'Liberation Serif',serif" fill="#222" stroke="#222" stroke-width="0.2" >100</text>
<line x1="22.5" y1="423.5" x2="23.8" y2="423.5" stroke="#828282" stroke-width="0.7"/>
<text transform="translate(21.00,424.60) scale(0.9,1)" font-size="3.33" text-anchor="end" font-weight="normal" style="font-family:'Liberation Serif',serif" fill="#222" stroke="#222" stroke-width="0.2" >50</text>
<line x1="22.5" y1="463.5" x2="23.8" y2="463.5" stroke="#828282" stroke-width="0.7"/>
<text transform="translate(21.00,464.60) scale(0.9,1)" font-size="3.33" text-anchor="end" font-weight="normal" style="font-family:'Liberation Serif',serif" fill="#222" stroke="#222" stroke-width="0.2" >0</text>
<line x1="23.8" y1="463.5" x2="23.8" y2="465" stroke="#828282" stroke-width="0.6"/>
<text transform="translate(23.80,469.70) scale(0.9,1)" font-size="3.50" text-anchor="middle" font-weight="normal" style="font-family:'Liberation Serif',serif" fill="#222" stroke="#222" stroke-width="0.22" >0</text>
<line x1="34.8" y1="463.5" x2="34.8" y2="464.4" stroke="#828282" stroke-width="0.5"/>
<line x1="45.7" y1="463.5" x2="45.7" y2="465" stroke="#828282" stroke-width="0.6"/>
<text transform="translate(45.70,469.70) scale(0.9,1)" font-size="3.50" text-anchor="middle" font-weight="normal" style="font-family:'Liberation Serif',serif" fill="#222" stroke="#222" stroke-width="0.22" >20</text>
<line x1="56.7" y1="463.5" x2="56.7" y2="464.4" stroke="#828282" stroke-width="0.5"/>
<line x1="67.6" y1="463.5" x2="67.6" y2="465" stroke="#828282" stroke-width="0.6"/>
<text transform="translate(67.60,469.70) scale(0.9,1)" font-size="3.50" text-anchor="middle" font-weight="normal" style="font-family:'Liberation Serif',serif" fill="#222" stroke="#222" stroke-width="0.22" >40</text>
<line x1="78.6" y1="463.5" x2="78.6" y2="464.4" stroke="#828282" stroke-width="0.5"/>
<line x1="89.5" y1="463.5" x2="89.5" y2="465" stroke="#828282" stroke-width="0.6"/>
<text transform="translate(89.50,469.70) scale(0.9,1)" font-size="3.50" text-anchor="middle" font-weight="normal" style="font-family:'Liberation Serif',serif" fill="#222" stroke="#222" stroke-width="0.22" >60</text>
<line x1="100.5" y1="463.5" x2="100.5" y2="464.4" stroke="#828282" stroke-width="0.5"/>
<line x1="111.4" y1="463.5" x2="111.4" y2="465" stroke="#828282" stroke-width="0.6"/>
<text transform="translate(111.40,469.70) scale(0.9,1)" font-size="3.50" text-anchor="middle" font-weight="normal" style="font-family:'Liberation Serif',serif" fill="#222" stroke="#222" stroke-width="0.22" >80</text>
<line x1="122.4" y1="463.5" x2="122.4" y2="464.4" stroke="#828282" stroke-width="0.5"/>
<line x1="133.3" y1="463.5" x2="133.3" y2="465" stroke="#828282" stroke-width="0.6"/>
<text transform="translate(133.30,469.70) scale(0.9,1)" font-size="3.50" text-anchor="middle" font-weight="normal" style="font-family:'Liberation Serif',serif" fill="#222" stroke="#222" stroke-width="0.22" >100</text>
<text transform="translate(76.05,476.80) scale(0.86,1)" font-size="5.29" text-anchor="middle" font-weight="normal" style="font-family:'Liberation Serif',serif" fill="#111" stroke="#111" stroke-width="0.1" >Percentage of Backward Phase(%)</text>
<text transform="translate(78.05,378.80) scale(0.86,1)" font-size="5.70" text-anchor="middle" font-weight="bold" style="font-family:'Liberation Serif',serif" fill="#000" stroke="#000" stroke-width="0.1" >Hip Angle</text>
<text x="0" y="0" font-size="6.88" font-weight="bold" text-anchor="middle" style="font-family:'Liberation Serif',serif" fill="#000" stroke="#000" stroke-width="0.25" transform="translate(12.8,423.9) rotate(-90) scale(1,0.88)">In the sagittal plane(°)</text>
<text transform="translate(28.70,398.20) scale(0.86,1)" font-size="11.80" text-anchor="start" font-weight="bold" style="font-family:'Liberation Serif',serif" fill="#000" >G</text>
<line x1="115" y1="389.8" x2="121.9" y2="389.8" stroke="#7a7a7a" stroke-width="0.9"/>
<text transform="translate(123.90,391.20) scale(0.9,1)" font-size="3.90" text-anchor="start" font-weight="bold" style="font-family:'Liberation Serif',serif" fill="#000" stroke="#000" stroke-width="0.15" >MA</text>
<line x1="115" y1="394.6" x2="121.9" y2="394.6" stroke="#ff5c5c" stroke-width="0.9"/>
<text transform="translate(123.90,396.00) scale(0.9,1)" font-size="3.90" text-anchor="start" font-weight="bold" style="font-family:'Liberation Serif',serif" fill="#000" stroke="#000" stroke-width="0.15" >FA</text>
<text transform="translate(47.70,406.80) scale(0.9,1)" font-size="4.33" text-anchor="start" font-weight="normal" style="font-family:'Liberation Serif',serif" fill="#333" stroke="#333" stroke-width="0.05" >P&lt;0.001</text>
<rect x="239.2" y="383.1" width="39.3" height="80.6" fill="#ececec"/>
<line x1="239.2" y1="383.1" x2="239.2" y2="463.7" stroke="#b4b4b4" stroke-width="0.6" stroke-dasharray="0.7,1.4"/>
<g clip-path="url(#cH)">
<path d="M169.4,431.6 L170.4,431.4 L171.4,431.2 L172.4,430.9 L173.4,430.7 L174.4,430.5 L175.4,430.2 L176.4,430 L177.4,429.9 L178.4,429.7 L179.4,429.6 L180.4,429.5 L181.4,429.5 L182.4,429.4 L183.4,429.4 L184.4,429.3 L185.4,429.3 L186.4,429.2 L187.4,429.2 L188.4,429.2 L189.4,429.1 L190.4,429.1 L191.4,429.1 L192.4,429 L193.4,429 L194.4,428.9 L195.4,428.9 L196.4,428.8 L197.4,428.7 L198.4,428.6 L199.4,428.6 L200.4,428.5 L201.4,428.4 L202.4,428.2 L203.4,428.1 L204.4,427.9 L205.4,427.7 L206.4,427.4 L207.4,427.1 L208.4,426.8 L209.4,426.5 L210.4,426.1 L211.4,425.7 L212.4,425.3 L213.4,424.9 L214.4,424.5 L215.4,424.1 L216.4,423.7 L217.4,423.3 L218.4,422.9 L219.4,422.4 L220.4,422 L221.4,421.5 L222.4,421.1 L223.4,420.6 L224.4,420.2 L225.4,419.7 L226.4,419.3 L227.4,418.9 L228.4,418.4 L229.4,418 L230.4,417.5 L231.4,417.1 L232.4,416.6 L233.4,416.2 L234.4,415.7 L235.4,415.2 L236.4,414.7 L237.4,414.2 L238.4,413.7 L239.4,413.1 L240.4,412.6 L241.4,412.1 L242.4,411.6 L243.4,411.1 L244.4,410.6 L245.4,410.1 L246.4,409.6 L247.4,409.2 L248.4,408.8 L249.4,408.3 L250.4,407.9 L251.4,407.5 L252.4,407.2 L253.4,406.8 L254.4,406.4 L255.4,406.1 L256.4,405.7 L257.4,405.4 L258.4,405.1 L259.4,404.8 L260.4,404.5 L261.4,404.2 L262.4,404 L263.4,403.8 L264.4,403.5 L265.4,403.3 L266.4,403.1 L267.4,402.9 L268.4,402.7 L269.4,402.6 L270.4,402.4 L271.4,402.2 L272.4,402.1 L273.4,402 L274.4,401.8 L275.4,401.7 L276.4,401.6 L277.4,401.6 L278.4,401.5 L278.5,401.5 L278.5,407.8 L278.4,407.9 L277.4,408 L276.4,408.2 L275.4,408.5 L274.4,408.7 L273.4,408.9 L272.4,409.1 L271.4,409.3 L270.4,409.5 L269.4,409.7 L268.4,409.9 L267.4,410.1 L266.4,410.3 L265.4,410.5 L264.4,410.7 L263.4,410.9 L262.4,411.2 L261.4,411.4 L260.4,411.7 L259.4,412 L258.4,412.3 L257.4,412.6 L256.4,412.9 L255.4,413.2 L254.4,413.6 L253.4,413.9 L252.4,414.3 L251.4,414.7 L250.4,415.1 L249.4,415.5 L248.4,415.9 L247.4,416.3 L246.4,416.6 L245.4,417 L244.4,417.3 L243.4,417.6 L242.4,417.9 L241.4,418.2 L240.4,418.5 L239.4,418.9 L238.4,419.3 L237.4,419.7 L236.4,420.1 L235.4,420.5 L234.4,420.9 L233.4,421.4 L232.4,421.8 L231.4,422.3 L230.4,422.7 L229.4,423.1 L228.4,423.6 L227.4,424 L226.4,424.4 L225.4,424.9 L224.4,425.3 L223.4,425.8 L222.4,426.2 L221.4,426.6 L220.4,427.1 L219.4,427.5 L218.4,427.9 L217.4,428.3 L216.4,428.7 L215.4,429.1 L214.4,429.5 L213.4,429.8 L212.4,430.2 L211.4,430.5 L210.4,430.8 L209.4,431.2 L208.4,431.5 L207.4,431.7 L206.4,432 L205.4,432.2 L204.4,432.4 L203.4,432.6 L202.4,432.7 L201.4,432.8 L200.4,432.9 L199.4,433 L198.4,433.1 L197.4,433.2 L196.4,433.3 L195.4,433.3 L194.4,433.4 L193.4,433.5 L192.4,433.5 L191.4,433.5 L190.4,433.6 L189.4,433.6 L188.4,433.7 L187.4,433.7 L186.4,433.7 L185.4,433.8 L184.4,433.8 L183.4,433.8 L182.4,433.9 L181.4,433.9 L180.4,434 L179.4,434.1 L178.4,434.2 L177.4,434.4 L176.4,434.5 L175.4,434.7 L174.4,434.9 L173.4,435.2 L172.4,435.4 L171.4,435.7 L170.4,435.9 L169.4,436.1Z" fill="#808080" fill-opacity="0.6"/><polyline points="169.4,431.6 170.4,431.4 171.4,431.2 172.4,430.9 173.4,430.7 174.4,430.5 175.4,430.2 176.4,430 177.4,429.9 178.4,429.7 179.4,429.6 180.4,429.5 181.4,429.5 182.4,429.4 183.4,429.4 184.4,429.3 185.4,429.3 186.4,429.2 187.4,429.2 188.4,429.2 189.4,429.1 190.4,429.1 191.4,429.1 192.4,429 193.4,429 194.4,428.9 195.4,428.9 196.4,428.8 197.4,428.7 198.4,428.6 199.4,428.6 200.4,428.5 201.4,428.4 202.4,428.2 203.4,428.1 204.4,427.9 205.4,427.7 206.4,427.4 207.4,427.1 208.4,426.8 209.4,426.5 210.4,426.1 211.4,425.7 212.4,425.3 213.4,424.9 214.4,424.5 215.4,424.1 216.4,423.7 217.4,423.3 218.4,422.9 219.4,422.4 220.4,422 221.4,421.5 222.4,421.1 223.4,420.6 224.4,420.2 225.4,419.7 226.4,419.3 227.4,418.9 228.4,418.4 229.4,418 230.4,417.5 231.4,417.1 232.4,416.6 233.4,416.2 234.4,415.7 235.4,415.2 236.4,414.7 237.4,414.2 238.4,413.7 239.4,413.1 240.4,412.6 241.4,412.1 242.4,411.6 243.4,411.1 244.4,410.6 245.4,410.1 246.4,409.6 247.4,409.2 248.4,408.8 249.4,408.3 250.4,407.9 251.4,407.5 252.4,407.2 253.4,406.8 254.4,406.4 255.4,406.1 256.4,405.7 257.4,405.4 258.4,405.1 259.4,404.8 260.4,404.5 261.4,404.2 262.4,404 263.4,403.8 264.4,403.5 265.4,403.3 266.4,403.1 267.4,402.9 268.4,402.7 269.4,402.6 270.4,402.4 271.4,402.2 272.4,402.1 273.4,402 274.4,401.8 275.4,401.7 276.4,401.6 277.4,401.6 278.4,401.5 278.5,401.5" fill="none" stroke="#8a8a8a" stroke-width="0.3"/><polyline points="169.4,436.1 170.4,435.9 171.4,435.7 172.4,435.4 173.4,435.2 174.4,434.9 175.4,434.7 176.4,434.5 177.4,434.4 178.4,434.2 179.4,434.1 180.4,434 181.4,433.9 182.4,433.9 183.4,433.8 184.4,433.8 185.4,433.8 186.4,433.7 187.4,433.7 188.4,433.7 189.4,433.6 190.4,433.6 191.4,433.5 192.4,433.5 193.4,433.5 194.4,433.4 195.4,433.3 196.4,433.3 197.4,433.2 198.4,433.1 199.4,433 200.4,432.9 201.4,432.8 202.4,432.7 203.4,432.6 204.4,432.4 205.4,432.2 206.4,432 207.4,431.7 208.4,431.5 209.4,431.2 210.4,430.8 211.4,430.5 212.4,430.2 213.4,429.8 214.4,429.5 215.4,429.1 216.4,428.7 217.4,428.3 218.4,427.9 219.4,427.5 220.4,427.1 221.4,426.6 222.4,426.2 223.4,425.8 224.4,425.3 225.4,424.9 226.4,424.4 227.4,424 228.4,423.6 229.4,423.1 230.4,422.7 231.4,422.3 232.4,421.8 233.4,421.4 234.4,420.9 235.4,420.5 236.4,420.1 237.4,419.7 238.4,419.3 239.4,418.9 240.4,418.5 241.4,418.2 242.4,417.9 243.4,417.6 244.4,417.3 245.4,417 246.4,416.6 247.4,416.3 248.4,415.9 249.4,415.5 250.4,415.1 251.4,414.7 252.4,414.3 253.4,413.9 254.4,413.6 255.4,413.2 256.4,412.9 257.4,412.6 258.4,412.3 259.4,412 260.4,411.7 261.4,411.4 262.4,411.2 263.4,410.9 264.4,410.7 265.4,410.5 266.4,410.3 267.4,410.1 268.4,409.9 269.4,409.7 270.4,409.5 271.4,409.3 272.4,409.1 273.4,408.9 274.4,408.7 275.4,408.5 276.4,408.2 277.4,408 278.4,407.9 278.5,407.8" fill="none" stroke="#8a8a8a" stroke-width="0.3"/><polyline points="169.4,433.8 170.4,433.7 171.4,433.4 172.4,433.2 173.4,432.9 174.4,432.7 175.4,432.5 176.4,432.3 177.4,432.1 178.4,432 179.4,431.9 180.4,431.8 181.4,431.7 182.4,431.7 183.4,431.6 184.4,431.6 185.4,431.5 186.4,431.5 187.4,431.5 188.4,431.4 189.4,431.4 190.4,431.3 191.4,431.3 192.4,431.3 193.4,431.2 194.4,431.2 195.4,431.1 196.4,431 197.4,431 198.4,430.9 199.4,430.8 200.4,430.7 201.4,430.6 202.4,430.5 203.4,430.3 204.4,430.2 205.4,430 206.4,429.7 207.4,429.4 208.4,429.1 209.4,428.8 210.4,428.5 211.4,428.1 212.4,427.7 213.4,427.4 214.4,427 215.4,426.6 216.4,426.2 217.4,425.8 218.4,425.4 219.4,425 220.4,424.5 221.4,424.1 222.4,423.6 223.4,423.2 224.4,422.7 225.4,422.3 226.4,421.9 227.4,421.4 228.4,421 229.4,420.6 230.4,420.1 231.4,419.7 232.4,419.2 233.4,418.8 234.4,418.3 235.4,417.9 236.4,417.4 237.4,416.9 238.4,416.5 239.4,416 240.4,415.6 241.4,415.2 242.4,414.7 243.4,414.3 244.4,413.9 245.4,413.5 246.4,413.1 247.4,412.7 248.4,412.3 249.4,411.9 250.4,411.5 251.4,411.1 252.4,410.7 253.4,410.4 254.4,410 255.4,409.6 256.4,409.3 257.4,409 258.4,408.7 259.4,408.4 260.4,408.1 261.4,407.8 262.4,407.6 263.4,407.3 264.4,407.1 265.4,406.9 266.4,406.7 267.4,406.5 268.4,406.3 269.4,406.1 270.4,406 271.4,405.8 272.4,405.6 273.4,405.4 274.4,405.3 275.4,405.1 276.4,404.9 277.4,404.8 278.4,404.7 278.5,404.7" fill="none" stroke="#555555" stroke-width="0.55"/>
<path d="M169.4,429.7 L170.4,429.5 L171.4,429.3 L172.4,429 L173.4,428.7 L174.4,428.4 L175.4,428.1 L176.4,427.9 L177.4,427.6 L178.4,427.4 L179.4,427.2 L180.4,427 L181.4,426.8 L182.4,426.6 L183.4,426.5 L184.4,426.3 L185.4,426.1 L186.4,426 L187.4,425.9 L188.4,425.7 L189.4,425.6 L190.4,425.4 L191.4,425.3 L192.4,425.2 L193.4,425.1 L194.4,424.9 L195.4,424.8 L196.4,424.7 L197.4,424.7 L198.4,424.6 L199.4,424.5 L200.4,424.5 L201.4,424.4 L202.4,424.4 L203.4,424.3 L204.4,424.2 L205.4,424 L206.4,423.9 L207.4,423.7 L208.4,423.4 L209.4,423.2 L210.4,422.9 L211.4,422.6 L212.4,422.3 L213.4,421.9 L214.4,421.6 L215.4,421.3 L216.4,421 L217.4,420.7 L218.4,420.4 L219.4,420.2 L220.4,420 L221.4,419.7 L222.4,419.5 L223.4,419.3 L224.4,419 L225.4,418.7 L226.4,418.4 L227.4,418 L228.4,417.6 L229.4,417.1 L230.4,416.7 L231.4,416.4 L232.4,416.1 L233.4,415.8 L234.4,415.7 L235.4,415.5 L236.4,415.4 L237.4,415.3 L238.4,415.1 L239.4,415 L240.4,414.8 L241.4,414.6 L242.4,414.4 L243.4,414.1 L244.4,413.9 L245.4,413.6 L246.4,413.4 L247.4,413.1 L248.4,412.9 L249.4,412.6 L250.4,412.3 L251.4,412 L252.4,411.7 L253.4,411.4 L254.4,411.1 L255.4,410.8 L256.4,410.5 L257.4,410.2 L258.4,409.9 L259.4,409.6 L260.4,409.3 L261.4,409 L262.4,408.8 L263.4,408.5 L264.4,408.2 L265.4,408 L266.4,407.8 L267.4,407.6 L268.4,407.4 L269.4,407.3 L270.4,407.1 L271.4,407 L272.4,406.9 L273.4,406.8 L274.4,406.8 L275.4,406.7 L276.4,406.6 L277.4,406.6 L278.4,406.5 L278.5,406.5 L278.5,421.3 L278.4,421.3 L277.4,421.3 L276.4,421.2 L275.4,421.2 L274.4,421.2 L273.4,421.2 L272.4,421.2 L271.4,421.2 L270.4,421.2 L269.4,421.2 L268.4,421.3 L267.4,421.4 L266.4,421.5 L265.4,421.6 L264.4,421.7 L263.4,421.8 L262.4,422 L261.4,422.1 L260.4,422.2 L259.4,422.3 L258.4,422.5 L257.4,422.6 L256.4,422.7 L255.4,422.7 L254.4,422.8 L253.4,422.8 L252.4,422.8 L251.4,422.7 L250.4,422.7 L249.4,422.7 L248.4,422.7 L247.4,422.8 L246.4,422.8 L245.4,422.9 L244.4,423 L243.4,423.2 L242.4,423.3 L241.4,423.5 L240.4,423.6 L239.4,423.8 L238.4,424 L237.4,424.1 L236.4,424.3 L235.4,424.5 L234.4,424.7 L233.4,425 L232.4,425.4 L231.4,425.8 L230.4,426.3 L229.4,426.9 L228.4,427.6 L227.4,428.1 L226.4,428.6 L225.4,429.1 L224.4,429.4 L223.4,429.6 L222.4,429.8 L221.4,430 L220.4,430.1 L219.4,430.3 L218.4,430.5 L217.4,430.7 L216.4,430.9 L215.4,431.2 L214.4,431.4 L213.4,431.7 L212.4,432 L211.4,432.3 L210.4,432.6 L209.4,432.8 L208.4,433.1 L207.4,433.3 L206.4,433.6 L205.4,433.8 L204.4,434.1 L203.4,434.3 L202.4,434.6 L201.4,434.9 L200.4,435.1 L199.4,435.4 L198.4,435.7 L197.4,435.9 L196.4,436.2 L195.4,436.4 L194.4,436.6 L193.4,436.9 L192.4,437.1 L191.4,437.3 L190.4,437.5 L189.4,437.7 L188.4,437.8 L187.4,438 L186.4,438.2 L185.4,438.4 L184.4,438.6 L183.4,438.8 L182.4,439 L181.4,439.2 L180.4,439.4 L179.4,439.6 L178.4,439.8 L177.4,440 L176.4,440.2 L175.4,440.4 L174.4,440.6 L173.4,440.8 L172.4,441 L171.4,441.2 L170.4,441.4 L169.4,441.6Z" fill="#ff2a2a" fill-opacity="0.52"/><polyline points="169.4,429.7 170.4,429.5 171.4,429.3 172.4,429 173.4,428.7 174.4,428.4 175.4,428.1 176.4,427.9 177.4,427.6 178.4,427.4 179.4,427.2 180.4,427 181.4,426.8 182.4,426.6 183.4,426.5 184.4,426.3 185.4,426.1 186.4,426 187.4,425.9 188.4,425.7 189.4,425.6 190.4,425.4 191.4,425.3 192.4,425.2 193.4,425.1 194.4,424.9 195.4,424.8 196.4,424.7 197.4,424.7 198.4,424.6 199.4,424.5 200.4,424.5 201.4,424.4 202.4,424.4 203.4,424.3 204.4,424.2 205.4,424 206.4,423.9 207.4,423.7 208.4,423.4 209.4,423.2 210.4,422.9 211.4,422.6 212.4,422.3 213.4,421.9 214.4,421.6 215.4,421.3 216.4,421 217.4,420.7 218.4,420.4 219.4,420.2 220.4,420 221.4,419.7 222.4,419.5 223.4,419.3 224.4,419 225.4,418.7 226.4,418.4 227.4,418 228.4,417.6 229.4,417.1 230.4,416.7 231.4,416.4 232.4,416.1 233.4,415.8 234.4,415.7 235.4,415.5 236.4,415.4 237.4,415.3 238.4,415.1 239.4,415 240.4,414.8 241.4,414.6 242.4,414.4 243.4,414.1 244.4,413.9 245.4,413.6 246.4,413.4 247.4,413.1 248.4,412.9 249.4,412.6 250.4,412.3 251.4,412 252.4,411.7 253.4,411.4 254.4,411.1 255.4,410.8 256.4,410.5 257.4,410.2 258.4,409.9 259.4,409.6 260.4,409.3 261.4,409 262.4,408.8 263.4,408.5 264.4,408.2 265.4,408 266.4,407.8 267.4,407.6 268.4,407.4 269.4,407.3 270.4,407.1 271.4,407 272.4,406.9 273.4,406.8 274.4,406.8 275.4,406.7 276.4,406.6 277.4,406.6 278.4,406.5 278.5,406.5" fill="none" stroke="#ff9090" stroke-width="0.25"/><polyline points="169.4,441.6 170.4,441.4 171.4,441.2 172.4,441 173.4,440.8 174.4,440.6 175.4,440.4 176.4,440.2 177.4,440 178.4,439.8 179.4,439.6 180.4,439.4 181.4,439.2 182.4,439 183.4,438.8 184.4,438.6 185.4,438.4 186.4,438.2 187.4,438 188.4,437.8 189.4,437.7 190.4,437.5 191.4,437.3 192.4,437.1 193.4,436.9 194.4,436.6 195.4,436.4 196.4,436.2 197.4,435.9 198.4,435.7 199.4,435.4 200.4,435.1 201.4,434.9 202.4,434.6 203.4,434.3 204.4,434.1 205.4,433.8 206.4,433.6 207.4,433.3 208.4,433.1 209.4,432.8 210.4,432.6 211.4,432.3 212.4,432 213.4,431.7 214.4,431.4 215.4,431.2 216.4,430.9 217.4,430.7 218.4,430.5 219.4,430.3 220.4,430.1 221.4,430 222.4,429.8 223.4,429.6 224.4,429.4 225.4,429.1 226.4,428.6 227.4,428.1 228.4,427.6 229.4,426.9 230.4,426.3 231.4,425.8 232.4,425.4 233.4,425 234.4,424.7 235.4,424.5 236.4,424.3 237.4,424.1 238.4,424 239.4,423.8 240.4,423.6 241.4,423.5 242.4,423.3 243.4,423.2 244.4,423 245.4,422.9 246.4,422.8 247.4,422.8 248.4,422.7 249.4,422.7 250.4,422.7 251.4,422.7 252.4,422.8 253.4,422.8 254.4,422.8 255.4,422.7 256.4,422.7 257.4,422.6 258.4,422.5 259.4,422.3 260.4,422.2 261.4,422.1 262.4,422 263.4,421.8 264.4,421.7 265.4,421.6 266.4,421.5 267.4,421.4 268.4,421.3 269.4,421.2 270.4,421.2 271.4,421.2 272.4,421.2 273.4,421.2 274.4,421.2 275.4,421.2 276.4,421.2 277.4,421.3 278.4,421.3 278.5,421.3" fill="none" stroke="#ff9090" stroke-width="0.25"/><polyline points="169.4,435.6 170.4,435.5 171.4,435.3 172.4,435 173.4,434.8 174.4,434.5 175.4,434.3 176.4,434 177.4,433.8 178.4,433.6 179.4,433.4 180.4,433.2 181.4,433 182.4,432.8 183.4,432.6 184.4,432.5 185.4,432.3 186.4,432.1 187.4,431.9 188.4,431.8 189.4,431.6 190.4,431.5 191.4,431.3 192.4,431.1 193.4,431 194.4,430.8 195.4,430.6 196.4,430.5 197.4,430.3 198.4,430.1 199.4,430 200.4,429.8 201.4,429.6 202.4,429.5 203.4,429.3 204.4,429.1 205.4,428.9 206.4,428.7 207.4,428.5 208.4,428.3 209.4,428 210.4,427.7 211.4,427.4 212.4,427.1 213.4,426.8 214.4,426.5 215.4,426.2 216.4,425.9 217.4,425.7 218.4,425.4 219.4,425.2 220.4,425 221.4,424.8 222.4,424.7 223.4,424.4 224.4,424.2 225.4,423.9 226.4,423.5 227.4,423.1 228.4,422.6 229.4,422 230.4,421.5 231.4,421.1 232.4,420.7 233.4,420.4 234.4,420.2 235.4,420 236.4,419.8 237.4,419.7 238.4,419.6 239.4,419.4 240.4,419.2 241.4,419 242.4,418.9 243.4,418.7 244.4,418.5 245.4,418.3 246.4,418.1 247.4,417.9 248.4,417.8 249.4,417.6 250.4,417.5 251.4,417.4 252.4,417.2 253.4,417.1 254.4,417 255.4,416.8 256.4,416.6 257.4,416.4 258.4,416.2 259.4,416 260.4,415.8 261.4,415.6 262.4,415.4 263.4,415.2 264.4,415 265.4,414.8 266.4,414.6 267.4,414.5 268.4,414.3 269.4,414.2 270.4,414.2 271.4,414.1 272.4,414.1 273.4,414 274.4,414 275.4,414 276.4,413.9 277.4,413.9 278.4,413.9 278.5,413.9" fill="none" stroke="#f52525" stroke-width="0.75"/>
</g>
<rect x="169.4" y="383.1" width="109.1" height="80.6" fill="none" stroke="#828282" stroke-width="1.0"/>
<line x1="168.1" y1="389.4" x2="169.4" y2="389.4" stroke="#828282" stroke-width="0.7"/>
<text transform="translate(166.60,390.50) scale(0.9,1)" font-size="3.33" text-anchor="end" font-weight="normal" style="font-family:'Liberation Serif',serif" fill="#222" stroke="#222" stroke-width="0.2" >0</text>
<line x1="168.1" y1="426.3" x2="169.4" y2="426.3" stroke="#828282" stroke-width="0.7"/>
<text transform="translate(166.60,427.40) scale(0.9,1)" font-size="3.33" text-anchor="end" font-weight="normal" style="font-family:'Liberation Serif',serif" fill="#222" stroke="#222" stroke-width="0.2" >-20</text>
<line x1="168.1" y1="463.2" x2="169.4" y2="463.2" stroke="#828282" stroke-width="0.7"/>
<text transform="translate(166.60,464.30) scale(0.9,1)" font-size="3.33" text-anchor="end" font-weight="normal" style="font-family:'Liberation Serif',serif" fill="#222" stroke="#222" stroke-width="0.2" >-40</text>
<line x1="169.4" y1="463.7" x2="169.4" y2="465.2" stroke="#828282" stroke-width="0.6"/>
<text transform="translate(169.40,469.90) scale(0.9,1)" font-size="3.50" text-anchor="middle" font-weight="normal" style="font-family:'Liberation Serif',serif" fill="#222" stroke="#222" stroke-width="0.22" >0</text>
<line x1="180.3" y1="463.7" x2="180.3" y2="464.6" stroke="#828282" stroke-width="0.5"/>
<line x1="191.2" y1="463.7" x2="191.2" y2="465.2" stroke="#828282" stroke-width="0.6"/>
<text transform="translate(191.22,469.90) scale(0.9,1)" font-size="3.50" text-anchor="middle" font-weight="normal" style="font-family:'Liberation Serif',serif" fill="#222" stroke="#222" stroke-width="0.22" >20</text>
<line x1="202.1" y1="463.7" x2="202.1" y2="464.6" stroke="#828282" stroke-width="0.5"/>
<line x1="213" y1="463.7" x2="213" y2="465.2" stroke="#828282" stroke-width="0.6"/>
<text transform="translate(213.04,469.90) scale(0.9,1)" font-size="3.50" text-anchor="middle" font-weight="normal" style="font-family:'Liberation Serif',serif" fill="#222" stroke="#222" stroke-width="0.22" >40</text>
<line x1="224" y1="463.7" x2="224" y2="464.6" stroke="#828282" stroke-width="0.5"/>
<line x1="234.9" y1="463.7" x2="234.9" y2="465.2" stroke="#828282" stroke-width="0.6"/>
<text transform="translate(234.86,469.90) scale(0.9,1)" font-size="3.50" text-anchor="middle" font-weight="normal" style="font-family:'Liberation Serif',serif" fill="#222" stroke="#222" stroke-width="0.22" >60</text>
<line x1="245.8" y1="463.7" x2="245.8" y2="464.6" stroke="#828282" stroke-width="0.5"/>
<line x1="256.7" y1="463.7" x2="256.7" y2="465.2" stroke="#828282" stroke-width="0.6"/>
<text transform="translate(256.68,469.90) scale(0.9,1)" font-size="3.50" text-anchor="middle" font-weight="normal" style="font-family:'Liberation Serif',serif" fill="#222" stroke="#222" stroke-width="0.22" >80</text>
<line x1="267.6" y1="463.7" x2="267.6" y2="464.6" stroke="#828282" stroke-width="0.5"/>
<line x1="278.5" y1="463.7" x2="278.5" y2="465.2" stroke="#828282" stroke-width="0.6"/>
<text transform="translate(278.50,469.90) scale(0.9,1)" font-size="3.50" text-anchor="middle" font-weight="normal" style="font-family:'Liberation Serif',serif" fill="#222" stroke="#222" stroke-width="0.22" >100</text>
<text transform="translate(221.45,477.00) scale(0.86,1)" font-size="5.29" text-anchor="middle" font-weight="normal" style="font-family:'Liberation Serif',serif" fill="#111" stroke="#111" stroke-width="0.1" >Percentage of Backward Phase(%)</text>
<text transform="translate(222.95,378.90) scale(0.86,1)" font-size="5.70" text-anchor="middle" font-weight="bold" style="font-family:'Liberation Serif',serif" fill="#000" stroke="#000" stroke-width="0.1" >Hip Angle</text>
<text x="0" y="0" font-size="6.88" font-weight="bold" text-anchor="middle" style="font-family:'Liberation Serif',serif" fill="#000" stroke="#000" stroke-width="0.25" transform="translate(158.4,424) rotate(-90) scale(1,0.88)">In the frontal plane(°)</text>
<text x="175" y="398.6" font-size="11.4" text-anchor="start" font-weight="bold" style="font-family:'Liberation Sans',sans-serif" fill="#000" >H</text>
<line x1="260" y1="389.7" x2="266.9" y2="389.7" stroke="#7a7a7a" stroke-width="0.9"/>
<text transform="translate(268.90,391.10) scale(0.9,1)" font-size="3.90" text-anchor="start" font-weight="bold" style="font-family:'Liberation Serif',serif" fill="#000" stroke="#000" stroke-width="0.15" >MA</text>
<line x1="260" y1="394.5" x2="266.9" y2="394.5" stroke="#ff5c5c" stroke-width="0.9"/>
<text transform="translate(268.90,395.90) scale(0.9,1)" font-size="3.90" text-anchor="start" font-weight="bold" style="font-family:'Liberation Serif',serif" fill="#000" stroke="#000" stroke-width="0.15" >FA</text>
<text transform="translate(253.10,441.50) scale(0.9,1)" font-size="4.33" text-anchor="start" font-weight="normal" style="font-family:'Liberation Serif',serif" fill="#333" stroke="#333" stroke-width="0.05" >P=0.008</text>
<rect x="337.7" y="383.6" width="37.9" height="80.8" fill="#ececec"/>
<line x1="337.7" y1="383.6" x2="337.7" y2="464.4" stroke="#b4b4b4" stroke-width="0.6" stroke-dasharray="0.7,1.4"/>
<line x1="375.6" y1="383.6" x2="375.6" y2="464.4" stroke="#b4b4b4" stroke-width="0.6" stroke-dasharray="0.7,1.4"/>
<g clip-path="url(#cI)">
<path d="M316.4,427.4 L317.4,427.3 L318.4,427.3 L319.4,427.2 L320.4,427.1 L321.4,427 L322.4,426.9 L323.4,426.8 L324.4,426.7 L325.4,426.6 L326.4,426.5 L327.4,426.3 L328.4,426.2 L329.4,426 L330.4,425.8 L331.4,425.6 L332.4,425.3 L333.4,425.1 L334.4,424.8 L335.4,424.6 L336.4,424.3 L337.4,424 L338.4,423.7 L339.4,423.4 L340.4,423.1 L341.4,422.7 L342.4,422.4 L343.4,422 L344.4,421.6 L345.4,421.3 L346.4,420.9 L347.4,420.6 L348.4,420.2 L349.4,419.9 L350.4,419.5 L351.4,419.2 L352.4,418.9 L353.4,418.7 L354.4,418.5 L355.4,418.4 L356.4,418.2 L357.4,418.1 L358.4,418 L359.4,417.9 L360.4,417.9 L361.4,417.9 L362.4,417.9 L363.4,418 L364.4,418 L365.4,418 L366.4,418 L367.4,418 L368.4,417.9 L369.4,417.9 L370.4,417.8 L371.4,417.7 L372.4,417.6 L373.4,417.5 L374.4,417.4 L375.4,417.3 L376.4,417.1 L377.4,416.9 L378.4,416.6 L379.4,416.3 L380.4,415.9 L381.4,415.6 L382.4,415.2 L383.4,414.8 L384.4,414.4 L385.4,414 L386.4,413.6 L387.4,413.2 L388.4,412.8 L389.4,412.4 L390.4,412 L391.4,411.6 L392.4,411.2 L393.4,410.8 L394.4,410.4 L395.4,409.9 L396.4,409.5 L397.4,409.1 L398.4,408.7 L399.4,408.3 L400.4,408 L401.4,407.6 L402.4,407.2 L403.4,406.9 L404.4,406.5 L405.4,406.2 L406.4,406 L407.4,405.7 L408.4,405.4 L409.4,405.1 L410.4,404.7 L411.4,404.3 L412.4,403.9 L413.4,403.4 L414.4,403 L415.4,402.6 L416.4,402.2 L417.4,401.9 L418.4,401.7 L419.4,401.4 L420.4,401.2 L421.4,401 L422.4,400.8 L423.4,400.7 L424.4,400.6 L425.4,400.5 L425.4,406 L424.4,406 L423.4,406 L422.4,406.1 L421.4,406.2 L420.4,406.3 L419.4,406.5 L418.4,406.7 L417.4,406.9 L416.4,407.2 L415.4,407.5 L414.4,407.9 L413.4,408.4 L412.4,408.8 L411.4,409.2 L410.4,409.7 L409.4,410.1 L408.4,410.5 L407.4,410.9 L406.4,411.2 L405.4,411.6 L404.4,412 L403.4,412.4 L402.4,412.8 L401.4,413.2 L400.4,413.6 L399.4,413.9 L398.4,414.3 L397.4,414.7 L396.4,415.1 L395.4,415.5 L394.4,416 L393.4,416.4 L392.4,416.8 L391.4,417.2 L390.4,417.6 L389.4,418 L388.4,418.4 L387.4,418.7 L386.4,419.1 L385.4,419.4 L384.4,419.7 L383.4,420 L382.4,420.3 L381.4,420.6 L380.4,420.9 L379.4,421.2 L378.4,421.5 L377.4,421.8 L376.4,422 L375.4,422.2 L374.4,422.3 L373.4,422.3 L372.4,422.3 L371.4,422.3 L370.4,422.2 L369.4,422.2 L368.4,422.2 L367.4,422.1 L366.4,422.1 L365.4,422.2 L364.4,422.2 L363.4,422.3 L362.4,422.4 L361.4,422.5 L360.4,422.5 L359.4,422.6 L358.4,422.7 L357.4,422.8 L356.4,422.9 L355.4,423.1 L354.4,423.2 L353.4,423.4 L352.4,423.7 L351.4,423.9 L350.4,424.2 L349.4,424.6 L348.4,424.9 L347.4,425.3 L346.4,425.6 L345.4,426 L344.4,426.3 L343.4,426.7 L342.4,427 L341.4,427.3 L340.4,427.7 L339.4,428 L338.4,428.2 L337.4,428.5 L336.4,428.7 L335.4,429 L334.4,429.2 L333.4,429.4 L332.4,429.6 L331.4,429.8 L330.4,429.9 L329.4,430.1 L328.4,430.2 L327.4,430.4 L326.4,430.5 L325.4,430.6 L324.4,430.8 L323.4,430.9 L322.4,431 L321.4,431.1 L320.4,431.2 L319.4,431.2 L318.4,431.3 L317.4,431.3 L316.4,431.4Z" fill="#808080" fill-opacity="0.6"/><polyline points="316.4,427.4 317.4,427.3 318.4,427.3 319.4,427.2 320.4,427.1 321.4,427 322.4,426.9 323.4,426.8 324.4,426.7 325.4,426.6 326.4,426.5 327.4,426.3 328.4,426.2 329.4,426 330.4,425.8 331.4,425.6 332.4,425.3 333.4,425.1 334.4,424.8 335.4,424.6 336.4,424.3 337.4,424 338.4,423.7 339.4,423.4 340.4,423.1 341.4,422.7 342.4,422.4 343.4,422 344.4,421.6 345.4,421.3 346.4,420.9 347.4,420.6 348.4,420.2 349.4,419.9 350.4,419.5 351.4,419.2 352.4,418.9 353.4,418.7 354.4,418.5 355.4,418.4 356.4,418.2 357.4,418.1 358.4,418 359.4,417.9 360.4,417.9 361.4,417.9 362.4,417.9 363.4,418 364.4,418 365.4,418 366.4,418 367.4,418 368.4,417.9 369.4,417.9 370.4,417.8 371.4,417.7 372.4,417.6 373.4,417.5 374.4,417.4 375.4,417.3 376.4,417.1 377.4,416.9 378.4,416.6 379.4,416.3 380.4,415.9 381.4,415.6 382.4,415.2 383.4,414.8 384.4,414.4 385.4,414 386.4,413.6 387.4,413.2 388.4,412.8 389.4,412.4 390.4,412 391.4,411.6 392.4,411.2 393.4,410.8 394.4,410.4 395.4,409.9 396.4,409.5 397.4,409.1 398.4,408.7 399.4,408.3 400.4,408 401.4,407.6 402.4,407.2 403.4,406.9 404.4,406.5 405.4,406.2 406.4,406 407.4,405.7 408.4,405.4 409.4,405.1 410.4,404.7 411.4,404.3 412.4,403.9 413.4,403.4 414.4,403 415.4,402.6 416.4,402.2 417.4,401.9 418.4,401.7 419.4,401.4 420.4,401.2 421.4,401 422.4,400.8 423.4,400.7 424.4,400.6 425.4,400.5" fill="none" stroke="#8a8a8a" stroke-width="0.3"/><polyline points="316.4,431.4 317.4,431.3 318.4,431.3 319.4,431.2 320.4,431.2 321.4,431.1 322.4,431 323.4,430.9 324.4,430.8 325.4,430.6 326.4,430.5 327.4,430.4 328.4,430.2 329.4,430.1 330.4,429.9 331.4,429.8 332.4,429.6 333.4,429.4 334.4,429.2 335.4,429 336.4,428.7 337.4,428.5 338.4,428.2 339.4,428 340.4,427.7 341.4,427.3 342.4,427 343.4,426.7 344.4,426.3 345.4,426 346.4,425.6 347.4,425.3 348.4,424.9 349.4,424.6 350.4,424.2 351.4,423.9 352.4,423.7 353.4,423.4 354.4,423.2 355.4,423.1 356.4,422.9 357.4,422.8 358.4,422.7 359.4,422.6 360.4,422.5 361.4,422.5 362.4,422.4 363.4,422.3 364.4,422.2 365.4,422.2 366.4,422.1 367.4,422.1 368.4,422.2 369.4,422.2 370.4,422.2 371.4,422.3 372.4,422.3 373.4,422.3 374.4,422.3 375.4,422.2 376.4,422 377.4,421.8 378.4,421.5 379.4,421.2 380.4,420.9 381.4,420.6 382.4,420.3 383.4,420 384.4,419.7 385.4,419.4 386.4,419.1 387.4,418.7 388.4,418.4 389.4,418 390.4,417.6 391.4,417.2 392.4,416.8 393.4,416.4 394.4,416 395.4,415.5 396.4,415.1 397.4,414.7 398.4,414.3 399.4,413.9 400.4,413.6 401.4,413.2 402.4,412.8 403.4,412.4 404.4,412 405.4,411.6 406.4,411.2 407.4,410.9 408.4,410.5 409.4,410.1 410.4,409.7 411.4,409.2 412.4,408.8 413.4,408.4 414.4,407.9 415.4,407.5 416.4,407.2 417.4,406.9 418.4,406.7 419.4,406.5 420.4,406.3 421.4,406.2 422.4,406.1 423.4,406 424.4,406 425.4,406" fill="none" stroke="#8a8a8a" stroke-width="0.3"/><polyline points="316.4,429.4 317.4,429.3 318.4,429.3 319.4,429.2 320.4,429.1 321.4,429.1 322.4,429 323.4,428.9 324.4,428.7 325.4,428.6 326.4,428.5 327.4,428.4 328.4,428.2 329.4,428 330.4,427.8 331.4,427.7 332.4,427.4 333.4,427.2 334.4,427 335.4,426.8 336.4,426.5 337.4,426.3 338.4,426 339.4,425.7 340.4,425.4 341.4,425 342.4,424.7 343.4,424.3 344.4,424 345.4,423.6 346.4,423.3 347.4,422.9 348.4,422.6 349.4,422.2 350.4,421.9 351.4,421.6 352.4,421.3 353.4,421.1 354.4,420.9 355.4,420.7 356.4,420.6 357.4,420.5 358.4,420.4 359.4,420.3 360.4,420.2 361.4,420.2 362.4,420.2 363.4,420.1 364.4,420.1 365.4,420.1 366.4,420.1 367.4,420.1 368.4,420 369.4,420 370.4,420 371.4,420 372.4,419.9 373.4,419.9 374.4,419.8 375.4,419.7 376.4,419.6 377.4,419.4 378.4,419.1 379.4,418.8 380.4,418.4 381.4,418.1 382.4,417.7 383.4,417.4 384.4,417 385.4,416.7 386.4,416.3 387.4,416 388.4,415.6 389.4,415.2 390.4,414.8 391.4,414.4 392.4,414 393.4,413.6 394.4,413.2 395.4,412.7 396.4,412.3 397.4,411.9 398.4,411.5 399.4,411.1 400.4,410.8 401.4,410.4 402.4,410 403.4,409.6 404.4,409.3 405.4,408.9 406.4,408.6 407.4,408.3 408.4,407.9 409.4,407.6 410.4,407.2 411.4,406.8 412.4,406.3 413.4,405.9 414.4,405.5 415.4,405.1 416.4,404.7 417.4,404.4 418.4,404.2 419.4,404 420.4,403.8 421.4,403.6 422.4,403.5 423.4,403.4 424.4,403.3 425.4,403.2" fill="none" stroke="#555555" stroke-width="0.55"/>
<path d="M316.4,427.4 L317.4,427.4 L318.4,427.5 L319.4,427.6 L320.4,427.6 L321.4,427.7 L322.4,427.8 L323.4,427.9 L324.4,428 L325.4,428.1 L326.4,428.1 L327.4,428.2 L328.4,428.3 L329.4,428.4 L330.4,428.5 L331.4,428.6 L332.4,428.6 L333.4,428.7 L334.4,428.8 L335.4,428.9 L336.4,429 L337.4,429.1 L338.4,429.2 L339.4,429.3 L340.4,429.5 L341.4,429.7 L342.4,429.8 L343.4,430 L344.4,430.1 L345.4,430.3 L346.4,430.4 L347.4,430.5 L348.4,430.6 L349.4,430.8 L350.4,430.9 L351.4,431 L352.4,431.1 L353.4,431.1 L354.4,431.1 L355.4,431 L356.4,430.9 L357.4,430.7 L358.4,430.5 L359.4,430.2 L360.4,429.9 L361.4,429.6 L362.4,429.3 L363.4,428.8 L364.4,428.4 L365.4,427.8 L366.4,427.3 L367.4,426.6 L368.4,425.8 L369.4,425 L370.4,424.1 L371.4,423.1 L372.4,422.1 L373.4,421.2 L374.4,420.4 L375.4,419.7 L376.4,419.1 L377.4,418.6 L378.4,418.1 L379.4,417.6 L380.4,417.1 L381.4,416.6 L382.4,416.1 L383.4,415.5 L384.4,415 L385.4,414.4 L386.4,413.8 L387.4,413.3 L388.4,412.7 L389.4,412.2 L390.4,411.7 L391.4,411.1 L392.4,410.6 L393.4,410.1 L394.4,409.6 L395.4,409.2 L396.4,408.7 L397.4,408.3 L398.4,407.9 L399.4,407.5 L400.4,407.1 L401.4,406.7 L402.4,406.3 L403.4,405.9 L404.4,405.5 L405.4,405.2 L406.4,404.8 L407.4,404.4 L408.4,404 L409.4,403.6 L410.4,403.2 L411.4,402.7 L412.4,402.2 L413.4,401.8 L414.4,401.3 L415.4,400.8 L416.4,400.4 L417.4,400 L418.4,399.6 L419.4,399.3 L420.4,398.9 L421.4,398.6 L422.4,398.2 L423.4,397.9 L424.4,397.7 L425.4,397.5 L425.4,411.3 L424.4,411.2 L423.4,411.2 L422.4,411.2 L421.4,411.3 L420.4,411.3 L419.4,411.5 L418.4,411.6 L417.4,411.8 L416.4,412 L415.4,412.3 L414.4,412.6 L413.4,413 L412.4,413.4 L411.4,413.8 L410.4,414.3 L409.4,414.8 L408.4,415.3 L407.4,415.9 L406.4,416.5 L405.4,417.1 L404.4,417.7 L403.4,418.4 L402.4,419 L401.4,419.6 L400.4,420.2 L399.4,420.7 L398.4,421.3 L397.4,421.9 L396.4,422.6 L395.4,423.2 L394.4,423.9 L393.4,424.6 L392.4,425.3 L391.4,426 L390.4,426.7 L389.4,427.4 L388.4,428.1 L387.4,428.7 L386.4,429.4 L385.4,430 L384.4,430.7 L383.4,431.3 L382.4,431.9 L381.4,432.6 L380.4,433.2 L379.4,433.9 L378.4,434.6 L377.4,435.2 L376.4,435.8 L375.4,436.3 L374.4,436.7 L373.4,437 L372.4,437.1 L371.4,437.2 L370.4,437.2 L369.4,437.2 L368.4,437.2 L367.4,437.2 L366.4,437.3 L365.4,437.4 L364.4,437.4 L363.4,437.5 L362.4,437.5 L361.4,437.6 L360.4,437.6 L359.4,437.6 L358.4,437.5 L357.4,437.5 L356.4,437.5 L355.4,437.4 L354.4,437.4 L353.4,437.4 L352.4,437.3 L351.4,437.2 L350.4,437.2 L349.4,437.1 L348.4,437 L347.4,436.9 L346.4,436.8 L345.4,436.8 L344.4,436.9 L343.4,436.9 L342.4,437 L341.4,437.1 L340.4,437.2 L339.4,437.3 L338.4,437.4 L337.4,437.5 L336.4,437.6 L335.4,437.7 L334.4,437.8 L333.4,437.9 L332.4,438 L331.4,438 L330.4,438.1 L329.4,438.2 L328.4,438.3 L327.4,438.4 L326.4,438.5 L325.4,438.5 L324.4,438.6 L323.4,438.7 L322.4,438.8 L321.4,438.9 L320.4,439 L319.4,439 L318.4,439.1 L317.4,439.2 L316.4,439.2Z" fill="#ff2a2a" fill-opacity="0.52"/><polyline points="316.4,427.4 317.4,427.4 318.4,427.5 319.4,427.6 320.4,427.6 321.4,427.7 322.4,427.8 323.4,427.9 324.4,428 325.4,428.1 326.4,428.1 327.4,428.2 328.4,428.3 329.4,428.4 330.4,428.5 331.4,428.6 332.4,428.6 333.4,428.7 334.4,428.8 335.4,428.9 336.4,429 337.4,429.1 338.4,429.2 339.4,429.3 340.4,429.5 341.4,429.7 342.4,429.8 343.4,430 344.4,430.1 345.4,430.3 346.4,430.4 347.4,430.5 348.4,430.6 349.4,430.8 350.4,430.9 351.4,431 352.4,431.1 353.4,431.1 354.4,431.1 355.4,431 356.4,430.9 357.4,430.7 358.4,430.5 359.4,430.2 360.4,429.9 361.4,429.6 362.4,429.3 363.4,428.8 364.4,428.4 365.4,427.8 366.4,427.3 367.4,426.6 368.4,425.8 369.4,425 370.4,424.1 371.4,423.1 372.4,422.1 373.4,421.2 374.4,420.4 375.4,419.7 376.4,419.1 377.4,418.6 378.4,418.1 379.4,417.6 380.4,417.1 381.4,416.6 382.4,416.1 383.4,415.5 384.4,415 385.4,414.4 386.4,413.8 387.4,413.3 388.4,412.7 389.4,412.2 390.4,411.7 391.4,411.1 392.4,410.6 393.4,410.1 394.4,409.6 395.4,409.2 396.4,408.7 397.4,408.3 398.4,407.9 399.4,407.5 400.4,407.1 401.4,406.7 402.4,406.3 403.4,405.9 404.4,405.5 405.4,405.2 406.4,404.8 407.4,404.4 408.4,404 409.4,403.6 410.4,403.2 411.4,402.7 412.4,402.2 413.4,401.8 414.4,401.3 415.4,400.8 416.4,400.4 417.4,400 418.4,399.6 419.4,399.3 420.4,398.9 421.4,398.6 422.4,398.2 423.4,397.9 424.4,397.7 425.4,397.5" fill="none" stroke="#ff9090" stroke-width="0.25"/><polyline points="316.4,439.2 317.4,439.2 318.4,439.1 319.4,439 320.4,439 321.4,438.9 322.4,438.8 323.4,438.7 324.4,438.6 325.4,438.5 326.4,438.5 327.4,438.4 328.4,438.3 329.4,438.2 330.4,438.1 331.4,438 332.4,438 333.4,437.9 334.4,437.8 335.4,437.7 336.4,437.6 337.4,437.5 338.4,437.4 339.4,437.3 340.4,437.2 341.4,437.1 342.4,437 343.4,436.9 344.4,436.9 345.4,436.8 346.4,436.8 347.4,436.9 348.4,437 349.4,437.1 350.4,437.2 351.4,437.2 352.4,437.3 353.4,437.4 354.4,437.4 355.4,437.4 356.4,437.5 357.4,437.5 358.4,437.5 359.4,437.6 360.4,437.6 361.4,437.6 362.4,437.5 363.4,437.5 364.4,437.4 365.4,437.4 366.4,437.3 367.4,437.2 368.4,437.2 369.4,437.2 370.4,437.2 371.4,437.2 372.4,437.1 373.4,437 374.4,436.7 375.4,436.3 376.4,435.8 377.4,435.2 378.4,434.6 379.4,433.9 380.4,433.2 381.4,432.6 382.4,431.9 383.4,431.3 384.4,430.7 385.4,430 386.4,429.4 387.4,428.7 388.4,428.1 389.4,427.4 390.4,426.7 391.4,426 392.4,425.3 393.4,424.6 394.4,423.9 395.4,423.2 396.4,422.6 397.4,421.9 398.4,421.3 399.4,420.7 400.4,420.2 401.4,419.6 402.4,419 403.4,418.4 404.4,417.7 405.4,417.1 406.4,416.5 407.4,415.9 408.4,415.3 409.4,414.8 410.4,414.3 411.4,413.8 412.4,413.4 413.4,413 414.4,412.6 415.4,412.3 416.4,412 417.4,411.8 418.4,411.6 419.4,411.5 420.4,411.3 421.4,411.3 422.4,411.2 423.4,411.2 424.4,411.2 425.4,411.3" fill="none" stroke="#ff9090" stroke-width="0.25"/><polyline points="316.4,433.3 317.4,433.3 318.4,433.3 319.4,433.3 320.4,433.3 321.4,433.3 322.4,433.3 323.4,433.3 324.4,433.3 325.4,433.3 326.4,433.3 327.4,433.3 328.4,433.3 329.4,433.3 330.4,433.3 331.4,433.3 332.4,433.3 333.4,433.3 334.4,433.3 335.4,433.3 336.4,433.3 337.4,433.3 338.4,433.3 339.4,433.3 340.4,433.3 341.4,433.4 342.4,433.4 343.4,433.5 344.4,433.5 345.4,433.5 346.4,433.6 347.4,433.7 348.4,433.8 349.4,433.9 350.4,434 351.4,434.1 352.4,434.2 353.4,434.2 354.4,434.2 355.4,434.2 356.4,434.2 357.4,434.1 358.4,434 359.4,433.9 360.4,433.8 361.4,433.6 362.4,433.4 363.4,433.2 364.4,432.9 365.4,432.6 366.4,432.3 367.4,431.9 368.4,431.5 369.4,431.1 370.4,430.6 371.4,430.1 372.4,429.6 373.4,429.1 374.4,428.6 375.4,428 376.4,427.5 377.4,426.9 378.4,426.3 379.4,425.8 380.4,425.2 381.4,424.6 382.4,424 383.4,423.4 384.4,422.8 385.4,422.2 386.4,421.6 387.4,421 388.4,420.4 389.4,419.8 390.4,419.2 391.4,418.6 392.4,417.9 393.4,417.3 394.4,416.8 395.4,416.2 396.4,415.6 397.4,415.1 398.4,414.6 399.4,414.1 400.4,413.6 401.4,413.1 402.4,412.6 403.4,412.1 404.4,411.6 405.4,411.1 406.4,410.6 407.4,410.1 408.4,409.7 409.4,409.2 410.4,408.7 411.4,408.3 412.4,407.8 413.4,407.4 414.4,407 415.4,406.6 416.4,406.2 417.4,405.9 418.4,405.6 419.4,405.4 420.4,405.1 421.4,404.9 422.4,404.7 423.4,404.6 424.4,404.5 425.4,404.4" fill="none" stroke="#f52525" stroke-width="0.75"/>
</g>
<rect x="316.4" y="383.6" width="109" height="80.8" fill="none" stroke="#828282" stroke-width="1.0"/>
<line x1="315.1" y1="397.1" x2="316.4" y2="397.1" stroke="#828282" stroke-width="0.7"/>
<text transform="translate(313.60,398.20) scale(0.9,1)" font-size="3.33" text-anchor="end" font-weight="normal" style="font-family:'Liberation Serif',serif" fill="#222" stroke="#222" stroke-width="0.2" >20</text>
<line x1="315.1" y1="423.9" x2="316.4" y2="423.9" stroke="#828282" stroke-width="0.7"/>
<text transform="translate(313.60,425.00) scale(0.9,1)" font-size="3.33" text-anchor="end" font-weight="normal" style="font-family:'Liberation Serif',serif" fill="#222" stroke="#222" stroke-width="0.2" >0</text>
<line x1="315.1" y1="450.8" x2="316.4" y2="450.8" stroke="#828282" stroke-width="0.7"/>
<text transform="translate(313.60,451.90) scale(0.9,1)" font-size="3.33" text-anchor="end" font-weight="normal" style="font-family:'Liberation Serif',serif" fill="#222" stroke="#222" stroke-width="0.2" >-20</text>
<line x1="316.4" y1="464.4" x2="316.4" y2="465.9" stroke="#828282" stroke-width="0.6"/>
<text transform="translate(316.40,470.60) scale(0.9,1)" font-size="3.50" text-anchor="middle" font-weight="normal" style="font-family:'Liberation Serif',serif" fill="#222" stroke="#222" stroke-width="0.22" >0</text>
<line x1="327.3" y1="464.4" x2="327.3" y2="465.3" stroke="#828282" stroke-width="0.5"/>
<line x1="338.2" y1="464.4" x2="338.2" y2="465.9" stroke="#828282" stroke-width="0.6"/>
<text transform="translate(338.20,470.60) scale(0.9,1)" font-size="3.50" text-anchor="middle" font-weight="normal" style="font-family:'Liberation Serif',serif" fill="#222" stroke="#222" stroke-width="0.22" >20</text>
<line x1="349.1" y1="464.4" x2="349.1" y2="465.3" stroke="#828282" stroke-width="0.5"/>
<line x1="360" y1="464.4" x2="360" y2="465.9" stroke="#828282" stroke-width="0.6"/>
<text transform="translate(360.00,470.60) scale(0.9,1)" font-size="3.50" text-anchor="middle" font-weight="normal" style="font-family:'Liberation Serif',serif" fill="#222" stroke="#222" stroke-width="0.22" >40</text>
<line x1="370.9" y1="464.4" x2="370.9" y2="465.3" stroke="#828282" stroke-width="0.5"/>
<line x1="381.8" y1="464.4" x2="381.8" y2="465.9" stroke="#828282" stroke-width="0.6"/>
<text transform="translate(381.80,470.60) scale(0.9,1)" font-size="3.50" text-anchor="middle" font-weight="normal" style="font-family:'Liberation Serif',serif" fill="#222" stroke="#222" stroke-width="0.22" >60</text>
<line x1="392.7" y1="464.4" x2="392.7" y2="465.3" stroke="#828282" stroke-width="0.5"/>
<line x1="403.6" y1="464.4" x2="403.6" y2="465.9" stroke="#828282" stroke-width="0.6"/>
<text transform="translate(403.60,470.60) scale(0.9,1)" font-size="3.50" text-anchor="middle" font-weight="normal" style="font-family:'Liberation Serif',serif" fill="#222" stroke="#222" stroke-width="0.22" >80</text>
<line x1="414.5" y1="464.4" x2="414.5" y2="465.3" stroke="#828282" stroke-width="0.5"/>
<line x1="425.4" y1="464.4" x2="425.4" y2="465.9" stroke="#828282" stroke-width="0.6"/>
<text transform="translate(425.40,470.60) scale(0.9,1)" font-size="3.50" text-anchor="middle" font-weight="normal" style="font-family:'Liberation Serif',serif" fill="#222" stroke="#222" stroke-width="0.22" >100</text>
<text transform="translate(368.40,477.70) scale(0.86,1)" font-size="5.29" text-anchor="middle" font-weight="normal" style="font-family:'Liberation Serif',serif" fill="#111" stroke="#111" stroke-width="0.1" >Percentage of Backward Phase(%)</text>
<text transform="translate(370.20,379.40) scale(0.86,1)" font-size="5.70" text-anchor="middle" font-weight="bold" style="font-family:'Liberation Serif',serif" fill="#000" stroke="#000" stroke-width="0.1" >Hip Angle</text>
<text x="0" y="0" font-size="6.88" font-weight="bold" text-anchor="middle" style="font-family:'Liberation Serif',serif" fill="#000" stroke="#000" stroke-width="0.25" transform="translate(306.1,424.6) rotate(-90) scale(1,0.88)">In the transverse plane(°)</text>
<text transform="translate(323.60,398.10) scale(0.86,1)" font-size="11.80" text-anchor="start" font-weight="bold" style="font-family:'Liberation Serif',serif" fill="#000" >I</text>
<line x1="407.3" y1="390.3" x2="414.2" y2="390.3" stroke="#7a7a7a" stroke-width="0.9"/>
<text transform="translate(416.20,391.70) scale(0.9,1)" font-size="3.90" text-anchor="start" font-weight="bold" style="font-family:'Liberation Serif',serif" fill="#000" stroke="#000" stroke-width="0.15" >MA</text>
<line x1="407.3" y1="395.1" x2="414.2" y2="395.1" stroke="#ff5c5c" stroke-width="0.9"/>
<text transform="translate(416.20,396.50) scale(0.9,1)" font-size="3.90" text-anchor="start" font-weight="bold" style="font-family:'Liberation Serif',serif" fill="#000" stroke="#000" stroke-width="0.15" >FA</text>
<text transform="translate(350.40,407.80) scale(0.9,1)" font-size="4.33" text-anchor="start" font-weight="normal" style="font-family:'Liberation Serif',serif" fill="#333" stroke="#333" stroke-width="0.05" >P&lt;0.001</text>
<rect x="50.1" y="121.6" width="38.9" height="45.7" fill="#ececec"/>
<line x1="50.1" y1="121.6" x2="50.1" y2="167.3" stroke="#b4b4b4" stroke-width="0.6" stroke-dasharray="0.7,1.4"/>
<line x1="89" y1="121.6" x2="89" y2="167.3" stroke="#b4b4b4" stroke-width="0.6" stroke-dasharray="0.7,1.4"/>
<rect x="105.2" y="121.6" width="8.4" height="45.7" fill="#ececec"/>
<line x1="105.2" y1="121.6" x2="105.2" y2="167.3" stroke="#b4b4b4" stroke-width="0.6" stroke-dasharray="0.7,1.4"/>
<line x1="113.6" y1="121.6" x2="113.6" y2="167.3" stroke="#b4b4b4" stroke-width="0.6" stroke-dasharray="0.7,1.4"/>
<line x1="24" y1="144.2" x2="133.6" y2="144.2" stroke="#c8c8c8" stroke-width="0.6"/>
<line x1="25" y1="140" x2="133.6" y2="140" stroke="#ff7878" stroke-width="1.3" stroke-dasharray="1.2,1.47"/>
<line x1="25" y1="148.3" x2="133.6" y2="148.3" stroke="#ff7878" stroke-width="1.3" stroke-dasharray="1.2,1.47"/>
<polyline points="24,143.8 25,143.7 26,143.5 27,143.4 28,143.2 29,143.1 30,143 31,142.9 32,142.8 33,142.8 34,142.9 35,143 36,143.2 37,143.5 38,143.8 39,144.2 40,144.5 41,144.9 42,145.3 43,145.7 44,146.1 45,146.5 46,146.8 47,147.2 48,147.6 49,147.9 50,148.4 51,148.8 52,149.3 53,149.9 54,150.4 55,151 56,151.7 57,152.4 58,153.1 59,153.8 60,154.5 61,155.2 62,156 63,156.7 64,157.3 65,157.9 66,158.5 67,159 68,159.4 69,159.7 70,159.9 71,159.9 72,159.7 73,159.4 74,159 75,158.4 76,157.8 77,157.2 78,156.5 79,155.7 80,155 81,154.2 82,153.4 83,152.6 84,151.8 85,151.1 86,150.4 87,149.8 88,149.3 89,148.7 90,148.2 91,147.7 92,147.2 93,146.7 94,146.2 95,145.7 96,145.1 97,144.5 98,143.8 99,143.1 100,142.3 101,141.5 102,140.9 103,140.4 104,140 105,139.8 106,139.6 107,139.5 108,139.4 109,139.3 110,139.3 111,139.3 112,139.4 113,139.5 114,139.7 115,139.9 116,140.2 117,140.5 118,140.8 119,141.2 120,141.7 121,142.2 122,142.7 123,143.2 124,143.5 125,143.7 126,143.9 127,144 128,144.1 129,144.1 130,144.2 131,144.2 132,144.3 133,144.3 133.6,144.3" fill="none" stroke="#555" stroke-width="0.7"/>
<rect x="24" y="121.6" width="109.6" height="45.7" fill="none" stroke="#828282" stroke-width="1.0"/>
<line x1="22.8" y1="129.2" x2="24" y2="129.2" stroke="#828282" stroke-width="0.6"/>
<text transform="translate(21.20,130.30) scale(0.9,1)" font-size="3.33" text-anchor="end" font-weight="normal" style="font-family:'Liberation Serif',serif" fill="#222" stroke="#222" stroke-width="0.2" >10</text>
<line x1="22.8" y1="144.2" x2="24" y2="144.2" stroke="#828282" stroke-width="0.6"/>
<text transform="translate(21.20,145.30) scale(0.9,1)" font-size="3.33" text-anchor="end" font-weight="normal" style="font-family:'Liberation Serif',serif" fill="#222" stroke="#222" stroke-width="0.2" >0</text>
<line x1="22.8" y1="159.3" x2="24" y2="159.3" stroke="#828282" stroke-width="0.6"/>
<text transform="translate(21.20,160.40) scale(0.9,1)" font-size="3.33" text-anchor="end" font-weight="normal" style="font-family:'Liberation Serif',serif" fill="#222" stroke="#222" stroke-width="0.2" >-10</text>
<line x1="24" y1="167.3" x2="24" y2="168.6" stroke="#828282" stroke-width="0.5"/>
<text transform="translate(24.00,173.20) scale(0.9,1)" font-size="3.67" text-anchor="middle" font-weight="bold" style="font-family:'Liberation Serif',serif" fill="#222" stroke="#222" stroke-width="0.12" >0%</text>
<line x1="35" y1="167.3" x2="35" y2="168.1" stroke="#828282" stroke-width="0.4"/>
<line x1="45.9" y1="167.3" x2="45.9" y2="168.6" stroke="#828282" stroke-width="0.5"/>
<text transform="translate(45.92,173.20) scale(0.9,1)" font-size="3.67" text-anchor="middle" font-weight="bold" style="font-family:'Liberation Serif',serif" fill="#222" stroke="#222" stroke-width="0.12" >20%</text>
<line x1="56.9" y1="167.3" x2="56.9" y2="168.1" stroke="#828282" stroke-width="0.4"/>
<line x1="67.8" y1="167.3" x2="67.8" y2="168.6" stroke="#828282" stroke-width="0.5"/>
<text transform="translate(67.84,173.20) scale(0.9,1)" font-size="3.67" text-anchor="middle" font-weight="bold" style="font-family:'Liberation Serif',serif" fill="#222" stroke="#222" stroke-width="0.12" >40%</text>
<line x1="78.8" y1="167.3" x2="78.8" y2="168.1" stroke="#828282" stroke-width="0.4"/>
<line x1="89.8" y1="167.3" x2="89.8" y2="168.6" stroke="#828282" stroke-width="0.5"/>
<text transform="translate(89.76,173.20) scale(0.9,1)" font-size="3.67" text-anchor="middle" font-weight="bold" style="font-family:'Liberation Serif',serif" fill="#222" stroke="#222" stroke-width="0.12" >60%</text>
<line x1="100.7" y1="167.3" x2="100.7" y2="168.1" stroke="#828282" stroke-width="0.4"/>
<line x1="111.7" y1="167.3" x2="111.7" y2="168.6" stroke="#828282" stroke-width="0.5"/>
<text transform="translate(111.68,173.20) scale(0.9,1)" font-size="3.67" text-anchor="middle" font-weight="bold" style="font-family:'Liberation Serif',serif" fill="#222" stroke="#222" stroke-width="0.12" >80%</text>
<line x1="122.6" y1="167.3" x2="122.6" y2="168.1" stroke="#828282" stroke-width="0.4"/>
<line x1="133.6" y1="167.3" x2="133.6" y2="168.6" stroke="#828282" stroke-width="0.5"/>
<text transform="translate(133.60,173.20) scale(0.9,1)" font-size="3.67" text-anchor="middle" font-weight="bold" style="font-family:'Liberation Serif',serif" fill="#222" stroke="#222" stroke-width="0.12" >100%</text>
<text transform="translate(80.80,177.00) scale(0.9,1)" font-size="3.22" text-anchor="middle" font-weight="bold" style="font-family:'Liberation Serif',serif" fill="#222" stroke="#222" stroke-width="0.12" >Percentage of Backward Phase (%)</text>
<text x="0" y="0" font-size="3.6" font-weight="bold" text-anchor="middle" style="font-family:'Liberation Serif',serif" fill="#222" stroke="#222" stroke-width="0.1" transform="translate(16.6,144.4) rotate(-90)">SPM{t}</text>
<text transform="translate(130.50,128.50) scale(0.9,1)" font-size="3.67" font-weight="bold" text-anchor="end" style="font-family:'Liberation Serif',serif" fill="#222" stroke="#222" stroke-width="0.06">α=0.05,  t<tspan dy="-1.6" font-size="2.4">*</tspan><tspan dy="1.6">=3.207</tspan></text>
<rect x="200.1" y="122.2" width="22.5" height="45.3" fill="#ececec"/>
<line x1="200.1" y1="122.2" x2="200.1" y2="167.5" stroke="#b4b4b4" stroke-width="0.6" stroke-dasharray="0.7,1.4"/>
<line x1="222.6" y1="122.2" x2="222.6" y2="167.5" stroke="#b4b4b4" stroke-width="0.6" stroke-dasharray="0.7,1.4"/>
<line x1="169.3" y1="144.8" x2="278.4" y2="144.8" stroke="#c8c8c8" stroke-width="0.6"/>
<line x1="170.3" y1="137.1" x2="278.4" y2="137.1" stroke="#ff7878" stroke-width="1.3" stroke-dasharray="1.2,1.47"/>
<line x1="170.3" y1="152.7" x2="278.4" y2="152.7" stroke="#ff7878" stroke-width="1.3" stroke-dasharray="1.2,1.47"/>
<polyline points="169.3,139.1 170.3,139.1 171.3,139 172.3,138.9 173.3,138.8 174.3,138.7 175.3,138.6 176.3,138.5 177.3,138.4 178.3,138.3 179.3,138.3 180.3,138.2 181.3,138.2 182.3,138.1 183.3,138.1 184.3,138.1 185.3,138.1 186.3,138 187.3,138 188.3,138 189.3,138 190.3,138 191.3,137.9 192.3,137.9 193.3,137.8 194.3,137.8 195.3,137.7 196.3,137.5 197.3,137.4 198.3,137.1 199.3,136.9 200.3,136.7 201.3,136.5 202.3,136.2 203.3,136 204.3,135.8 205.3,135.5 206.3,135.3 207.3,135.1 208.3,134.9 209.3,134.7 210.3,134.6 211.3,134.5 212.3,134.5 213.3,134.5 214.3,134.6 215.3,134.7 216.3,134.8 217.3,135 218.3,135.3 219.3,135.5 220.3,135.9 221.3,136.2 222.3,136.7 223.3,137.2 224.3,137.7 225.3,138.3 226.3,138.9 227.3,139.6 228.3,140.3 229.3,141 230.3,141.7 231.3,142.5 232.3,143.4 233.3,144.2 234.3,145 235.3,145.8 236.3,146.5 237.3,147.2 238.3,147.8 239.3,148.4 240.3,149.1 241.3,149.7 242.3,150.2 243.3,150.7 244.3,151.1 245.3,151.3 246.3,151.5 247.3,151.5 248.3,151.4 249.3,151.2 250.3,150.9 251.3,150.6 252.3,150.2 253.3,149.7 254.3,149.3 255.3,148.8 256.3,148.3 257.3,147.7 258.3,147.1 259.3,146.4 260.3,145.8 261.3,145.1 262.3,144.5 263.3,143.9 264.3,143.4 265.3,142.9 266.3,142.5 267.3,142.2 268.3,141.8 269.3,141.5 270.3,141.1 271.3,140.8 272.3,140.6 273.3,140.3 274.3,140.1 275.3,139.9 276.3,139.7 277.3,139.6 278.3,139.5 278.4,139.5" fill="none" stroke="#555" stroke-width="0.7"/>
<rect x="169.3" y="122.2" width="109.1" height="45.3" fill="none" stroke="#828282" stroke-width="1.0"/>
<line x1="168.1" y1="130.9" x2="169.3" y2="130.9" stroke="#828282" stroke-width="0.6"/>
<text transform="translate(166.50,132.00) scale(0.9,1)" font-size="3.33" text-anchor="end" font-weight="normal" style="font-family:'Liberation Serif',serif" fill="#222" stroke="#222" stroke-width="0.2" >5</text>
<line x1="168.1" y1="144.7" x2="169.3" y2="144.7" stroke="#828282" stroke-width="0.6"/>
<text transform="translate(166.50,145.80) scale(0.9,1)" font-size="3.33" text-anchor="end" font-weight="normal" style="font-family:'Liberation Serif',serif" fill="#222" stroke="#222" stroke-width="0.2" >0</text>
<line x1="168.1" y1="159" x2="169.3" y2="159" stroke="#828282" stroke-width="0.6"/>
<text transform="translate(166.50,160.10) scale(0.9,1)" font-size="3.33" text-anchor="end" font-weight="normal" style="font-family:'Liberation Serif',serif" fill="#222" stroke="#222" stroke-width="0.2" >-5</text>
<line x1="169.3" y1="167.5" x2="169.3" y2="168.8" stroke="#828282" stroke-width="0.5"/>
<text transform="translate(169.30,173.40) scale(0.9,1)" font-size="3.67" text-anchor="middle" font-weight="bold" style="font-family:'Liberation Serif',serif" fill="#222" stroke="#222" stroke-width="0.12" >0%</text>
<line x1="180.2" y1="167.5" x2="180.2" y2="168.3" stroke="#828282" stroke-width="0.4"/>
<line x1="191.1" y1="167.5" x2="191.1" y2="168.8" stroke="#828282" stroke-width="0.5"/>
<text transform="translate(191.12,173.40) scale(0.9,1)" font-size="3.67" text-anchor="middle" font-weight="bold" style="font-family:'Liberation Serif',serif" fill="#222" stroke="#222" stroke-width="0.12" >20%</text>
<line x1="202" y1="167.5" x2="202" y2="168.3" stroke="#828282" stroke-width="0.4"/>
<line x1="212.9" y1="167.5" x2="212.9" y2="168.8" stroke="#828282" stroke-width="0.5"/>
<text transform="translate(212.94,173.40) scale(0.9,1)" font-size="3.67" text-anchor="middle" font-weight="bold" style="font-family:'Liberation Serif',serif" fill="#222" stroke="#222" stroke-width="0.12" >40%</text>
<line x1="223.8" y1="167.5" x2="223.8" y2="168.3" stroke="#828282" stroke-width="0.4"/>
<line x1="234.8" y1="167.5" x2="234.8" y2="168.8" stroke="#828282" stroke-width="0.5"/>
<text transform="translate(234.76,173.40) scale(0.9,1)" font-size="3.67" text-anchor="middle" font-weight="bold" style="font-family:'Liberation Serif',serif" fill="#222" stroke="#222" stroke-width="0.12" >60%</text>
<line x1="245.7" y1="167.5" x2="245.7" y2="168.3" stroke="#828282" stroke-width="0.4"/>
<line x1="256.6" y1="167.5" x2="256.6" y2="168.8" stroke="#828282" stroke-width="0.5"/>
<text transform="translate(256.58,173.40) scale(0.9,1)" font-size="3.67" text-anchor="middle" font-weight="bold" style="font-family:'Liberation Serif',serif" fill="#222" stroke="#222" stroke-width="0.12" >80%</text>
<line x1="267.5" y1="167.5" x2="267.5" y2="168.3" stroke="#828282" stroke-width="0.4"/>
<line x1="278.4" y1="167.5" x2="278.4" y2="168.8" stroke="#828282" stroke-width="0.5"/>
<text transform="translate(278.40,173.40) scale(0.9,1)" font-size="3.67" text-anchor="middle" font-weight="bold" style="font-family:'Liberation Serif',serif" fill="#222" stroke="#222" stroke-width="0.12" >100%</text>
<text transform="translate(225.85,177.20) scale(0.9,1)" font-size="3.22" text-anchor="middle" font-weight="bold" style="font-family:'Liberation Serif',serif" fill="#222" stroke="#222" stroke-width="0.12" >Percentage of Backward Phase (%)</text>
<text x="0" y="0" font-size="3.6" font-weight="bold" text-anchor="middle" style="font-family:'Liberation Serif',serif" fill="#222" stroke="#222" stroke-width="0.1" transform="translate(161.9,144.8) rotate(-90)">SPM{t}</text>
<text transform="translate(275.30,129.10) scale(0.9,1)" font-size="3.67" font-weight="bold" text-anchor="end" style="font-family:'Liberation Serif',serif" fill="#222" stroke="#222" stroke-width="0.06">α=0.05,  t<tspan dy="-1.6" font-size="2.4">*</tspan><tspan dy="1.6">=2.703</tspan></text>
<rect x="314.4" y="122.4" width="13.4" height="44.9" fill="#ececec"/>
<line x1="327.8" y1="122.4" x2="327.8" y2="167.3" stroke="#b4b4b4" stroke-width="0.6" stroke-dasharray="0.7,1.4"/>
<rect x="343.2" y="122.4" width="22.5" height="44.9" fill="#ececec"/>
<line x1="343.2" y1="122.4" x2="343.2" y2="167.3" stroke="#b4b4b4" stroke-width="0.6" stroke-dasharray="0.7,1.4"/>
<line x1="365.7" y1="122.4" x2="365.7" y2="167.3" stroke="#b4b4b4" stroke-width="0.6" stroke-dasharray="0.7,1.4"/>
<rect x="377" y="122.4" width="46.1" height="44.9" fill="#ececec"/>
<line x1="377" y1="122.4" x2="377" y2="167.3" stroke="#b4b4b4" stroke-width="0.6" stroke-dasharray="0.7,1.4"/>
<line x1="314.4" y1="145" x2="423.1" y2="145" stroke="#c8c8c8" stroke-width="0.6"/>
<line x1="315.4" y1="141.8" x2="423.1" y2="141.8" stroke="#ff7878" stroke-width="1.3" stroke-dasharray="1.2,1.47"/>
<line x1="315.4" y1="148.1" x2="423.1" y2="148.1" stroke="#ff7878" stroke-width="1.3" stroke-dasharray="1.2,1.47"/>
<polyline points="314.4,150.9 315.4,150.9 316.4,150.8 317.4,150.6 318.4,150.5 319.4,150.3 320.4,150.1 321.4,149.9 322.4,149.6 323.4,149.4 324.4,149.1 325.4,148.8 326.4,148.5 327.4,148.1 328.4,147.7 329.4,147.3 330.4,146.9 331.4,146.4 332.4,145.9 333.4,145.5 334.4,145 335.4,144.5 336.4,144.1 337.4,143.7 338.4,143.2 339.4,142.8 340.4,142.4 341.4,142 342.4,141.5 343.4,141.1 344.4,140.6 345.4,140.2 346.4,139.7 347.4,139.3 348.4,138.9 349.4,138.4 350.4,138 351.4,137.7 352.4,137.3 353.4,137 354.4,136.7 355.4,136.6 356.4,136.6 357.4,136.7 358.4,136.9 359.4,137.2 360.4,137.6 361.4,138.2 362.4,138.8 363.4,139.6 364.4,140.5 365.4,141.3 366.4,142.1 367.4,142.8 368.4,143.4 369.4,144 370.4,144.7 371.4,145.3 372.4,145.9 373.4,146.5 374.4,147.2 375.4,147.8 376.4,148.3 377.4,148.9 378.4,149.4 379.4,149.8 380.4,150.3 381.4,150.7 382.4,151 383.4,151.3 384.4,151.6 385.4,151.8 386.4,152 387.4,152.2 388.4,152.3 389.4,152.5 390.4,152.6 391.4,152.7 392.4,152.8 393.4,153 394.4,153.1 395.4,153.3 396.4,153.5 397.4,153.7 398.4,153.9 399.4,154.1 400.4,154.3 401.4,154.5 402.4,154.7 403.4,154.9 404.4,155.2 405.4,155.4 406.4,155.6 407.4,155.8 408.4,156 409.4,156.1 410.4,156.1 411.4,156.1 412.4,156 413.4,155.8 414.4,155.7 415.4,155.5 416.4,155.3 417.4,155.1 418.4,154.9 419.4,154.6 420.4,154.4 421.4,154.1 422.4,153.9 423.1,153.8" fill="none" stroke="#555" stroke-width="0.7"/>
<rect x="314.4" y="122.4" width="108.7" height="44.9" fill="none" stroke="#828282" stroke-width="1.0"/>
<line x1="313.2" y1="128.2" x2="314.4" y2="128.2" stroke="#828282" stroke-width="0.6"/>
<text transform="translate(311.60,129.30) scale(0.9,1)" font-size="3.33" text-anchor="end" font-weight="normal" style="font-family:'Liberation Serif',serif" fill="#222" stroke="#222" stroke-width="0.2" >10</text>
<line x1="313.2" y1="145" x2="314.4" y2="145" stroke="#828282" stroke-width="0.6"/>
<text transform="translate(311.60,146.10) scale(0.9,1)" font-size="3.33" text-anchor="end" font-weight="normal" style="font-family:'Liberation Serif',serif" fill="#222" stroke="#222" stroke-width="0.2" >0</text>
<line x1="313.2" y1="161.6" x2="314.4" y2="161.6" stroke="#828282" stroke-width="0.6"/>
<text transform="translate(311.60,162.70) scale(0.9,1)" font-size="3.33" text-anchor="end" font-weight="normal" style="font-family:'Liberation Serif',serif" fill="#222" stroke="#222" stroke-width="0.2" >-10</text>
<line x1="314.4" y1="167.3" x2="314.4" y2="168.6" stroke="#828282" stroke-width="0.5"/>
<text transform="translate(314.40,173.20) scale(0.9,1)" font-size="3.67" text-anchor="middle" font-weight="bold" style="font-family:'Liberation Serif',serif" fill="#222" stroke="#222" stroke-width="0.12" >0%</text>
<line x1="325.3" y1="167.3" x2="325.3" y2="168.1" stroke="#828282" stroke-width="0.4"/>
<line x1="336.1" y1="167.3" x2="336.1" y2="168.6" stroke="#828282" stroke-width="0.5"/>
<text transform="translate(336.14,173.20) scale(0.9,1)" font-size="3.67" text-anchor="middle" font-weight="bold" style="font-family:'Liberation Serif',serif" fill="#222" stroke="#222" stroke-width="0.12" >20%</text>
<line x1="347" y1="167.3" x2="347" y2="168.1" stroke="#828282" stroke-width="0.4"/>
<line x1="357.9" y1="167.3" x2="357.9" y2="168.6" stroke="#828282" stroke-width="0.5"/>
<text transform="translate(357.88,173.20) scale(0.9,1)" font-size="3.67" text-anchor="middle" font-weight="bold" style="font-family:'Liberation Serif',serif" fill="#222" stroke="#222" stroke-width="0.12" >40%</text>
<line x1="368.8" y1="167.3" x2="368.8" y2="168.1" stroke="#828282" stroke-width="0.4"/>
<line x1="379.6" y1="167.3" x2="379.6" y2="168.6" stroke="#828282" stroke-width="0.5"/>
<text transform="translate(379.62,173.20) scale(0.9,1)" font-size="3.67" text-anchor="middle" font-weight="bold" style="font-family:'Liberation Serif',serif" fill="#222" stroke="#222" stroke-width="0.12" >60%</text>
<line x1="390.5" y1="167.3" x2="390.5" y2="168.1" stroke="#828282" stroke-width="0.4"/>
<line x1="401.4" y1="167.3" x2="401.4" y2="168.6" stroke="#828282" stroke-width="0.5"/>
<text transform="translate(401.36,173.20) scale(0.9,1)" font-size="3.67" text-anchor="middle" font-weight="bold" style="font-family:'Liberation Serif',serif" fill="#222" stroke="#222" stroke-width="0.12" >80%</text>
<line x1="412.2" y1="167.3" x2="412.2" y2="168.1" stroke="#828282" stroke-width="0.4"/>
<line x1="423.1" y1="167.3" x2="423.1" y2="168.6" stroke="#828282" stroke-width="0.5"/>
<text transform="translate(423.10,173.20) scale(0.9,1)" font-size="3.67" text-anchor="middle" font-weight="bold" style="font-family:'Liberation Serif',serif" fill="#222" stroke="#222" stroke-width="0.12" >100%</text>
<text transform="translate(370.75,177.00) scale(0.9,1)" font-size="3.22" text-anchor="middle" font-weight="bold" style="font-family:'Liberation Serif',serif" fill="#222" stroke="#222" stroke-width="0.12" >Percentage of Backward Phase (%)</text>
<text x="0" y="0" font-size="3.6" font-weight="bold" text-anchor="middle" style="font-family:'Liberation Serif',serif" fill="#222" stroke="#222" stroke-width="0.1" transform="translate(307,144.9) rotate(-90)">SPM{t}</text>
<text transform="translate(420.00,129.30) scale(0.9,1)" font-size="3.67" font-weight="bold" text-anchor="end" style="font-family:'Liberation Serif',serif" fill="#222" stroke="#222" stroke-width="0.06">α=0.05,  t<tspan dy="-1.6" font-size="2.4">*</tspan><tspan dy="1.6">=3.262</tspan></text>
<rect x="23.9" y="303.1" width="90.9" height="45.1" fill="#ececec"/>
<line x1="114.8" y1="303.1" x2="114.8" y2="348.2" stroke="#b4b4b4" stroke-width="0.6" stroke-dasharray="0.7,1.4"/>
<line x1="23.9" y1="328.2" x2="133" y2="328.2" stroke="#c8c8c8" stroke-width="0.6"/>
<line x1="24.9" y1="325" x2="133" y2="325" stroke="#ff7878" stroke-width="1.3" stroke-dasharray="1.2,1.47"/>
<line x1="24.9" y1="331.8" x2="133" y2="331.8" stroke="#ff7878" stroke-width="1.3" stroke-dasharray="1.2,1.47"/>
<polyline points="24,322.1 25,322 26,321.7 27,321.5 28,321.2 29,321 30,320.8 31,320.5 32,320.3 33,320.1 34,319.9 35,319.8 36,319.6 37,319.5 38,319.3 39,319.2 40,319 41,318.8 42,318.5 43,318.2 44,317.9 45,317.6 46,317.2 47,316.8 48,316.5 49,316.1 50,315.7 51,315.4 52,315 53,314.7 54,314.5 55,314.2 56,314 57,313.8 58,313.7 59,313.6 60,313.5 61,313.5 62,313.5 63,313.6 64,313.7 65,313.9 66,314.1 67,314.3 68,314.6 69,314.9 70,315.2 71,315.5 72,315.8 73,316 74,316.3 75,316.5 76,316.7 77,316.9 78,317.1 79,317.2 80,317.4 81,317.6 82,317.7 83,317.9 84,318 85,318.2 86,318.4 87,318.6 88,318.8 89,318.9 90,319.1 91,319.3 92,319.5 93,319.7 94,319.9 95,320.1 96,320.3 97,320.5 98,320.7 99,320.9 100,321.1 101,321.3 102,321.5 103,321.7 104,321.9 105,322.1 106,322.2 107,322.4 108,322.6 109,322.7 110,322.9 111,323.1 112,323.3 113,323.6 114,323.8 115,324.1 116,324.5 117,324.9 118,325.4 119,325.9 120,326.4 121,327 122,327.6 123,328.3 124,329 125,329.6 126,330.1 127,330.5 128,330.7 129,330.9 130,331.1 131,331.2 132,331.2 133,331.3" fill="none" stroke="#555" stroke-width="0.7"/>
<rect x="23.9" y="303.1" width="109.1" height="45.1" fill="none" stroke="#828282" stroke-width="1.0"/>
<line x1="22.7" y1="309.5" x2="23.9" y2="309.5" stroke="#828282" stroke-width="0.6"/>
<text transform="translate(21.10,310.60) scale(0.9,1)" font-size="3.33" text-anchor="end" font-weight="normal" style="font-family:'Liberation Serif',serif" fill="#222" stroke="#222" stroke-width="0.2" >10</text>
<line x1="22.7" y1="328.2" x2="23.9" y2="328.2" stroke="#828282" stroke-width="0.6"/>
<text transform="translate(21.10,329.30) scale(0.9,1)" font-size="3.33" text-anchor="end" font-weight="normal" style="font-family:'Liberation Serif',serif" fill="#222" stroke="#222" stroke-width="0.2" >0</text>
<line x1="22.7" y1="346.7" x2="23.9" y2="346.7" stroke="#828282" stroke-width="0.6"/>
<text transform="translate(21.10,347.80) scale(0.9,1)" font-size="3.33" text-anchor="end" font-weight="normal" style="font-family:'Liberation Serif',serif" fill="#222" stroke="#222" stroke-width="0.2" >-10</text>
<line x1="23.9" y1="348.2" x2="23.9" y2="349.5" stroke="#828282" stroke-width="0.5"/>
<text transform="translate(23.90,354.10) scale(0.9,1)" font-size="3.67" text-anchor="middle" font-weight="bold" style="font-family:'Liberation Serif',serif" fill="#222" stroke="#222" stroke-width="0.12" >0%</text>
<line x1="34.8" y1="348.2" x2="34.8" y2="349" stroke="#828282" stroke-width="0.4"/>
<line x1="45.7" y1="348.2" x2="45.7" y2="349.5" stroke="#828282" stroke-width="0.5"/>
<text transform="translate(45.72,354.10) scale(0.9,1)" font-size="3.67" text-anchor="middle" font-weight="bold" style="font-family:'Liberation Serif',serif" fill="#222" stroke="#222" stroke-width="0.12" >20%</text>
<line x1="56.6" y1="348.2" x2="56.6" y2="349" stroke="#828282" stroke-width="0.4"/>
<line x1="67.5" y1="348.2" x2="67.5" y2="349.5" stroke="#828282" stroke-width="0.5"/>
<text transform="translate(67.54,354.10) scale(0.9,1)" font-size="3.67" text-anchor="middle" font-weight="bold" style="font-family:'Liberation Serif',serif" fill="#222" stroke="#222" stroke-width="0.12" >40%</text>
<line x1="78.4" y1="348.2" x2="78.4" y2="349" stroke="#828282" stroke-width="0.4"/>
<line x1="89.4" y1="348.2" x2="89.4" y2="349.5" stroke="#828282" stroke-width="0.5"/>
<text transform="translate(89.36,354.10) scale(0.9,1)" font-size="3.67" text-anchor="middle" font-weight="bold" style="font-family:'Liberation Serif',serif" fill="#222" stroke="#222" stroke-width="0.12" >60%</text>
<line x1="100.3" y1="348.2" x2="100.3" y2="349" stroke="#828282" stroke-width="0.4"/>
<line x1="111.2" y1="348.2" x2="111.2" y2="349.5" stroke="#828282" stroke-width="0.5"/>
<text transform="translate(111.18,354.10) scale(0.9,1)" font-size="3.67" text-anchor="middle" font-weight="bold" style="font-family:'Liberation Serif',serif" fill="#222" stroke="#222" stroke-width="0.12" >80%</text>
<line x1="122.1" y1="348.2" x2="122.1" y2="349" stroke="#828282" stroke-width="0.4"/>
<line x1="133" y1="348.2" x2="133" y2="349.5" stroke="#828282" stroke-width="0.5"/>
<text transform="translate(133.00,354.10) scale(0.9,1)" font-size="3.67" text-anchor="middle" font-weight="bold" style="font-family:'Liberation Serif',serif" fill="#222" stroke="#222" stroke-width="0.12" >100%</text>
<text transform="translate(80.45,357.90) scale(0.9,1)" font-size="3.22" text-anchor="middle" font-weight="bold" style="font-family:'Liberation Serif',serif" fill="#222" stroke="#222" stroke-width="0.12" >Percentage of Backward Phase (%)</text>
<text x="0" y="0" font-size="3.6" font-weight="bold" text-anchor="middle" style="font-family:'Liberation Serif',serif" fill="#222" stroke="#222" stroke-width="0.1" transform="translate(16.5,325.6) rotate(-90)">SPM{t}</text>
<text transform="translate(129.90,310.00) scale(0.9,1)" font-size="3.67" font-weight="bold" text-anchor="end" style="font-family:'Liberation Serif',serif" fill="#222" stroke="#222" stroke-width="0.06">α=0.05,  t<tspan dy="-1.6" font-size="2.4">*</tspan><tspan dy="1.6">=3.096</tspan></text>
<line x1="169" y1="326.9" x2="278.4" y2="326.9" stroke="#c8c8c8" stroke-width="0.6"/>
<line x1="170" y1="320.8" x2="278.4" y2="320.8" stroke="#ff7878" stroke-width="1.3" stroke-dasharray="1.2,1.47"/>
<line x1="170" y1="333" x2="278.4" y2="333" stroke="#ff7878" stroke-width="1.3" stroke-dasharray="1.2,1.47"/>
<polyline points="169,329.2 170,329.3 171,329.4 172,329.6 173,329.7 174,329.7 175,329.8 176,329.8 177,329.9 178,329.9 179,329.8 180,329.7 181,329.6 182,329.5 183,329.4 184,329.2 185,329.1 186,328.9 187,328.7 188,328.5 189,328.3 190,328.1 191,327.9 192,327.7 193,327.5 194,327.4 195,327.3 196,327.2 197,327.1 198,327 199,326.9 200,326.8 201,326.7 202,326.6 203,326.5 204,326.4 205,326.3 206,326.2 207,326.1 208,326.1 209,326 210,325.9 211,325.8 212,325.7 213,325.6 214,325.6 215,325.5 216,325.4 217,325.4 218,325.3 219,325.2 220,325.2 221,325.1 222,325.1 223,325 224,325 225,325 226,325 227,325 228,325.1 229,325.1 230,325.1 231,325.2 232,325.2 233,325.3 234,325.3 235,325.4 236,325.5 237,325.6 238,325.8 239,325.9 240,326 241,326.1 242,326.3 243,326.4 244,326.6 245,326.8 246,327 247,327.2 248,327.4 249,327.6 250,327.9 251,328.1 252,328.4 253,328.7 254,328.9 255,329.2 256,329.4 257,329.7 258,329.9 259,330.2 260,330.4 261,330.6 262,330.8 263,331 264,331.2 265,331.3 266,331.5 267,331.6 268,331.7 269,331.8 270,331.9 271,331.9 272,331.9 273,332 274,332 275,332 276,332 277,332 278,332 278.4,332" fill="none" stroke="#555" stroke-width="0.7"/>
<rect x="169" y="304.4" width="109.4" height="44.6" fill="none" stroke="#828282" stroke-width="1.0"/>
<line x1="167.8" y1="309.2" x2="169" y2="309.2" stroke="#828282" stroke-width="0.6"/>
<text transform="translate(166.20,310.30) scale(0.9,1)" font-size="3.33" text-anchor="end" font-weight="normal" style="font-family:'Liberation Serif',serif" fill="#222" stroke="#222" stroke-width="0.2" >5</text>
<line x1="167.8" y1="326.9" x2="169" y2="326.9" stroke="#828282" stroke-width="0.6"/>
<text transform="translate(166.20,328.00) scale(0.9,1)" font-size="3.33" text-anchor="end" font-weight="normal" style="font-family:'Liberation Serif',serif" fill="#222" stroke="#222" stroke-width="0.2" >0</text>
<line x1="167.8" y1="344.4" x2="169" y2="344.4" stroke="#828282" stroke-width="0.6"/>
<text transform="translate(166.20,345.50) scale(0.9,1)" font-size="3.33" text-anchor="end" font-weight="normal" style="font-family:'Liberation Serif',serif" fill="#222" stroke="#222" stroke-width="0.2" >-5</text>
<line x1="169" y1="349" x2="169" y2="350.3" stroke="#828282" stroke-width="0.5"/>
<text transform="translate(169.00,354.90) scale(0.9,1)" font-size="3.67" text-anchor="middle" font-weight="bold" style="font-family:'Liberation Serif',serif" fill="#222" stroke="#222" stroke-width="0.12" >0%</text>
<line x1="179.9" y1="349" x2="179.9" y2="349.8" stroke="#828282" stroke-width="0.4"/>
<line x1="190.9" y1="349" x2="190.9" y2="350.3" stroke="#828282" stroke-width="0.5"/>
<text transform="translate(190.88,354.90) scale(0.9,1)" font-size="3.67" text-anchor="middle" font-weight="bold" style="font-family:'Liberation Serif',serif" fill="#222" stroke="#222" stroke-width="0.12" >20%</text>
<line x1="201.8" y1="349" x2="201.8" y2="349.8" stroke="#828282" stroke-width="0.4"/>
<line x1="212.8" y1="349" x2="212.8" y2="350.3" stroke="#828282" stroke-width="0.5"/>
<text transform="translate(212.76,354.90) scale(0.9,1)" font-size="3.67" text-anchor="middle" font-weight="bold" style="font-family:'Liberation Serif',serif" fill="#222" stroke="#222" stroke-width="0.12" >40%</text>
<line x1="223.7" y1="349" x2="223.7" y2="349.8" stroke="#828282" stroke-width="0.4"/>
<line x1="234.6" y1="349" x2="234.6" y2="350.3" stroke="#828282" stroke-width="0.5"/>
<text transform="translate(234.64,354.90) scale(0.9,1)" font-size="3.67" text-anchor="middle" font-weight="bold" style="font-family:'Liberation Serif',serif" fill="#222" stroke="#222" stroke-width="0.12" >60%</text>
<line x1="245.6" y1="349" x2="245.6" y2="349.8" stroke="#828282" stroke-width="0.4"/>
<line x1="256.5" y1="349" x2="256.5" y2="350.3" stroke="#828282" stroke-width="0.5"/>
<text transform="translate(256.52,354.90) scale(0.9,1)" font-size="3.67" text-anchor="middle" font-weight="bold" style="font-family:'Liberation Serif',serif" fill="#222" stroke="#222" stroke-width="0.12" >80%</text>
<line x1="267.5" y1="349" x2="267.5" y2="349.8" stroke="#828282" stroke-width="0.4"/>
<line x1="278.4" y1="349" x2="278.4" y2="350.3" stroke="#828282" stroke-width="0.5"/>
<text transform="translate(278.40,354.90) scale(0.9,1)" font-size="3.67" text-anchor="middle" font-weight="bold" style="font-family:'Liberation Serif',serif" fill="#222" stroke="#222" stroke-width="0.12" >100%</text>
<text transform="translate(225.70,358.70) scale(0.9,1)" font-size="3.22" text-anchor="middle" font-weight="bold" style="font-family:'Liberation Serif',serif" fill="#222" stroke="#222" stroke-width="0.12" >Percentage of Backward Phase (%)</text>
<text x="0" y="0" font-size="3.6" font-weight="bold" text-anchor="middle" style="font-family:'Liberation Serif',serif" fill="#222" stroke="#222" stroke-width="0.1" transform="translate(161.6,326.7) rotate(-90)">SPM{t}</text>
<text transform="translate(275.30,311.30) scale(0.9,1)" font-size="3.67" font-weight="bold" text-anchor="end" style="font-family:'Liberation Serif',serif" fill="#222" stroke="#222" stroke-width="0.06">α=0.05,  t<tspan dy="-1.6" font-size="2.4">*</tspan><tspan dy="1.6">=2.761</tspan></text>
<rect x="314.5" y="304.6" width="109.3" height="45.3" fill="#ececec"/>
<line x1="314.5" y1="333.6" x2="423.8" y2="333.6" stroke="#c8c8c8" stroke-width="0.6"/>
<line x1="315.5" y1="327.6" x2="423.8" y2="327.6" stroke="#ff7878" stroke-width="1.3" stroke-dasharray="1.2,1.47"/>
<line x1="315.5" y1="339.5" x2="423.8" y2="339.5" stroke="#ff7878" stroke-width="1.3" stroke-dasharray="1.2,1.47"/>
<polyline points="314.2,319.1 315.2,319 316.2,318.8 317.2,318.6 318.2,318.5 319.2,318.3 320.2,318.3 321.2,318.2 322.2,318.2 323.2,318.2 324.2,318.2 325.2,318.2 326.2,318.2 327.2,318.2 328.2,318.2 329.2,318.3 330.2,318.4 331.2,318.5 332.2,318.7 333.2,318.9 334.2,319.1 335.2,319.3 336.2,319.5 337.2,319.7 338.2,319.9 339.2,320.1 340.2,320.3 341.2,320.5 342.2,320.7 343.2,320.8 344.2,320.9 345.2,321 346.2,321 347.2,321.1 348.2,321.1 349.2,321.2 350.2,321.2 351.2,321.2 352.2,321.1 353.2,321.1 354.2,321.1 355.2,321 356.2,320.9 357.2,320.9 358.2,320.8 359.2,320.7 360.2,320.6 361.2,320.6 362.2,320.5 363.2,320.5 364.2,320.4 365.2,320.3 366.2,320.3 367.2,320.2 368.2,320.2 369.2,320.1 370.2,320.1 371.2,320 372.2,320 373.2,319.9 374.2,319.9 375.2,319.9 376.2,319.8 377.2,319.8 378.2,319.8 379.2,319.8 380.2,319.8 381.2,319.8 382.2,319.8 383.2,319.8 384.2,319.8 385.2,319.8 386.2,319.8 387.2,319.8 388.2,319.8 389.2,319.8 390.2,319.8 391.2,319.8 392.2,319.9 393.2,319.9 394.2,320 395.2,320.1 396.2,320.2 397.2,320.4 398.2,320.5 399.2,320.7 400.2,320.9 401.2,321.1 402.2,321.2 403.2,321.4 404.2,321.6 405.2,321.7 406.2,321.9 407.2,322 408.2,322.1 409.2,322.2 410.2,322.3 411.2,322.4 412.2,322.6 413.2,322.7 414.2,322.8 415.2,322.9 416.2,322.9 417.2,323 418.2,323.1 419.2,323.2 420.2,323.3 421.2,323.4 422.2,323.5 423.2,323.5 423.8,323.6" fill="none" stroke="#555" stroke-width="0.7"/>
<rect x="314.5" y="304.6" width="109.3" height="45.3" fill="none" stroke="#828282" stroke-width="1.0"/>
<line x1="313.3" y1="309.2" x2="314.5" y2="309.2" stroke="#828282" stroke-width="0.6"/>
<text transform="translate(311.70,310.30) scale(0.9,1)" font-size="3.33" text-anchor="end" font-weight="normal" style="font-family:'Liberation Serif',serif" fill="#222" stroke="#222" stroke-width="0.2" >12</text>
<line x1="313.3" y1="321.5" x2="314.5" y2="321.5" stroke="#828282" stroke-width="0.6"/>
<text transform="translate(311.70,322.60) scale(0.9,1)" font-size="3.33" text-anchor="end" font-weight="normal" style="font-family:'Liberation Serif',serif" fill="#222" stroke="#222" stroke-width="0.2" >6</text>
<line x1="313.3" y1="333.6" x2="314.5" y2="333.6" stroke="#828282" stroke-width="0.6"/>
<text transform="translate(311.70,334.70) scale(0.9,1)" font-size="3.33" text-anchor="end" font-weight="normal" style="font-family:'Liberation Serif',serif" fill="#222" stroke="#222" stroke-width="0.2" >0</text>
<line x1="313.3" y1="345.9" x2="314.5" y2="345.9" stroke="#828282" stroke-width="0.6"/>
<text transform="translate(311.70,347.00) scale(0.9,1)" font-size="3.33" text-anchor="end" font-weight="normal" style="font-family:'Liberation Serif',serif" fill="#222" stroke="#222" stroke-width="0.2" >-6</text>
<line x1="314.5" y1="349.9" x2="314.5" y2="351.2" stroke="#828282" stroke-width="0.5"/>
<text transform="translate(314.50,355.80) scale(0.9,1)" font-size="3.67" text-anchor="middle" font-weight="bold" style="font-family:'Liberation Serif',serif" fill="#222" stroke="#222" stroke-width="0.12" >0%</text>
<line x1="325.4" y1="349.9" x2="325.4" y2="350.7" stroke="#828282" stroke-width="0.4"/>
<line x1="336.4" y1="349.9" x2="336.4" y2="351.2" stroke="#828282" stroke-width="0.5"/>
<text transform="translate(336.36,355.80) scale(0.9,1)" font-size="3.67" text-anchor="middle" font-weight="bold" style="font-family:'Liberation Serif',serif" fill="#222" stroke="#222" stroke-width="0.12" >20%</text>
<line x1="347.3" y1="349.9" x2="347.3" y2="350.7" stroke="#828282" stroke-width="0.4"/>
<line x1="358.2" y1="349.9" x2="358.2" y2="351.2" stroke="#828282" stroke-width="0.5"/>
<text transform="translate(358.22,355.80) scale(0.9,1)" font-size="3.67" text-anchor="middle" font-weight="bold" style="font-family:'Liberation Serif',serif" fill="#222" stroke="#222" stroke-width="0.12" >40%</text>
<line x1="369.2" y1="349.9" x2="369.2" y2="350.7" stroke="#828282" stroke-width="0.4"/>
<line x1="380.1" y1="349.9" x2="380.1" y2="351.2" stroke="#828282" stroke-width="0.5"/>
<text transform="translate(380.08,355.80) scale(0.9,1)" font-size="3.67" text-anchor="middle" font-weight="bold" style="font-family:'Liberation Serif',serif" fill="#222" stroke="#222" stroke-width="0.12" >60%</text>
<line x1="391" y1="349.9" x2="391" y2="350.7" stroke="#828282" stroke-width="0.4"/>
<line x1="401.9" y1="349.9" x2="401.9" y2="351.2" stroke="#828282" stroke-width="0.5"/>
<text transform="translate(401.94,355.80) scale(0.9,1)" font-size="3.67" text-anchor="middle" font-weight="bold" style="font-family:'Liberation Serif',serif" fill="#222" stroke="#222" stroke-width="0.12" >80%</text>
<line x1="412.9" y1="349.9" x2="412.9" y2="350.7" stroke="#828282" stroke-width="0.4"/>
<line x1="423.8" y1="349.9" x2="423.8" y2="351.2" stroke="#828282" stroke-width="0.5"/>
<text transform="translate(423.80,355.80) scale(0.9,1)" font-size="3.67" text-anchor="middle" font-weight="bold" style="font-family:'Liberation Serif',serif" fill="#222" stroke="#222" stroke-width="0.12" >100%</text>
<text transform="translate(371.15,359.60) scale(0.9,1)" font-size="3.22" text-anchor="middle" font-weight="bold" style="font-family:'Liberation Serif',serif" fill="#222" stroke="#222" stroke-width="0.12" >Percentage of Backward Phase (%)</text>
<text x="0" y="0" font-size="3.6" font-weight="bold" text-anchor="middle" style="font-family:'Liberation Serif',serif" fill="#222" stroke="#222" stroke-width="0.1" transform="translate(307.1,327.2) rotate(-90)">SPM{t}</text>
<text transform="translate(420.70,311.50) scale(0.9,1)" font-size="3.67" font-weight="bold" text-anchor="end" style="font-family:'Liberation Serif',serif" fill="#222" stroke="#222" stroke-width="0.06">α=0.05,  t<tspan dy="-1.6" font-size="2.4">*</tspan><tspan dy="1.6">=3.069</tspan></text>
<rect x="23.9" y="490.9" width="60.9" height="44.8" fill="#ececec"/>
<line x1="84.8" y1="490.9" x2="84.8" y2="535.7" stroke="#b4b4b4" stroke-width="0.6" stroke-dasharray="0.7,1.4"/>
<line x1="23.9" y1="505.8" x2="132.9" y2="505.8" stroke="#c8c8c8" stroke-width="0.6"/>
<line x1="24.9" y1="502.4" x2="132.9" y2="502.4" stroke="#ff7878" stroke-width="1.3" stroke-dasharray="1.2,1.47"/>
<line x1="24.9" y1="509.3" x2="132.9" y2="509.3" stroke="#ff7878" stroke-width="1.3" stroke-dasharray="1.2,1.47"/>
<polyline points="24,526.1 25,526.1 26,526.1 27,526.1 28,526.1 29,526.1 30,526.1 31,526.1 32,526.1 33,526.2 34,526.3 35,526.4 36,526.5 37,526.5 38,526.3 39,526 40,525.6 41,525 42,524.4 43,523.7 44,522.9 45,522.1 46,521.4 47,520.7 48,520.1 49,519.6 50,519.1 51,518.6 52,518.2 53,517.8 54,517.4 55,517.1 56,516.9 57,516.6 58,516.4 59,516.2 60,516 61,515.8 62,515.6 63,515.3 64,515.1 65,514.8 66,514.6 67,514.3 68,514 69,513.8 70,513.5 71,513.3 72,513 73,512.8 74,512.5 75,512.3 76,512 77,511.8 78,511.5 79,511.2 80,510.9 81,510.6 82,510.3 83,510 84,509.6 85,509.3 86,509 87,508.6 88,508.2 89,507.9 90,507.5 91,507.2 92,506.9 93,506.6 94,506.4 95,506.2 96,506.1 97,505.9 98,505.8 99,505.7 100,505.6 101,505.6 102,505.5 103,505.6 104,505.6 105,505.7 106,505.7 107,505.9 108,506 109,506.1 110,506.3 111,506.5 112,506.8 113,507.1 114,507.4 115,507.8 116,508.1 117,508.4 118,508.6 119,508.7 120,508.8 121,508.8 122,508.9 123,508.9 124,509 125,509 126,509 127,509 128,509 129,509 130,509 131,509 132,509 132.9,509" fill="none" stroke="#555" stroke-width="0.7"/>
<rect x="23.9" y="490.9" width="109" height="44.8" fill="none" stroke="#828282" stroke-width="1.0"/>
<line x1="22.7" y1="493.2" x2="23.9" y2="493.2" stroke="#828282" stroke-width="0.6"/>
<text transform="translate(21.10,494.30) scale(0.9,1)" font-size="3.33" text-anchor="end" font-weight="normal" style="font-family:'Liberation Serif',serif" fill="#222" stroke="#222" stroke-width="0.2" >10</text>
<line x1="22.7" y1="505.8" x2="23.9" y2="505.8" stroke="#828282" stroke-width="0.6"/>
<text transform="translate(21.10,506.90) scale(0.9,1)" font-size="3.33" text-anchor="end" font-weight="normal" style="font-family:'Liberation Serif',serif" fill="#222" stroke="#222" stroke-width="0.2" >0</text>
<line x1="22.7" y1="518.2" x2="23.9" y2="518.2" stroke="#828282" stroke-width="0.6"/>
<text transform="translate(21.10,519.30) scale(0.9,1)" font-size="3.33" text-anchor="end" font-weight="normal" style="font-family:'Liberation Serif',serif" fill="#222" stroke="#222" stroke-width="0.2" >-10</text>
<line x1="22.7" y1="530.6" x2="23.9" y2="530.6" stroke="#828282" stroke-width="0.6"/>
<text transform="translate(21.10,531.70) scale(0.9,1)" font-size="3.33" text-anchor="end" font-weight="normal" style="font-family:'Liberation Serif',serif" fill="#222" stroke="#222" stroke-width="0.2" >-20</text>
<line x1="23.9" y1="535.7" x2="23.9" y2="537" stroke="#828282" stroke-width="0.5"/>
<text transform="translate(23.90,541.60) scale(0.9,1)" font-size="3.67" text-anchor="middle" font-weight="bold" style="font-family:'Liberation Serif',serif" fill="#222" stroke="#222" stroke-width="0.12" >0%</text>
<line x1="34.8" y1="535.7" x2="34.8" y2="536.5" stroke="#828282" stroke-width="0.4"/>
<line x1="45.7" y1="535.7" x2="45.7" y2="537" stroke="#828282" stroke-width="0.5"/>
<text transform="translate(45.70,541.60) scale(0.9,1)" font-size="3.67" text-anchor="middle" font-weight="bold" style="font-family:'Liberation Serif',serif" fill="#222" stroke="#222" stroke-width="0.12" >20%</text>
<line x1="56.6" y1="535.7" x2="56.6" y2="536.5" stroke="#828282" stroke-width="0.4"/>
<line x1="67.5" y1="535.7" x2="67.5" y2="537" stroke="#828282" stroke-width="0.5"/>
<text transform="translate(67.50,541.60) scale(0.9,1)" font-size="3.67" text-anchor="middle" font-weight="bold" style="font-family:'Liberation Serif',serif" fill="#222" stroke="#222" stroke-width="0.12" >40%</text>
<line x1="78.4" y1="535.7" x2="78.4" y2="536.5" stroke="#828282" stroke-width="0.4"/>
<line x1="89.3" y1="535.7" x2="89.3" y2="537" stroke="#828282" stroke-width="0.5"/>
<text transform="translate(89.30,541.60) scale(0.9,1)" font-size="3.67" text-anchor="middle" font-weight="bold" style="font-family:'Liberation Serif',serif" fill="#222" stroke="#222" stroke-width="0.12" >60%</text>
<line x1="100.2" y1="535.7" x2="100.2" y2="536.5" stroke="#828282" stroke-width="0.4"/>
<line x1="111.1" y1="535.7" x2="111.1" y2="537" stroke="#828282" stroke-width="0.5"/>
<text transform="translate(111.10,541.60) scale(0.9,1)" font-size="3.67" text-anchor="middle" font-weight="bold" style="font-family:'Liberation Serif',serif" fill="#222" stroke="#222" stroke-width="0.12" >80%</text>
<line x1="122" y1="535.7" x2="122" y2="536.5" stroke="#828282" stroke-width="0.4"/>
<line x1="132.9" y1="535.7" x2="132.9" y2="537" stroke="#828282" stroke-width="0.5"/>
<text transform="translate(132.90,541.60) scale(0.9,1)" font-size="3.67" text-anchor="middle" font-weight="bold" style="font-family:'Liberation Serif',serif" fill="#222" stroke="#222" stroke-width="0.12" >100%</text>
<text transform="translate(80.40,545.40) scale(0.9,1)" font-size="3.22" text-anchor="middle" font-weight="bold" style="font-family:'Liberation Serif',serif" fill="#222" stroke="#222" stroke-width="0.12" >Percentage of Backward Phase (%)</text>
<text x="0" y="0" font-size="3.6" font-weight="bold" text-anchor="middle" style="font-family:'Liberation Serif',serif" fill="#222" stroke="#222" stroke-width="0.1" transform="translate(16.5,513.3) rotate(-90)">SPM{t}</text>
<text transform="translate(129.80,497.80) scale(0.9,1)" font-size="3.67" font-weight="bold" text-anchor="end" style="font-family:'Liberation Serif',serif" fill="#222" stroke="#222" stroke-width="0.06">α=0.05,  t<tspan dy="-1.6" font-size="2.4">*</tspan><tspan dy="1.6">=3.241</tspan></text>
<rect x="239.4" y="490.9" width="39" height="45.2" fill="#ececec"/>
<line x1="239.4" y1="490.9" x2="239.4" y2="536.1" stroke="#b4b4b4" stroke-width="0.6" stroke-dasharray="0.7,1.4"/>
<line x1="169.4" y1="512.8" x2="278.4" y2="512.8" stroke="#c8c8c8" stroke-width="0.6"/>
<line x1="170.4" y1="507" x2="278.4" y2="507" stroke="#ff7878" stroke-width="1.3" stroke-dasharray="1.2,1.47"/>
<line x1="170.4" y1="519.3" x2="278.4" y2="519.3" stroke="#ff7878" stroke-width="1.3" stroke-dasharray="1.2,1.47"/>
<polyline points="169.4,511 170.4,511.1 171.4,511.2 172.4,511.4 173.4,511.5 174.4,511.7 175.4,511.8 176.4,512 177.4,512.1 178.4,512.3 179.4,512.4 180.4,512.6 181.4,512.7 182.4,512.8 183.4,512.9 184.4,513.1 185.4,513.2 186.4,513.4 187.4,513.5 188.4,513.6 189.4,513.8 190.4,513.9 191.4,514 192.4,514.1 193.4,514.2 194.4,514.3 195.4,514.4 196.4,514.4 197.4,514.5 198.4,514.5 199.4,514.5 200.4,514.4 201.4,514.4 202.4,514.3 203.4,514.2 204.4,514.1 205.4,513.9 206.4,513.8 207.4,513.7 208.4,513.5 209.4,513.3 210.4,513.2 211.4,513 212.4,512.8 213.4,512.7 214.4,512.5 215.4,512.3 216.4,512.2 217.4,512 218.4,511.8 219.4,511.6 220.4,511.4 221.4,511.2 222.4,511 223.4,510.8 224.4,510.6 225.4,510.4 226.4,510.2 227.4,509.9 228.4,509.7 229.4,509.5 230.4,509.3 231.4,509.2 232.4,509 233.4,508.8 234.4,508.6 235.4,508.4 236.4,508.2 237.4,508.1 238.4,507.9 239.4,507.7 240.4,507.5 241.4,507.3 242.4,507.1 243.4,506.9 244.4,506.7 245.4,506.6 246.4,506.5 247.4,506.4 248.4,506.3 249.4,506.3 250.4,506.2 251.4,506.2 252.4,506.2 253.4,506.1 254.4,506.1 255.4,506.1 256.4,506.1 257.4,506 258.4,506 259.4,506 260.4,506 261.4,506 262.4,506 263.4,506 264.4,506 265.4,506 266.4,506 267.4,506 268.4,506 269.4,506 270.4,506 271.4,506 272.4,506 273.4,506 274.4,506 275.4,506.1 276.4,506.1 277.4,506.1 278.4,506.1" fill="none" stroke="#555" stroke-width="0.7"/>
<rect x="169.4" y="490.9" width="109" height="45.2" fill="none" stroke="#828282" stroke-width="1.0"/>
<line x1="168.2" y1="494.8" x2="169.4" y2="494.8" stroke="#828282" stroke-width="0.6"/>
<text transform="translate(166.60,495.90) scale(0.9,1)" font-size="3.33" text-anchor="end" font-weight="normal" style="font-family:'Liberation Serif',serif" fill="#222" stroke="#222" stroke-width="0.2" >8</text>
<line x1="168.2" y1="512.8" x2="169.4" y2="512.8" stroke="#828282" stroke-width="0.6"/>
<text transform="translate(166.60,513.90) scale(0.9,1)" font-size="3.33" text-anchor="end" font-weight="normal" style="font-family:'Liberation Serif',serif" fill="#222" stroke="#222" stroke-width="0.2" >0</text>
<line x1="168.2" y1="530.3" x2="169.4" y2="530.3" stroke="#828282" stroke-width="0.6"/>
<text transform="translate(166.60,531.40) scale(0.9,1)" font-size="3.33" text-anchor="end" font-weight="normal" style="font-family:'Liberation Serif',serif" fill="#222" stroke="#222" stroke-width="0.2" >-8</text>
<line x1="169.4" y1="536.1" x2="169.4" y2="537.4" stroke="#828282" stroke-width="0.5"/>
<text transform="translate(169.40,542.00) scale(0.9,1)" font-size="3.67" text-anchor="middle" font-weight="bold" style="font-family:'Liberation Serif',serif" fill="#222" stroke="#222" stroke-width="0.12" >0%</text>
<line x1="180.3" y1="536.1" x2="180.3" y2="536.9" stroke="#828282" stroke-width="0.4"/>
<line x1="191.2" y1="536.1" x2="191.2" y2="537.4" stroke="#828282" stroke-width="0.5"/>
<text transform="translate(191.20,542.00) scale(0.9,1)" font-size="3.67" text-anchor="middle" font-weight="bold" style="font-family:'Liberation Serif',serif" fill="#222" stroke="#222" stroke-width="0.12" >20%</text>
<line x1="202.1" y1="536.1" x2="202.1" y2="536.9" stroke="#828282" stroke-width="0.4"/>
<line x1="213" y1="536.1" x2="213" y2="537.4" stroke="#828282" stroke-width="0.5"/>
<text transform="translate(213.00,542.00) scale(0.9,1)" font-size="3.67" text-anchor="middle" font-weight="bold" style="font-family:'Liberation Serif',serif" fill="#222" stroke="#222" stroke-width="0.12" >40%</text>
<line x1="223.9" y1="536.1" x2="223.9" y2="536.9" stroke="#828282" stroke-width="0.4"/>
<line x1="234.8" y1="536.1" x2="234.8" y2="537.4" stroke="#828282" stroke-width="0.5"/>
<text transform="translate(234.80,542.00) scale(0.9,1)" font-size="3.67" text-anchor="middle" font-weight="bold" style="font-family:'Liberation Serif',serif" fill="#222" stroke="#222" stroke-width="0.12" >60%</text>
<line x1="245.7" y1="536.1" x2="245.7" y2="536.9" stroke="#828282" stroke-width="0.4"/>
<line x1="256.6" y1="536.1" x2="256.6" y2="537.4" stroke="#828282" stroke-width="0.5"/>
<text transform="translate(256.60,542.00) scale(0.9,1)" font-size="3.67" text-anchor="middle" font-weight="bold" style="font-family:'Liberation Serif',serif" fill="#222" stroke="#222" stroke-width="0.12" >80%</text>
<line x1="267.5" y1="536.1" x2="267.5" y2="536.9" stroke="#828282" stroke-width="0.4"/>
<line x1="278.4" y1="536.1" x2="278.4" y2="537.4" stroke="#828282" stroke-width="0.5"/>
<text transform="translate(278.40,542.00) scale(0.9,1)" font-size="3.67" text-anchor="middle" font-weight="bold" style="font-family:'Liberation Serif',serif" fill="#222" stroke="#222" stroke-width="0.12" >100%</text>
<text transform="translate(225.90,545.80) scale(0.9,1)" font-size="3.22" text-anchor="middle" font-weight="bold" style="font-family:'Liberation Serif',serif" fill="#222" stroke="#222" stroke-width="0.12" >Percentage of Backward Phase (%)</text>
<text x="0" y="0" font-size="3.6" font-weight="bold" text-anchor="middle" style="font-family:'Liberation Serif',serif" fill="#222" stroke="#222" stroke-width="0.1" transform="translate(162,513.5) rotate(-90)">SPM{t}</text>
<text transform="translate(275.30,497.80) scale(0.9,1)" font-size="3.67" font-weight="bold" text-anchor="end" style="font-family:'Liberation Serif',serif" fill="#222" stroke="#222" stroke-width="0.06">α=0.05,  t<tspan dy="-1.6" font-size="2.4">*</tspan><tspan dy="1.6">=3.057</tspan></text>
<rect x="337.6" y="490.8" width="38.1" height="45.8" fill="#ececec"/>
<line x1="337.6" y1="490.8" x2="337.6" y2="536.6" stroke="#b4b4b4" stroke-width="0.6" stroke-dasharray="0.7,1.4"/>
<line x1="375.7" y1="490.8" x2="375.7" y2="536.6" stroke="#b4b4b4" stroke-width="0.6" stroke-dasharray="0.7,1.4"/>
<line x1="315.8" y1="513.2" x2="424.7" y2="513.2" stroke="#c8c8c8" stroke-width="0.6"/>
<line x1="316.8" y1="509.1" x2="424.7" y2="509.1" stroke="#ff7878" stroke-width="1.3" stroke-dasharray="1.2,1.47"/>
<line x1="316.8" y1="517.1" x2="424.7" y2="517.1" stroke="#ff7878" stroke-width="1.3" stroke-dasharray="1.2,1.47"/>
<polyline points="315.8,511.5 316.8,511.4 317.8,511.3 318.8,511.1 319.8,511 320.8,510.8 321.8,510.7 322.8,510.5 323.8,510.4 324.8,510.3 325.8,510.1 326.8,510 327.8,509.9 328.8,509.9 329.8,509.8 330.8,509.7 331.8,509.6 332.8,509.6 333.8,509.5 334.8,509.4 335.8,509.3 336.8,509.1 337.8,508.9 338.8,508.6 339.8,508.1 340.8,507.6 341.8,506.9 342.8,506.2 343.8,505.4 344.8,504.6 345.8,503.9 346.8,503.1 347.8,502.2 348.8,501.4 349.8,500.5 350.8,499.6 351.8,498.8 352.8,498 353.8,497.5 354.8,497.1 355.8,496.9 356.8,497 357.8,497.3 358.8,497.7 359.8,498.3 360.8,498.9 361.8,499.5 362.8,500.1 363.8,500.8 364.8,501.4 365.8,502.1 366.8,502.9 367.8,503.6 368.8,504.3 369.8,505 370.8,505.7 371.8,506.4 372.8,507 373.8,507.5 374.8,508 375.8,508.4 376.8,508.7 377.8,509 378.8,509.4 379.8,509.6 380.8,509.9 381.8,510.2 382.8,510.4 383.8,510.7 384.8,510.9 385.8,511.1 386.8,511.2 387.8,511.4 388.8,511.5 389.8,511.5 390.8,511.6 391.8,511.6 392.8,511.6 393.8,511.5 394.8,511.5 395.8,511.5 396.8,511.4 397.8,511.4 398.8,511.3 399.8,511.3 400.8,511.2 401.8,511.2 402.8,511.1 403.8,511.1 404.8,511 405.8,511 406.8,511 407.8,511 408.8,511 409.8,511.1 410.8,511.1 411.8,511.1 412.8,511.2 413.8,511.3 414.8,511.4 415.8,511.5 416.8,511.6 417.8,511.7 418.8,511.8 419.8,511.9 420.8,512 421.8,512.2 422.8,512.3 423.8,512.4 424.7,512.5" fill="none" stroke="#555" stroke-width="0.7"/>
<rect x="315.8" y="490.8" width="108.9" height="45.8" fill="none" stroke="#828282" stroke-width="1.0"/>
<line x1="314.6" y1="497.9" x2="315.8" y2="497.9" stroke="#828282" stroke-width="0.6"/>
<text transform="translate(313.00,499.00) scale(0.9,1)" font-size="3.33" text-anchor="end" font-weight="normal" style="font-family:'Liberation Serif',serif" fill="#222" stroke="#222" stroke-width="0.2" >10</text>
<line x1="314.6" y1="513.2" x2="315.8" y2="513.2" stroke="#828282" stroke-width="0.6"/>
<text transform="translate(313.00,514.30) scale(0.9,1)" font-size="3.33" text-anchor="end" font-weight="normal" style="font-family:'Liberation Serif',serif" fill="#222" stroke="#222" stroke-width="0.2" >0</text>
<line x1="314.6" y1="528.6" x2="315.8" y2="528.6" stroke="#828282" stroke-width="0.6"/>
<text transform="translate(313.00,529.70) scale(0.9,1)" font-size="3.33" text-anchor="end" font-weight="normal" style="font-family:'Liberation Serif',serif" fill="#222" stroke="#222" stroke-width="0.2" >-10</text>
<line x1="315.8" y1="536.6" x2="315.8" y2="537.9" stroke="#828282" stroke-width="0.5"/>
<text transform="translate(315.80,542.50) scale(0.9,1)" font-size="3.67" text-anchor="middle" font-weight="bold" style="font-family:'Liberation Serif',serif" fill="#222" stroke="#222" stroke-width="0.12" >0%</text>
<line x1="326.7" y1="536.6" x2="326.7" y2="537.4" stroke="#828282" stroke-width="0.4"/>
<line x1="337.6" y1="536.6" x2="337.6" y2="537.9" stroke="#828282" stroke-width="0.5"/>
<text transform="translate(337.58,542.50) scale(0.9,1)" font-size="3.67" text-anchor="middle" font-weight="bold" style="font-family:'Liberation Serif',serif" fill="#222" stroke="#222" stroke-width="0.12" >20%</text>
<line x1="348.5" y1="536.6" x2="348.5" y2="537.4" stroke="#828282" stroke-width="0.4"/>
<line x1="359.4" y1="536.6" x2="359.4" y2="537.9" stroke="#828282" stroke-width="0.5"/>
<text transform="translate(359.36,542.50) scale(0.9,1)" font-size="3.67" text-anchor="middle" font-weight="bold" style="font-family:'Liberation Serif',serif" fill="#222" stroke="#222" stroke-width="0.12" >40%</text>
<line x1="370.2" y1="536.6" x2="370.2" y2="537.4" stroke="#828282" stroke-width="0.4"/>
<line x1="381.1" y1="536.6" x2="381.1" y2="537.9" stroke="#828282" stroke-width="0.5"/>
<text transform="translate(381.14,542.50) scale(0.9,1)" font-size="3.67" text-anchor="middle" font-weight="bold" style="font-family:'Liberation Serif',serif" fill="#222" stroke="#222" stroke-width="0.12" >60%</text>
<line x1="392" y1="536.6" x2="392" y2="537.4" stroke="#828282" stroke-width="0.4"/>
<line x1="402.9" y1="536.6" x2="402.9" y2="537.9" stroke="#828282" stroke-width="0.5"/>
<text transform="translate(402.92,542.50) scale(0.9,1)" font-size="3.67" text-anchor="middle" font-weight="bold" style="font-family:'Liberation Serif',serif" fill="#222" stroke="#222" stroke-width="0.12" >80%</text>
<line x1="413.8" y1="536.6" x2="413.8" y2="537.4" stroke="#828282" stroke-width="0.4"/>
<line x1="424.7" y1="536.6" x2="424.7" y2="537.9" stroke="#828282" stroke-width="0.5"/>
<text transform="translate(424.70,542.50) scale(0.9,1)" font-size="3.67" text-anchor="middle" font-weight="bold" style="font-family:'Liberation Serif',serif" fill="#222" stroke="#222" stroke-width="0.12" >100%</text>
<text transform="translate(372.25,546.30) scale(0.9,1)" font-size="3.22" text-anchor="middle" font-weight="bold" style="font-family:'Liberation Serif',serif" fill="#222" stroke="#222" stroke-width="0.12" >Percentage of Backward Phase (%)</text>
<text x="0" y="0" font-size="3.6" font-weight="bold" text-anchor="middle" style="font-family:'Liberation Serif',serif" fill="#222" stroke="#222" stroke-width="0.1" transform="translate(308.4,513.7) rotate(-90)">SPM{t}</text>
<text transform="translate(421.60,497.70) scale(0.9,1)" font-size="3.67" font-weight="bold" text-anchor="end" style="font-family:'Liberation Serif',serif" fill="#222" stroke="#222" stroke-width="0.06">α=0.05,  t<tspan dy="-1.6" font-size="2.4">*</tspan><tspan dy="1.6">=3.258</tspan></text>
</svg>
</body></html>
